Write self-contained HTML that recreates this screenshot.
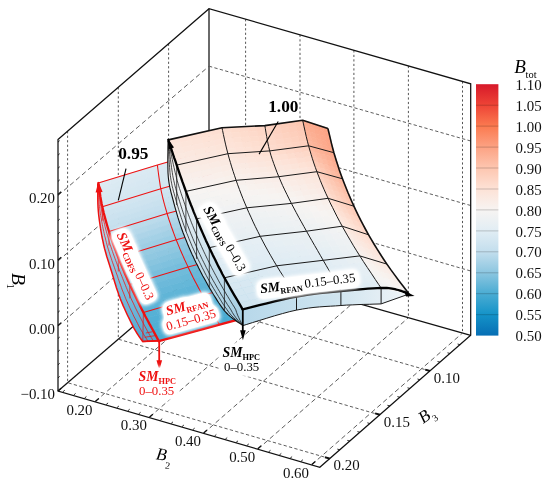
<!DOCTYPE html>
<html lang="en"><head><meta charset="utf-8"><title>B1-B2-B3 iso-surfaces</title>
<style>
html,body{margin:0;padding:0;background:#fff}
svg{display:block;font-family:"Liberation Serif",serif}
.edge{stroke:#111;stroke-width:1.25;stroke-linejoin:miter;fill:none}
.dash{stroke:#555;stroke-width:0.95;stroke-dasharray:3.3 2.3}
.dash3{stroke:#555;stroke-width:0.95;stroke-dasharray:4.8 3.1}
.dot{stroke:#555;stroke-width:1.0;stroke-dasharray:2.2 2.3}
.tkM{stroke:#111;stroke-width:1.3}
.tkB{stroke:#111;stroke-width:2.0}
.tkm{stroke:#111;stroke-width:0.9}
.rmesh{stroke:#ee1111;stroke-width:1.05;stroke-linejoin:round}
.rthin{stroke:#ee1111;stroke-width:0.75}
.rthino{stroke:#ee1111;stroke-width:1.5;stroke-linejoin:round}
.rthick{stroke:#ee1111;stroke-width:2.3;stroke-linejoin:round;stroke-linecap:round}
.rarrow{stroke:#ee1111;stroke-width:1.8}
.bmesh{stroke:#1a1a1a;stroke-width:1.0;stroke-linejoin:round}
.bedge{stroke:#111;stroke-width:1.6;stroke-linejoin:round}
.bthin{stroke:#111;stroke-width:0.75}
.bthino{stroke:#111;stroke-width:1.1;stroke-linejoin:round}
.bthick{stroke:#000;stroke-width:2.3;stroke-linejoin:round;stroke-linecap:round}
.bthick2{stroke:#000;stroke-width:2.0;stroke-linejoin:round;stroke-linecap:round}
.barrow{stroke:#000;stroke-width:1.8}
.glow{fill:#fff;stroke:#fff;stroke-width:6.5;stroke-linejoin:round;filter:url(#blur)}
</style></head><body>
<svg width="550" height="483" viewBox="0 0 550 483">
<defs><filter id="blur" x="-20%" y="-60%" width="140%" height="220%"><feGaussianBlur stdDeviation="2.0"/><feComponentTransfer><feFuncA type="linear" slope="1.8" intercept="0"/></feComponentTransfer></filter></defs>
<rect width="550" height="483" fill="#fff"/>
<g id="box-back">
<line x1="209.0" y1="8.7" x2="209.0" y2="261.2" class="edge"/>
<line x1="58.0" y1="391.0" x2="209.0" y2="261.2" class="edge"/>
<line x1="209.0" y1="261.2" x2="470.7" y2="335.3" class="edge"/>
</g>
<g id="grid">
<line x1="67.6" y1="131.2" x2="67.6" y2="382.7" class="dot"/>
<line x1="118.3" y1="87.3" x2="118.3" y2="339.2" class="dot"/>
<line x1="168.6" y1="43.7" x2="168.6" y2="295.9" class="dot"/>
<line x1="245.6" y1="19.2" x2="245.6" y2="271.6" class="dot"/>
<line x1="300.0" y1="34.8" x2="300.0" y2="287.0" class="dot"/>
<line x1="353.9" y1="50.3" x2="353.9" y2="302.2" class="dot"/>
<line x1="408.4" y1="65.9" x2="408.4" y2="317.7" class="dot"/>
<line x1="462.5" y1="81.4" x2="462.5" y2="333.0" class="dot"/>
<line x1="58.0" y1="195.5" x2="209.0" y2="66.2" class="dash3"/>
<line x1="209.0" y1="66.2" x2="470.7" y2="141.0" class="dash"/>
<line x1="58.0" y1="261.0" x2="209.0" y2="130.7" class="dash3"/>
<line x1="209.0" y1="130.7" x2="470.7" y2="205.5" class="dash"/>
<line x1="58.0" y1="326.0" x2="209.0" y2="195.2" class="dash3"/>
<line x1="209.0" y1="195.2" x2="470.7" y2="271.0" class="dash"/>
<line x1="95.3" y1="401.4" x2="245.6" y2="271.6" class="dash3"/>
<line x1="149.7" y1="416.9" x2="300.0" y2="287.0" class="dash3"/>
<line x1="203.8" y1="433.1" x2="353.9" y2="302.2" class="dash3"/>
<line x1="258.0" y1="449.0" x2="408.4" y2="317.7" class="dash3"/>
<line x1="311.8" y1="464.6" x2="462.5" y2="333.0" class="dash3"/>
<line x1="329.8" y1="458.6" x2="67.6" y2="382.7" class="dash"/>
<line x1="380.0" y1="415.0" x2="118.3" y2="339.2" class="dash"/>
<line x1="430.0" y1="371.0" x2="168.6" y2="295.9" class="dash"/>
</g>
<polygon class="edge" fill="none" points="58.0,139.5 209.0,8.7 470.7,83.8 470.7,335.3 319.8,467.3 58.0,391.0"/>
<g id="ticks">
<line x1="58.0" y1="391.0" x2="61.2" y2="388.3" class="tkM"/>
<line x1="58.0" y1="377.9" x2="59.7" y2="376.4" class="tkm"/>
<line x1="58.0" y1="364.8" x2="59.7" y2="363.3" class="tkm"/>
<line x1="58.0" y1="351.7" x2="59.7" y2="350.2" class="tkm"/>
<line x1="58.0" y1="338.6" x2="59.7" y2="337.1" class="tkm"/>
<line x1="58.0" y1="325.5" x2="61.2" y2="322.8" class="tkM"/>
<line x1="58.0" y1="312.4" x2="59.7" y2="310.9" class="tkm"/>
<line x1="58.0" y1="299.3" x2="59.7" y2="297.8" class="tkm"/>
<line x1="58.0" y1="286.2" x2="59.7" y2="284.7" class="tkm"/>
<line x1="58.0" y1="273.1" x2="59.7" y2="271.6" class="tkm"/>
<line x1="58.0" y1="260.0" x2="61.2" y2="257.3" class="tkM"/>
<line x1="58.0" y1="246.9" x2="59.7" y2="245.4" class="tkm"/>
<line x1="58.0" y1="233.8" x2="59.7" y2="232.3" class="tkm"/>
<line x1="58.0" y1="220.7" x2="59.7" y2="219.2" class="tkm"/>
<line x1="58.0" y1="207.6" x2="59.7" y2="206.1" class="tkm"/>
<line x1="58.0" y1="194.5" x2="61.2" y2="191.8" class="tkM"/>
<line x1="58.0" y1="181.4" x2="59.7" y2="179.9" class="tkm"/>
<line x1="58.0" y1="168.3" x2="59.7" y2="166.8" class="tkm"/>
<line x1="58.0" y1="155.2" x2="59.7" y2="153.7" class="tkm"/>
<line x1="58.0" y1="142.1" x2="59.7" y2="140.6" class="tkm"/>
<line x1="62.8" y1="391.9" x2="64.8" y2="390.2" class="tkm"/>
<line x1="73.7" y1="395.1" x2="75.6" y2="393.4" class="tkm"/>
<line x1="84.5" y1="398.2" x2="86.4" y2="396.5" class="tkm"/>
<line x1="95.3" y1="401.4" x2="98.8" y2="398.4" class="tkM"/>
<line x1="106.1" y1="404.6" x2="108.1" y2="402.9" class="tkm"/>
<line x1="116.9" y1="407.7" x2="118.9" y2="406.0" class="tkm"/>
<line x1="127.8" y1="410.9" x2="129.7" y2="409.2" class="tkm"/>
<line x1="138.6" y1="414.0" x2="140.6" y2="412.3" class="tkm"/>
<line x1="149.4" y1="417.2" x2="152.9" y2="414.2" class="tkM"/>
<line x1="160.2" y1="420.4" x2="162.2" y2="418.7" class="tkm"/>
<line x1="171.1" y1="423.5" x2="173.0" y2="421.8" class="tkm"/>
<line x1="181.9" y1="426.7" x2="183.9" y2="425.0" class="tkm"/>
<line x1="192.7" y1="429.8" x2="194.7" y2="428.1" class="tkm"/>
<line x1="203.6" y1="433.0" x2="207.0" y2="430.0" class="tkM"/>
<line x1="214.4" y1="436.2" x2="216.3" y2="434.5" class="tkm"/>
<line x1="225.2" y1="439.3" x2="227.2" y2="437.6" class="tkm"/>
<line x1="236.0" y1="442.5" x2="238.0" y2="440.8" class="tkm"/>
<line x1="246.8" y1="445.6" x2="248.8" y2="443.9" class="tkm"/>
<line x1="257.7" y1="448.8" x2="261.2" y2="445.8" class="tkM"/>
<line x1="268.5" y1="452.0" x2="270.5" y2="450.3" class="tkm"/>
<line x1="279.3" y1="455.1" x2="281.3" y2="453.4" class="tkm"/>
<line x1="290.1" y1="458.3" x2="292.1" y2="456.6" class="tkm"/>
<line x1="301.0" y1="461.4" x2="302.9" y2="459.7" class="tkm"/>
<line x1="311.8" y1="464.6" x2="315.3" y2="461.6" class="tkM"/>
<line x1="329.8" y1="458.6" x2="325.0" y2="457.2" class="tkB"/>
<line x1="339.8" y1="449.8" x2="337.3" y2="449.1" class="tkm"/>
<line x1="349.8" y1="441.1" x2="347.3" y2="440.4" class="tkm"/>
<line x1="359.9" y1="432.3" x2="357.4" y2="431.6" class="tkm"/>
<line x1="369.9" y1="423.6" x2="367.4" y2="422.8" class="tkm"/>
<line x1="379.9" y1="414.8" x2="375.1" y2="413.4" class="tkB"/>
<line x1="389.9" y1="406.0" x2="387.4" y2="405.3" class="tkm"/>
<line x1="399.9" y1="397.3" x2="397.4" y2="396.6" class="tkm"/>
<line x1="410.0" y1="388.5" x2="407.5" y2="387.8" class="tkm"/>
<line x1="420.0" y1="379.8" x2="417.5" y2="379.0" class="tkm"/>
<line x1="430.0" y1="371.0" x2="425.2" y2="369.6" class="tkB"/>
<line x1="440.0" y1="362.2" x2="437.5" y2="361.5" class="tkm"/>
<line x1="450.0" y1="353.5" x2="447.5" y2="352.8" class="tkm"/>
<line x1="460.1" y1="344.7" x2="457.6" y2="344.0" class="tkm"/>
</g>
<g id="red-body">
<defs><linearGradient id="rbandg" gradientUnits="userSpaceOnUse" x1="0" y1="183" x2="0" y2="342"><stop offset="0" stop-color="#d6e8f2"/><stop offset="0.45" stop-color="#9bcbe3"/><stop offset="1" stop-color="#4ea9d3"/></linearGradient></defs>
<clipPath id="bandclip1"><polygon points="98.3,183.1 98.6,184.9 99.0,187.3 99.4,190.2 99.9,193.3 100.4,196.7 101.0,200.2 101.6,203.5 102.3,206.7 103.0,209.7 103.7,212.8 104.5,215.9 105.3,218.9 106.2,222.1 107.1,225.2 108.0,228.3 109.0,231.5 110.0,234.7 111.1,237.9 112.2,241.1 113.3,244.4 114.5,247.6 115.8,250.9 117.0,254.2 118.3,257.5 119.6,260.8 121.0,264.1 122.4,267.5 123.8,270.8 125.2,274.2 126.7,277.6 128.2,281.0 129.8,284.4 131.4,287.8 133.0,291.3 134.7,294.8 136.4,298.3 138.1,301.8 139.8,305.3 141.6,308.9 143.4,312.4 145.3,316.2 147.5,320.2 149.7,324.4 152.0,328.5 154.1,332.4 156.0,335.9 157.6,338.9 158.8,341.1 159.1,341.0 142.6,341.6 142.0,340.7 141.2,339.5 140.2,338.1 139.1,336.5 138.0,334.8 136.8,333.0 135.7,331.2 134.6,329.3 133.5,327.4 132.5,325.3 131.4,323.2 130.3,321.0 129.2,318.7 128.1,316.5 127.0,314.2 126.0,312.0 125.0,309.8 124.1,307.7 123.1,305.6 122.2,303.4 121.3,301.3 120.4,299.1 119.6,296.8 118.7,294.5 117.9,292.1 117.1,289.8 116.3,287.4 115.6,285.0 114.8,282.5 114.0,279.8 113.2,277.0 112.3,274.0 111.3,270.8 110.2,267.3 109.1,263.7 107.9,260.0 106.7,256.2 105.6,252.3 104.5,248.4 103.6,244.5 102.8,240.6 101.9,236.5 101.2,232.3 100.5,228.2 99.9,224.0 99.3,219.9 98.8,215.9 98.4,212.0 98.1,208.1 97.9,204.0 97.8,199.8 97.8,195.8 97.8,192.1 97.8,188.7 97.8,185.9 97.8,183.7"/></clipPath>
<polygon points="98.3,183.1 98.6,184.9 99.0,187.3 99.4,190.2 99.9,193.3 100.4,196.7 101.0,200.2 101.6,203.5 102.3,206.7 103.0,209.7 103.7,212.8 104.5,215.9 105.3,218.9 106.2,222.1 107.1,225.2 108.0,228.3 109.0,231.5 110.0,234.7 111.1,237.9 112.2,241.1 113.3,244.4 114.5,247.6 115.8,250.9 117.0,254.2 118.3,257.5 119.6,260.8 121.0,264.1 122.4,267.5 123.8,270.8 125.2,274.2 126.7,277.6 128.2,281.0 129.8,284.4 131.4,287.8 133.0,291.3 134.7,294.8 136.4,298.3 138.1,301.8 139.8,305.3 141.6,308.9 143.4,312.4 145.3,316.2 147.5,320.2 149.7,324.4 152.0,328.5 154.1,332.4 156.0,335.9 157.6,338.9 158.8,341.1 159.1,341.0 142.6,341.6 142.0,340.7 141.2,339.5 140.2,338.1 139.1,336.5 138.0,334.8 136.8,333.0 135.7,331.2 134.6,329.3 133.5,327.4 132.5,325.3 131.4,323.2 130.3,321.0 129.2,318.7 128.1,316.5 127.0,314.2 126.0,312.0 125.0,309.8 124.1,307.7 123.1,305.6 122.2,303.4 121.3,301.3 120.4,299.1 119.6,296.8 118.7,294.5 117.9,292.1 117.1,289.8 116.3,287.4 115.6,285.0 114.8,282.5 114.0,279.8 113.2,277.0 112.3,274.0 111.3,270.8 110.2,267.3 109.1,263.7 107.9,260.0 106.7,256.2 105.6,252.3 104.5,248.4 103.6,244.5 102.8,240.6 101.9,236.5 101.2,232.3 100.5,228.2 99.9,224.0 99.3,219.9 98.8,215.9 98.4,212.0 98.1,208.1 97.9,204.0 97.8,199.8 97.8,195.8 97.8,192.1 97.8,188.7 97.8,185.9 97.8,183.7" fill="url(#rbandg)" stroke="none"/>
<g clip-path="url(#bandclip1)">
<polyline points="98.2,184.0 98.5,186.2 98.7,188.5 98.9,190.8 99.2,193.0 99.4,195.2 99.6,197.5 99.9,199.8 100.2,202.0 100.5,204.2 100.9,206.5 101.2,208.8 101.7,211.0 102.1,213.2 102.5,215.5 103.0,217.8 103.5,220.0 104.1,222.2 104.6,224.5 105.1,226.8 105.7,229.0 106.3,231.2 106.9,233.5 107.6,235.8 108.2,238.0 108.9,240.2 109.5,242.5 110.2,244.8 111.0,247.0 111.7,249.2 112.5,251.5 113.3,253.8 114.1,256.0 114.9,258.2 115.7,260.5 116.6,262.8 117.4,265.0 118.3,267.2 119.2,269.5 120.0,271.8 120.9,274.0 121.8,276.2 122.7,278.5 123.6,280.8 124.5,283.0 125.4,285.2 126.3,287.5 127.3,289.8 128.2,292.0 129.2,294.2 130.2,296.5 131.2,298.8 132.2,301.0 133.3,303.2 134.4,305.5 135.4,307.8 136.5,310.0 137.6,312.2 138.8,314.5 139.9,316.8 141.1,319.0 142.2,321.2 143.4,323.5 144.6,325.8 145.8,328.0 147.0,330.2 148.3,332.5 149.6,334.8 150.9,337.0 152.3,339.2 153.4,341.5" class="rthin" fill="none"/>
<polyline points="98.0,184.0 98.1,186.2 98.3,188.5 98.4,190.8 98.5,193.0 98.6,195.2 98.7,197.5 98.9,199.8 99.1,202.0 99.2,204.2 99.5,206.5 99.7,208.8 100.0,211.0 100.3,213.2 100.7,215.5 101.1,217.8 101.5,220.0 101.9,222.2 102.3,224.5 102.7,226.8 103.2,229.0 103.7,231.2 104.2,233.5 104.7,235.8 105.3,238.0 105.8,240.2 106.4,242.5 107.0,244.8 107.6,247.0 108.3,249.2 109.0,251.5 109.7,253.8 110.4,256.0 111.2,258.2 111.9,260.5 112.7,262.8 113.5,265.0 114.3,267.2 115.1,269.5 115.9,271.8 116.7,274.0 117.5,276.2 118.2,278.5 119.0,280.8 119.8,283.0 120.6,285.2 121.4,287.5 122.2,289.8 123.1,292.0 124.0,294.2 124.9,296.5 125.8,298.8 126.8,301.0 127.8,303.2 128.8,305.5 129.8,307.8 130.9,310.0 132.0,312.2 133.0,314.5 134.1,316.8 135.3,319.0 136.4,321.2 137.6,323.5 138.7,325.8 139.9,328.0 141.2,330.2 142.5,332.5 143.9,334.8 145.3,337.0 146.7,339.2 148.1,341.5" class="rthin" fill="none"/>
<polyline points="102.3,206.7 102.3,220.7" class="rthin" fill="none"/>
<polyline points="109.0,231.5 109.0,245.5" class="rthin" fill="none"/>
<polyline points="118.3,257.5 118.3,271.5" class="rthin" fill="none"/>
<polyline points="129.8,284.4 129.8,298.4" class="rthin" fill="none"/>
</g>
<polyline points="97.8,183.7 97.8,185.9 97.8,188.7 97.8,192.1 97.8,195.8 97.8,199.8 97.9,204.0 98.1,208.1 98.4,212.0 98.8,215.9 99.3,219.9 99.9,224.0 100.5,228.2 101.2,232.3 101.9,236.5 102.8,240.6 103.6,244.5 104.5,248.4 105.6,252.3 106.7,256.2 107.9,260.0 109.1,263.7 110.2,267.3 111.3,270.8 112.3,274.0 113.2,277.0 114.0,279.8 114.8,282.5 115.6,285.0 116.3,287.4 117.1,289.8 117.9,292.1 118.7,294.5 119.6,296.8 120.4,299.1 121.3,301.3 122.2,303.4 123.1,305.6 124.1,307.7 125.0,309.8 126.0,312.0 127.0,314.2 128.1,316.5 129.2,318.7 130.3,321.0 131.4,323.2 132.5,325.3 133.5,327.4 134.6,329.3 135.7,331.2 136.8,333.0 138.0,334.8 139.1,336.5 140.2,338.1 141.2,339.5 142.0,340.7 142.6,341.6 159.1,341.0" class="rthino" fill="none"/>
<polyline points="143.4,312.4 142.8,341.2" class="rthin" fill="none"/>
<polyline points="144.6,337.3 155.5,335.6" class="rthin" fill="none"/>
<polyline points="145.8,333.0 152.2,331.8" class="rthin" fill="none"/>
<polyline points="142.6,341.6 159.1,340.6" class="rthino" fill="none"/>
<polygon points="98.3,183.1 110.1,179.5 110.9,184.2 99.1,187.8" fill="#ddebf3" stroke="#ddebf3" stroke-width="0.7"/>
<polygon points="99.1,187.8 110.9,184.2 111.7,188.9 99.9,192.5" fill="#dbeaf3" stroke="#dbeaf3" stroke-width="0.7"/>
<polygon points="99.9,192.5 111.7,188.9 112.4,193.7 100.7,197.3" fill="#d9e9f2" stroke="#d9e9f2" stroke-width="0.7"/>
<polygon points="100.7,197.3 112.4,193.7 113.2,198.4 101.5,202.0" fill="#d7e8f2" stroke="#d7e8f2" stroke-width="0.7"/>
<polygon points="101.5,202.0 113.2,198.4 114.0,203.1 102.3,206.7" fill="#d6e7f1" stroke="#d6e7f1" stroke-width="0.7"/>
<polygon points="110.1,179.5 121.9,175.9 122.7,180.6 110.9,184.2" fill="#dcebf3" stroke="#dcebf3" stroke-width="0.7"/>
<polygon points="110.9,184.2 122.7,180.6 123.4,185.4 111.7,188.9" fill="#daeaf2" stroke="#daeaf2" stroke-width="0.7"/>
<polygon points="111.7,188.9 123.4,185.4 124.2,190.1 112.4,193.7" fill="#d9e9f2" stroke="#d9e9f2" stroke-width="0.7"/>
<polygon points="112.4,193.7 124.2,190.1 124.9,194.8 113.2,198.4" fill="#d7e8f2" stroke="#d7e8f2" stroke-width="0.7"/>
<polygon points="113.2,198.4 124.9,194.8 125.7,199.5 114.0,203.1" fill="#d5e7f1" stroke="#d5e7f1" stroke-width="0.7"/>
<polygon points="121.9,175.9 133.8,172.3 134.5,177.0 122.7,180.6" fill="#dceaf3" stroke="#dceaf3" stroke-width="0.7"/>
<polygon points="122.7,180.6 134.5,177.0 135.2,181.8 123.4,185.4" fill="#dae9f2" stroke="#dae9f2" stroke-width="0.7"/>
<polygon points="123.4,185.4 135.2,181.8 135.9,186.5 124.2,190.1" fill="#d8e8f2" stroke="#d8e8f2" stroke-width="0.7"/>
<polygon points="124.2,190.1 135.9,186.5 136.7,191.2 124.9,194.8" fill="#d6e8f1" stroke="#d6e8f1" stroke-width="0.7"/>
<polygon points="124.9,194.8 136.7,191.2 137.4,196.0 125.7,199.5" fill="#d4e7f1" stroke="#d4e7f1" stroke-width="0.7"/>
<polygon points="133.8,172.3 145.6,168.7 146.3,173.4 134.5,177.0" fill="#dbeaf3" stroke="#dbeaf3" stroke-width="0.7"/>
<polygon points="134.5,177.0 146.3,173.4 147.0,178.2 135.2,181.8" fill="#d9e9f2" stroke="#d9e9f2" stroke-width="0.7"/>
<polygon points="135.2,181.8 147.0,178.2 147.7,182.9 135.9,186.5" fill="#d7e8f2" stroke="#d7e8f2" stroke-width="0.7"/>
<polygon points="135.9,186.5 147.7,182.9 148.4,187.6 136.7,191.2" fill="#d6e7f1" stroke="#d6e7f1" stroke-width="0.7"/>
<polygon points="136.7,191.2 148.4,187.6 149.1,192.4 137.4,196.0" fill="#d4e6f1" stroke="#d4e6f1" stroke-width="0.7"/>
<polygon points="145.6,168.7 157.4,165.1 158.1,169.8 146.3,173.4" fill="#daeaf2" stroke="#daeaf2" stroke-width="0.7"/>
<polygon points="146.3,173.4 158.1,169.8 158.8,174.6 147.0,178.2" fill="#d9e9f2" stroke="#d9e9f2" stroke-width="0.7"/>
<polygon points="147.0,178.2 158.8,174.6 159.4,179.3 147.7,182.9" fill="#d7e8f2" stroke="#d7e8f2" stroke-width="0.7"/>
<polygon points="147.7,182.9 159.4,179.3 160.1,184.1 148.4,187.6" fill="#d5e7f1" stroke="#d5e7f1" stroke-width="0.7"/>
<polygon points="148.4,187.6 160.1,184.1 160.8,188.8 149.1,192.4" fill="#d3e6f1" stroke="#d3e6f1" stroke-width="0.7"/>
<polygon points="157.4,165.1 167.3,162.2 168.0,167.0 158.1,169.8" fill="#dae9f2" stroke="#dae9f2" stroke-width="0.7"/>
<polygon points="158.1,169.8 168.0,167.0 168.8,171.7 158.8,174.6" fill="#d8e8f2" stroke="#d8e8f2" stroke-width="0.7"/>
<polygon points="158.8,174.6 168.8,171.7 169.5,176.5 159.4,179.3" fill="#d6e8f1" stroke="#d6e8f1" stroke-width="0.7"/>
<polygon points="159.4,179.3 169.5,176.5 170.2,181.2 160.1,184.1" fill="#d4e7f1" stroke="#d4e7f1" stroke-width="0.7"/>
<polygon points="160.1,184.1 170.2,181.2 170.9,186.0 160.8,188.8" fill="#d3e6f1" stroke="#d3e6f1" stroke-width="0.7"/>
<polygon points="167.3,162.2 177.2,159.3 178.0,164.1 168.0,167.0" fill="#d9e9f2" stroke="#d9e9f2" stroke-width="0.7"/>
<polygon points="168.0,167.0 178.0,164.1 178.8,168.9 168.8,171.7" fill="#d7e8f2" stroke="#d7e8f2" stroke-width="0.7"/>
<polygon points="168.8,171.7 178.8,168.9 179.5,173.6 169.5,176.5" fill="#d6e7f1" stroke="#d6e7f1" stroke-width="0.7"/>
<polygon points="169.5,176.5 179.5,173.6 180.3,178.4 170.2,181.2" fill="#d4e6f1" stroke="#d4e6f1" stroke-width="0.7"/>
<polygon points="170.2,181.2 180.3,178.4 181.1,183.1 170.9,186.0" fill="#d2e5f0" stroke="#d2e5f0" stroke-width="0.7"/>
<polygon points="177.2,159.3 187.2,156.5 188.0,161.2 178.0,164.1" fill="#d9e9f2" stroke="#d9e9f2" stroke-width="0.7"/>
<polygon points="178.0,164.1 188.0,161.2 188.8,166.0 178.8,168.9" fill="#d7e8f2" stroke="#d7e8f2" stroke-width="0.7"/>
<polygon points="178.8,168.9 188.8,166.0 189.6,170.8 179.5,173.6" fill="#d5e7f1" stroke="#d5e7f1" stroke-width="0.7"/>
<polygon points="179.5,173.6 189.6,170.8 190.4,175.5 180.3,178.4" fill="#d3e6f1" stroke="#d3e6f1" stroke-width="0.7"/>
<polygon points="180.3,178.4 190.4,175.5 191.2,180.3 181.1,183.1" fill="#d1e5f0" stroke="#d1e5f0" stroke-width="0.7"/>
<polygon points="187.2,156.5 197.1,153.6 197.9,158.4 188.0,161.2" fill="#d8e9f2" stroke="#d8e9f2" stroke-width="0.7"/>
<polygon points="188.0,161.2 197.9,158.4 198.8,163.1 188.8,166.0" fill="#d6e8f1" stroke="#d6e8f1" stroke-width="0.7"/>
<polygon points="188.8,166.0 198.8,163.1 199.6,167.9 189.6,170.8" fill="#d4e7f1" stroke="#d4e7f1" stroke-width="0.7"/>
<polygon points="189.6,170.8 199.6,167.9 200.5,172.7 190.4,175.5" fill="#d3e6f1" stroke="#d3e6f1" stroke-width="0.7"/>
<polygon points="190.4,175.5 200.5,172.7 201.4,177.4 191.2,180.3" fill="#d1e5f0" stroke="#d1e5f0" stroke-width="0.7"/>
<polygon points="197.1,153.6 207.0,150.7 207.9,155.5 197.9,158.4" fill="#d7e8f2" stroke="#d7e8f2" stroke-width="0.7"/>
<polygon points="197.9,158.4 207.9,155.5 208.8,160.3 198.8,163.1" fill="#d6e7f1" stroke="#d6e7f1" stroke-width="0.7"/>
<polygon points="198.8,163.1 208.8,160.3 209.7,165.0 199.6,167.9" fill="#d4e6f1" stroke="#d4e6f1" stroke-width="0.7"/>
<polygon points="199.6,167.9 209.7,165.0 210.6,169.8 200.5,172.7" fill="#d2e6f0" stroke="#d2e6f0" stroke-width="0.7"/>
<polygon points="200.5,172.7 210.6,169.8 211.5,174.6 201.4,177.4" fill="#d0e5f0" stroke="#d0e5f0" stroke-width="0.7"/>
<polygon points="102.3,206.7 114.0,203.1 115.3,208.1 103.6,211.7" fill="#d3e6f1" stroke="#d3e6f1" stroke-width="0.7"/>
<polygon points="103.6,211.7 115.3,208.1 116.6,213.0 105.0,216.6" fill="#cfe4f0" stroke="#cfe4f0" stroke-width="0.7"/>
<polygon points="105.0,216.6 116.6,213.0 118.0,218.0 106.3,221.6" fill="#cce2ef" stroke="#cce2ef" stroke-width="0.7"/>
<polygon points="106.3,221.6 118.0,218.0 119.3,223.0 107.7,226.5" fill="#c8e1ee" stroke="#c8e1ee" stroke-width="0.7"/>
<polygon points="107.7,226.5 119.3,223.0 120.6,227.9 109.0,231.5" fill="#c5dfed" stroke="#c5dfed" stroke-width="0.7"/>
<polygon points="114.0,203.1 125.7,199.5 127.0,204.5 115.3,208.1" fill="#d2e6f1" stroke="#d2e6f1" stroke-width="0.7"/>
<polygon points="115.3,208.1 127.0,204.5 128.3,209.5 116.6,213.0" fill="#cfe4f0" stroke="#cfe4f0" stroke-width="0.7"/>
<polygon points="116.6,213.0 128.3,209.5 129.6,214.4 118.0,218.0" fill="#cbe2ef" stroke="#cbe2ef" stroke-width="0.7"/>
<polygon points="118.0,218.0 129.6,214.4 130.9,219.4 119.3,223.0" fill="#c7e0ee" stroke="#c7e0ee" stroke-width="0.7"/>
<polygon points="119.3,223.0 130.9,219.4 132.2,224.3 120.6,227.9" fill="#c4deed" stroke="#c4deed" stroke-width="0.7"/>
<polygon points="125.7,199.5 137.4,196.0 138.7,200.9 127.0,204.5" fill="#d2e5f0" stroke="#d2e5f0" stroke-width="0.7"/>
<polygon points="127.0,204.5 138.7,200.9 140.0,205.9 128.3,209.5" fill="#cee4f0" stroke="#cee4f0" stroke-width="0.7"/>
<polygon points="128.3,209.5 140.0,205.9 141.3,210.8 129.6,214.4" fill="#cbe2ef" stroke="#cbe2ef" stroke-width="0.7"/>
<polygon points="129.6,214.4 141.3,210.8 142.6,215.8 130.9,219.4" fill="#c7e0ee" stroke="#c7e0ee" stroke-width="0.7"/>
<polygon points="130.9,219.4 142.6,215.8 143.9,220.8 132.2,224.3" fill="#c3deed" stroke="#c3deed" stroke-width="0.7"/>
<polygon points="137.4,196.0 149.1,192.4 150.4,197.3 138.7,200.9" fill="#d1e5f0" stroke="#d1e5f0" stroke-width="0.7"/>
<polygon points="138.7,200.9 150.4,197.3 151.7,202.3 140.0,205.9" fill="#cee3ef" stroke="#cee3ef" stroke-width="0.7"/>
<polygon points="140.0,205.9 151.7,202.3 152.9,207.3 141.3,210.8" fill="#cae1ef" stroke="#cae1ef" stroke-width="0.7"/>
<polygon points="141.3,210.8 152.9,207.3 154.2,212.2 142.6,215.8" fill="#c6e0ee" stroke="#c6e0ee" stroke-width="0.7"/>
<polygon points="142.6,215.8 154.2,212.2 155.5,217.2 143.9,220.8" fill="#c2deed" stroke="#c2deed" stroke-width="0.7"/>
<polygon points="149.1,192.4 160.8,188.8 162.1,193.8 150.4,197.3" fill="#d1e5f0" stroke="#d1e5f0" stroke-width="0.7"/>
<polygon points="150.4,197.3 162.1,193.8 163.3,198.7 151.7,202.3" fill="#cde3ef" stroke="#cde3ef" stroke-width="0.7"/>
<polygon points="151.7,202.3 163.3,198.7 164.6,203.7 152.9,207.3" fill="#c9e1ee" stroke="#c9e1ee" stroke-width="0.7"/>
<polygon points="152.9,207.3 164.6,203.7 165.8,208.6 154.2,212.2" fill="#c6dfee" stroke="#c6dfee" stroke-width="0.7"/>
<polygon points="154.2,212.2 165.8,208.6 167.1,213.6 155.5,217.2" fill="#c1dded" stroke="#c1dded" stroke-width="0.7"/>
<polygon points="160.8,188.8 170.9,186.0 172.2,190.9 162.1,193.8" fill="#d0e4f0" stroke="#d0e4f0" stroke-width="0.7"/>
<polygon points="162.1,193.8 172.2,190.9 173.5,195.9 163.3,198.7" fill="#cce3ef" stroke="#cce3ef" stroke-width="0.7"/>
<polygon points="163.3,198.7 173.5,195.9 174.9,200.9 164.6,203.7" fill="#c9e1ee" stroke="#c9e1ee" stroke-width="0.7"/>
<polygon points="164.6,203.7 174.9,200.9 176.2,205.8 165.8,208.6" fill="#c5dfed" stroke="#c5dfed" stroke-width="0.7"/>
<polygon points="165.8,208.6 176.2,205.8 177.5,210.8 167.1,213.6" fill="#c0ddec" stroke="#c0ddec" stroke-width="0.7"/>
<polygon points="170.9,186.0 181.1,183.1 182.4,188.1 172.2,190.9" fill="#cfe4f0" stroke="#cfe4f0" stroke-width="0.7"/>
<polygon points="172.2,190.9 182.4,188.1 183.8,193.1 173.5,195.9" fill="#cce2ef" stroke="#cce2ef" stroke-width="0.7"/>
<polygon points="173.5,195.9 183.8,193.1 185.1,198.1 174.9,200.9" fill="#c8e1ee" stroke="#c8e1ee" stroke-width="0.7"/>
<polygon points="174.9,200.9 185.1,198.1 186.5,203.1 176.2,205.8" fill="#c4dfed" stroke="#c4dfed" stroke-width="0.7"/>
<polygon points="176.2,205.8 186.5,203.1 187.8,208.0 177.5,210.8" fill="#bfdcec" stroke="#bfdcec" stroke-width="0.7"/>
<polygon points="181.1,183.1 191.2,180.3 192.6,185.3 182.4,188.1" fill="#cfe4f0" stroke="#cfe4f0" stroke-width="0.7"/>
<polygon points="182.4,188.1 192.6,185.3 194.0,190.3 183.8,193.1" fill="#cbe2ef" stroke="#cbe2ef" stroke-width="0.7"/>
<polygon points="183.8,193.1 194.0,190.3 195.4,195.3 185.1,198.1" fill="#c7e0ee" stroke="#c7e0ee" stroke-width="0.7"/>
<polygon points="185.1,198.1 195.4,195.3 196.8,200.3 186.5,203.1" fill="#c4deed" stroke="#c4deed" stroke-width="0.7"/>
<polygon points="186.5,203.1 196.8,200.3 198.2,205.3 187.8,208.0" fill="#bedcec" stroke="#bedcec" stroke-width="0.7"/>
<polygon points="191.2,180.3 201.4,177.4 202.8,182.4 192.6,185.3" fill="#cee4f0" stroke="#cee4f0" stroke-width="0.7"/>
<polygon points="192.6,185.3 202.8,182.4 204.2,187.5 194.0,190.3" fill="#cbe2ef" stroke="#cbe2ef" stroke-width="0.7"/>
<polygon points="194.0,190.3 204.2,187.5 205.7,192.5 195.4,195.3" fill="#c7e0ee" stroke="#c7e0ee" stroke-width="0.7"/>
<polygon points="195.4,195.3 205.7,192.5 207.1,197.5 196.8,200.3" fill="#c3deed" stroke="#c3deed" stroke-width="0.7"/>
<polygon points="196.8,200.3 207.1,197.5 208.5,202.5 198.2,205.3" fill="#bddbec" stroke="#bddbec" stroke-width="0.7"/>
<polygon points="201.4,177.4 211.5,174.6 213.0,179.6 202.8,182.4" fill="#cde3ef" stroke="#cde3ef" stroke-width="0.7"/>
<polygon points="202.8,182.4 213.0,179.6 214.5,184.6 204.2,187.5" fill="#cae1ef" stroke="#cae1ef" stroke-width="0.7"/>
<polygon points="204.2,187.5 214.5,184.6 215.9,189.7 205.7,192.5" fill="#c6e0ee" stroke="#c6e0ee" stroke-width="0.7"/>
<polygon points="205.7,192.5 215.9,189.7 217.4,194.7 207.1,197.5" fill="#c2deed" stroke="#c2deed" stroke-width="0.7"/>
<polygon points="207.1,197.5 217.4,194.7 218.9,199.7 208.5,202.5" fill="#bcdbeb" stroke="#bcdbeb" stroke-width="0.7"/>
<polygon points="109.0,231.5 120.6,227.9 122.5,233.1 110.9,236.7" fill="#bfdcec" stroke="#bfdcec" stroke-width="0.7"/>
<polygon points="110.9,236.7 122.5,233.1 124.3,238.3 112.7,241.9" fill="#b7d9ea" stroke="#b7d9ea" stroke-width="0.7"/>
<polygon points="112.7,241.9 124.3,238.3 126.2,243.5 114.6,247.1" fill="#afd5e8" stroke="#afd5e8" stroke-width="0.7"/>
<polygon points="114.6,247.1 126.2,243.5 128.0,248.7 116.4,252.3" fill="#a8d2e6" stroke="#a8d2e6" stroke-width="0.7"/>
<polygon points="116.4,252.3 128.0,248.7 129.9,253.9 118.3,257.5" fill="#a0cfe5" stroke="#a0cfe5" stroke-width="0.7"/>
<polygon points="120.6,227.9 132.2,224.3 134.1,229.5 122.5,233.1" fill="#bedcec" stroke="#bedcec" stroke-width="0.7"/>
<polygon points="122.5,233.1 134.1,229.5 135.9,234.8 124.3,238.3" fill="#b6d8ea" stroke="#b6d8ea" stroke-width="0.7"/>
<polygon points="124.3,238.3 135.9,234.8 137.8,240.0 126.2,243.5" fill="#aed5e8" stroke="#aed5e8" stroke-width="0.7"/>
<polygon points="126.2,243.5 137.8,240.0 139.6,245.2 128.0,248.7" fill="#a6d2e6" stroke="#a6d2e6" stroke-width="0.7"/>
<polygon points="128.0,248.7 139.6,245.2 141.5,250.4 129.9,253.9" fill="#9fcee4" stroke="#9fcee4" stroke-width="0.7"/>
<polygon points="132.2,224.3 143.9,220.8 145.7,226.0 134.1,229.5" fill="#bcdbeb" stroke="#bcdbeb" stroke-width="0.7"/>
<polygon points="134.1,229.5 145.7,226.0 147.5,231.2 135.9,234.8" fill="#b5d8ea" stroke="#b5d8ea" stroke-width="0.7"/>
<polygon points="135.9,234.8 147.5,231.2 149.4,236.4 137.8,240.0" fill="#add4e8" stroke="#add4e8" stroke-width="0.7"/>
<polygon points="137.8,240.0 149.4,236.4 151.2,241.6 139.6,245.2" fill="#a5d1e6" stroke="#a5d1e6" stroke-width="0.7"/>
<polygon points="139.6,245.2 151.2,241.6 153.0,246.8 141.5,250.4" fill="#9ecee4" stroke="#9ecee4" stroke-width="0.7"/>
<polygon points="143.9,220.8 155.5,217.2 157.3,222.4 145.7,226.0" fill="#bbdbeb" stroke="#bbdbeb" stroke-width="0.7"/>
<polygon points="145.7,226.0 157.3,222.4 159.1,227.6 147.5,231.2" fill="#b4d7e9" stroke="#b4d7e9" stroke-width="0.7"/>
<polygon points="147.5,231.2 159.1,227.6 161.0,232.8 149.4,236.4" fill="#acd4e8" stroke="#acd4e8" stroke-width="0.7"/>
<polygon points="149.4,236.4 161.0,232.8 162.8,238.0 151.2,241.6" fill="#a4d1e6" stroke="#a4d1e6" stroke-width="0.7"/>
<polygon points="151.2,241.6 162.8,238.0 164.6,243.3 153.0,246.8" fill="#9dcde4" stroke="#9dcde4" stroke-width="0.7"/>
<polygon points="155.5,217.2 167.1,213.6 168.9,218.8 157.3,222.4" fill="#badaeb" stroke="#badaeb" stroke-width="0.7"/>
<polygon points="157.3,222.4 168.9,218.8 170.7,224.0 159.1,227.6" fill="#b3d7e9" stroke="#b3d7e9" stroke-width="0.7"/>
<polygon points="159.1,227.6 170.7,224.0 172.6,229.3 161.0,232.8" fill="#abd3e7" stroke="#abd3e7" stroke-width="0.7"/>
<polygon points="161.0,232.8 172.6,229.3 174.4,234.5 162.8,238.0" fill="#a3d0e5" stroke="#a3d0e5" stroke-width="0.7"/>
<polygon points="162.8,238.0 174.4,234.5 176.2,239.7 164.6,243.3" fill="#9bcde4" stroke="#9bcde4" stroke-width="0.7"/>
<polygon points="167.1,213.6 177.5,210.8 179.3,216.0 168.9,218.8" fill="#b9daeb" stroke="#b9daeb" stroke-width="0.7"/>
<polygon points="168.9,218.8 179.3,216.0 181.2,221.3 170.7,224.0" fill="#b1d6e9" stroke="#b1d6e9" stroke-width="0.7"/>
<polygon points="170.7,224.0 181.2,221.3 183.1,226.5 172.6,229.3" fill="#aad3e7" stroke="#aad3e7" stroke-width="0.7"/>
<polygon points="172.6,229.3 183.1,226.5 184.9,231.7 174.4,234.5" fill="#a2d0e5" stroke="#a2d0e5" stroke-width="0.7"/>
<polygon points="174.4,234.5 184.9,231.7 186.8,236.9 176.2,239.7" fill="#9acce3" stroke="#9acce3" stroke-width="0.7"/>
<polygon points="177.5,210.8 187.8,208.0 189.7,213.3 179.3,216.0" fill="#b8d9ea" stroke="#b8d9ea" stroke-width="0.7"/>
<polygon points="179.3,216.0 189.7,213.3 191.6,218.5 181.2,221.3" fill="#b0d6e9" stroke="#b0d6e9" stroke-width="0.7"/>
<polygon points="181.2,221.3 191.6,218.5 193.5,223.7 183.1,226.5" fill="#a9d2e7" stroke="#a9d2e7" stroke-width="0.7"/>
<polygon points="183.1,226.5 193.5,223.7 195.5,228.9 184.9,231.7" fill="#a1cfe5" stroke="#a1cfe5" stroke-width="0.7"/>
<polygon points="184.9,231.7 195.5,228.9 197.4,234.1 186.8,236.9" fill="#99cce3" stroke="#99cce3" stroke-width="0.7"/>
<polygon points="187.8,208.0 198.2,205.3 200.1,210.5 189.7,213.3" fill="#b7d9ea" stroke="#b7d9ea" stroke-width="0.7"/>
<polygon points="189.7,213.3 200.1,210.5 202.1,215.7 191.6,218.5" fill="#afd5e8" stroke="#afd5e8" stroke-width="0.7"/>
<polygon points="191.6,218.5 202.1,215.7 204.0,220.9 193.5,223.7" fill="#a7d2e6" stroke="#a7d2e6" stroke-width="0.7"/>
<polygon points="193.5,223.7 204.0,220.9 206.0,226.1 195.5,228.9" fill="#a0cfe5" stroke="#a0cfe5" stroke-width="0.7"/>
<polygon points="195.5,228.9 206.0,226.1 207.9,231.4 197.4,234.1" fill="#98cbe3" stroke="#98cbe3" stroke-width="0.7"/>
<polygon points="198.2,205.3 208.5,202.5 210.5,207.7 200.1,210.5" fill="#b6d8ea" stroke="#b6d8ea" stroke-width="0.7"/>
<polygon points="200.1,210.5 210.5,207.7 212.5,212.9 202.1,215.7" fill="#aed5e8" stroke="#aed5e8" stroke-width="0.7"/>
<polygon points="202.1,215.7 212.5,212.9 214.5,218.1 204.0,220.9" fill="#a6d2e6" stroke="#a6d2e6" stroke-width="0.7"/>
<polygon points="204.0,220.9 214.5,218.1 216.5,223.4 206.0,226.1" fill="#9fcee4" stroke="#9fcee4" stroke-width="0.7"/>
<polygon points="206.0,226.1 216.5,223.4 218.5,228.6 207.9,231.4" fill="#97cbe3" stroke="#97cbe3" stroke-width="0.7"/>
<polygon points="208.5,202.5 218.9,199.7 220.9,204.9 210.5,207.7" fill="#b5d8ea" stroke="#b5d8ea" stroke-width="0.7"/>
<polygon points="210.5,207.7 220.9,204.9 223.0,210.1 212.5,212.9" fill="#add4e8" stroke="#add4e8" stroke-width="0.7"/>
<polygon points="212.5,212.9 223.0,210.1 225.0,215.4 214.5,218.1" fill="#a5d1e6" stroke="#a5d1e6" stroke-width="0.7"/>
<polygon points="214.5,218.1 225.0,215.4 227.1,220.6 216.5,223.4" fill="#9ecee4" stroke="#9ecee4" stroke-width="0.7"/>
<polygon points="216.5,223.4 227.1,220.6 229.1,225.8 218.5,228.6" fill="#96cae2" stroke="#96cae2" stroke-width="0.7"/>
<polygon points="118.3,257.5 129.9,253.9 132.2,259.3 120.6,262.9" fill="#99cce3" stroke="#99cce3" stroke-width="0.7"/>
<polygon points="120.6,262.9 132.2,259.3 134.5,264.7 122.9,268.3" fill="#92c9e1" stroke="#92c9e1" stroke-width="0.7"/>
<polygon points="122.9,268.3 134.5,264.7 136.8,270.1 125.2,273.6" fill="#8bc6e0" stroke="#8bc6e0" stroke-width="0.7"/>
<polygon points="125.2,273.6 136.8,270.1 139.1,275.5 127.5,279.0" fill="#83c3de" stroke="#83c3de" stroke-width="0.7"/>
<polygon points="127.5,279.0 139.1,275.5 141.4,280.9 129.8,284.4" fill="#7cc0dd" stroke="#7cc0dd" stroke-width="0.7"/>
<polygon points="129.9,253.9 141.5,250.4 143.8,255.8 132.2,259.3" fill="#98cbe3" stroke="#98cbe3" stroke-width="0.7"/>
<polygon points="132.2,259.3 143.8,255.8 146.1,261.2 134.5,264.7" fill="#91c8e1" stroke="#91c8e1" stroke-width="0.7"/>
<polygon points="134.5,264.7 146.1,261.2 148.4,266.6 136.8,270.1" fill="#8ac5e0" stroke="#8ac5e0" stroke-width="0.7"/>
<polygon points="136.8,270.1 148.4,266.6 150.8,272.0 139.1,275.5" fill="#82c2de" stroke="#82c2de" stroke-width="0.7"/>
<polygon points="139.1,275.5 150.8,272.0 153.1,277.4 141.4,280.9" fill="#7abfdc" stroke="#7abfdc" stroke-width="0.7"/>
<polygon points="141.5,250.4 153.0,246.8 155.4,252.2 143.8,255.8" fill="#96cbe2" stroke="#96cbe2" stroke-width="0.7"/>
<polygon points="143.8,255.8 155.4,252.2 157.7,257.7 146.1,261.2" fill="#90c8e1" stroke="#90c8e1" stroke-width="0.7"/>
<polygon points="146.1,261.2 157.7,257.7 160.0,263.1 148.4,266.6" fill="#89c5df" stroke="#89c5df" stroke-width="0.7"/>
<polygon points="148.4,266.6 160.0,263.1 162.4,268.5 150.8,272.0" fill="#81c2de" stroke="#81c2de" stroke-width="0.7"/>
<polygon points="150.8,272.0 162.4,268.5 164.7,273.9 153.1,277.4" fill="#79bedc" stroke="#79bedc" stroke-width="0.7"/>
<polygon points="153.0,246.8 164.6,243.3 167.0,248.7 155.4,252.2" fill="#95cae2" stroke="#95cae2" stroke-width="0.7"/>
<polygon points="155.4,252.2 167.0,248.7 169.3,254.1 157.7,257.7" fill="#8fc7e1" stroke="#8fc7e1" stroke-width="0.7"/>
<polygon points="157.7,257.7 169.3,254.1 171.7,259.5 160.0,263.1" fill="#87c4df" stroke="#87c4df" stroke-width="0.7"/>
<polygon points="160.0,263.1 171.7,259.5 174.0,265.0 162.4,268.5" fill="#7fc1de" stroke="#7fc1de" stroke-width="0.7"/>
<polygon points="162.4,268.5 174.0,265.0 176.4,270.4 164.7,273.9" fill="#78bedc" stroke="#78bedc" stroke-width="0.7"/>
<polygon points="164.6,243.3 176.2,239.7 178.6,245.1 167.0,248.7" fill="#94cae2" stroke="#94cae2" stroke-width="0.7"/>
<polygon points="167.0,248.7 178.6,245.1 180.9,250.6 169.3,254.1" fill="#8ec7e0" stroke="#8ec7e0" stroke-width="0.7"/>
<polygon points="169.3,254.1 180.9,250.6 183.3,256.0 171.7,259.5" fill="#86c4df" stroke="#86c4df" stroke-width="0.7"/>
<polygon points="171.7,259.5 183.3,256.0 185.6,261.5 174.0,265.0" fill="#7ec1dd" stroke="#7ec1dd" stroke-width="0.7"/>
<polygon points="174.0,265.0 185.6,261.5 188.0,266.9 176.4,270.4" fill="#76bddc" stroke="#76bddc" stroke-width="0.7"/>
<polygon points="176.2,239.7 186.8,236.9 189.2,242.4 178.6,245.1" fill="#93c9e2" stroke="#93c9e2" stroke-width="0.7"/>
<polygon points="178.6,245.1 189.2,242.4 191.6,247.8 180.9,250.6" fill="#8dc6e0" stroke="#8dc6e0" stroke-width="0.7"/>
<polygon points="180.9,250.6 191.6,247.8 194.0,253.2 183.3,256.0" fill="#85c3df" stroke="#85c3df" stroke-width="0.7"/>
<polygon points="183.3,256.0 194.0,253.2 196.4,258.6 185.6,261.5" fill="#7dc0dd" stroke="#7dc0dd" stroke-width="0.7"/>
<polygon points="185.6,261.5 196.4,258.6 198.8,264.1 188.0,266.9" fill="#75bddb" stroke="#75bddb" stroke-width="0.7"/>
<polygon points="186.8,236.9 197.4,234.1 199.8,239.6 189.2,242.4" fill="#92c9e1" stroke="#92c9e1" stroke-width="0.7"/>
<polygon points="189.2,242.4 199.8,239.6 202.3,245.0 191.6,247.8" fill="#8bc6e0" stroke="#8bc6e0" stroke-width="0.7"/>
<polygon points="191.6,247.8 202.3,245.0 204.7,250.4 194.0,253.2" fill="#83c3de" stroke="#83c3de" stroke-width="0.7"/>
<polygon points="194.0,253.2 204.7,250.4 207.2,255.8 196.4,258.6" fill="#7bbfdd" stroke="#7bbfdd" stroke-width="0.7"/>
<polygon points="196.4,258.6 207.2,255.8 209.6,261.3 198.8,264.1" fill="#74bcdb" stroke="#74bcdb" stroke-width="0.7"/>
<polygon points="197.4,234.1 207.9,231.4 210.4,236.8 199.8,239.6" fill="#91c8e1" stroke="#91c8e1" stroke-width="0.7"/>
<polygon points="199.8,239.6 210.4,236.8 212.9,242.2 202.3,245.0" fill="#8ac5e0" stroke="#8ac5e0" stroke-width="0.7"/>
<polygon points="202.3,245.0 212.9,242.2 215.5,247.6 204.7,250.4" fill="#82c2de" stroke="#82c2de" stroke-width="0.7"/>
<polygon points="204.7,250.4 215.5,247.6 218.0,253.0 207.2,255.8" fill="#7abfdc" stroke="#7abfdc" stroke-width="0.7"/>
<polygon points="207.2,255.8 218.0,253.0 220.5,258.4 209.6,261.3" fill="#72bcdb" stroke="#72bcdb" stroke-width="0.7"/>
<polygon points="207.9,231.4 218.5,228.6 221.1,234.0 210.4,236.8" fill="#90c8e1" stroke="#90c8e1" stroke-width="0.7"/>
<polygon points="210.4,236.8 221.1,234.0 223.6,239.4 212.9,242.2" fill="#89c5df" stroke="#89c5df" stroke-width="0.7"/>
<polygon points="212.9,242.2 223.6,239.4 226.2,244.8 215.5,247.6" fill="#81c2de" stroke="#81c2de" stroke-width="0.7"/>
<polygon points="215.5,247.6 226.2,244.8 228.7,250.2 218.0,253.0" fill="#79bedc" stroke="#79bedc" stroke-width="0.7"/>
<polygon points="218.0,253.0 228.7,250.2 231.3,255.6 220.5,258.4" fill="#71bbdb" stroke="#71bbdb" stroke-width="0.7"/>
<polygon points="218.5,228.6 229.1,225.8 231.7,231.2 221.1,234.0" fill="#8fc7e1" stroke="#8fc7e1" stroke-width="0.7"/>
<polygon points="221.1,234.0 231.7,231.2 234.3,236.6 223.6,239.4" fill="#87c4df" stroke="#87c4df" stroke-width="0.7"/>
<polygon points="223.6,239.4 234.3,236.6 236.9,242.0 226.2,244.8" fill="#7fc1de" stroke="#7fc1de" stroke-width="0.7"/>
<polygon points="226.2,244.8 236.9,242.0 239.5,247.4 228.7,250.2" fill="#78bedc" stroke="#78bedc" stroke-width="0.7"/>
<polygon points="228.7,250.2 239.5,247.4 242.1,252.8 231.3,255.6" fill="#70bbda" stroke="#70bbda" stroke-width="0.7"/>
<polygon points="129.8,284.4 141.4,280.9 144.2,286.5 132.5,290.0" fill="#74bddb" stroke="#74bddb" stroke-width="0.7"/>
<polygon points="132.5,290.0 144.2,286.5 147.0,292.1 135.2,295.6" fill="#6ebada" stroke="#6ebada" stroke-width="0.7"/>
<polygon points="135.2,295.6 147.0,292.1 149.7,297.7 138.0,301.2" fill="#67b8d9" stroke="#67b8d9" stroke-width="0.7"/>
<polygon points="138.0,301.2 149.7,297.7 152.5,303.3 140.7,306.8" fill="#61b5d8" stroke="#61b5d8" stroke-width="0.7"/>
<polygon points="140.7,306.8 152.5,303.3 155.2,309.0 143.4,312.4" fill="#5ab2d6" stroke="#5ab2d6" stroke-width="0.7"/>
<polygon points="141.4,280.9 153.1,277.4 155.9,283.0 144.2,286.5" fill="#73bcdb" stroke="#73bcdb" stroke-width="0.7"/>
<polygon points="144.2,286.5 155.9,283.0 158.7,288.6 147.0,292.1" fill="#6dbada" stroke="#6dbada" stroke-width="0.7"/>
<polygon points="147.0,292.1 158.7,288.6 161.5,294.3 149.7,297.7" fill="#67b7d9" stroke="#67b7d9" stroke-width="0.7"/>
<polygon points="149.7,297.7 161.5,294.3 164.2,299.9 152.5,303.3" fill="#61b5d7" stroke="#61b5d7" stroke-width="0.7"/>
<polygon points="152.5,303.3 164.2,299.9 167.0,305.5 155.2,309.0" fill="#5ab2d6" stroke="#5ab2d6" stroke-width="0.7"/>
<polygon points="153.1,277.4 164.7,273.9 167.5,279.5 155.9,283.0" fill="#72bcdb" stroke="#72bcdb" stroke-width="0.7"/>
<polygon points="155.9,283.0 167.5,279.5 170.4,285.2 158.7,288.6" fill="#6cb9da" stroke="#6cb9da" stroke-width="0.7"/>
<polygon points="158.7,288.6 170.4,285.2 173.2,290.8 161.5,294.3" fill="#66b7d9" stroke="#66b7d9" stroke-width="0.7"/>
<polygon points="161.5,294.3 173.2,290.8 176.0,296.4 164.2,299.9" fill="#60b5d7" stroke="#60b5d7" stroke-width="0.7"/>
<polygon points="164.2,299.9 176.0,296.4 178.9,302.1 167.0,305.5" fill="#5ab2d6" stroke="#5ab2d6" stroke-width="0.7"/>
<polygon points="164.7,273.9 176.4,270.4 179.2,276.0 167.5,279.5" fill="#71bbdb" stroke="#71bbdb" stroke-width="0.7"/>
<polygon points="167.5,279.5 179.2,276.0 182.1,281.7 170.4,285.2" fill="#6bb9da" stroke="#6bb9da" stroke-width="0.7"/>
<polygon points="170.4,285.2 182.1,281.7 185.0,287.3 173.2,290.8" fill="#65b7d8" stroke="#65b7d8" stroke-width="0.7"/>
<polygon points="173.2,290.8 185.0,287.3 187.8,293.0 176.0,296.4" fill="#60b5d7" stroke="#60b5d7" stroke-width="0.7"/>
<polygon points="176.0,296.4 187.8,293.0 190.7,298.6 178.9,302.1" fill="#5ab2d6" stroke="#5ab2d6" stroke-width="0.7"/>
<polygon points="176.4,270.4 188.0,266.9 190.9,272.6 179.2,276.0" fill="#70bbda" stroke="#70bbda" stroke-width="0.7"/>
<polygon points="179.2,276.0 190.9,272.6 193.8,278.2 182.1,281.7" fill="#6ab9d9" stroke="#6ab9d9" stroke-width="0.7"/>
<polygon points="182.1,281.7 193.8,278.2 196.7,283.9 185.0,287.3" fill="#65b7d8" stroke="#65b7d8" stroke-width="0.7"/>
<polygon points="185.0,287.3 196.7,283.9 199.6,289.5 187.8,293.0" fill="#5fb4d7" stroke="#5fb4d7" stroke-width="0.7"/>
<polygon points="187.8,293.0 199.6,289.5 202.5,295.2 190.7,298.6" fill="#5ab2d6" stroke="#5ab2d6" stroke-width="0.7"/>
<polygon points="188.0,266.9 198.8,264.1 201.8,269.7 190.9,272.6" fill="#6ebada" stroke="#6ebada" stroke-width="0.7"/>
<polygon points="190.9,272.6 201.8,269.7 204.7,275.4 193.8,278.2" fill="#69b8d9" stroke="#69b8d9" stroke-width="0.7"/>
<polygon points="193.8,278.2 204.7,275.4 207.7,281.0 196.7,283.9" fill="#63b6d8" stroke="#63b6d8" stroke-width="0.7"/>
<polygon points="196.7,283.9 207.7,281.0 210.6,286.7 199.6,289.5" fill="#5eb4d7" stroke="#5eb4d7" stroke-width="0.7"/>
<polygon points="199.6,289.5 210.6,286.7 213.6,292.3 202.5,295.2" fill="#59b2d6" stroke="#59b2d6" stroke-width="0.7"/>
<polygon points="198.8,264.1 209.6,261.3 212.6,266.9 201.8,269.7" fill="#6dbada" stroke="#6dbada" stroke-width="0.7"/>
<polygon points="201.8,269.7 212.6,266.9 215.6,272.5 204.7,275.4" fill="#67b7d9" stroke="#67b7d9" stroke-width="0.7"/>
<polygon points="204.7,275.4 215.6,272.5 218.6,278.1 207.7,281.0" fill="#61b5d8" stroke="#61b5d8" stroke-width="0.7"/>
<polygon points="207.7,281.0 218.6,278.1 221.6,283.8 210.6,286.7" fill="#5cb3d6" stroke="#5cb3d6" stroke-width="0.7"/>
<polygon points="210.6,286.7 221.6,283.8 224.6,289.4 213.6,292.3" fill="#56b1d5" stroke="#56b1d5" stroke-width="0.7"/>
<polygon points="209.6,261.3 220.5,258.4 223.5,264.1 212.6,266.9" fill="#6bb9da" stroke="#6bb9da" stroke-width="0.7"/>
<polygon points="212.6,266.9 223.5,264.1 226.5,269.7 215.6,272.5" fill="#65b7d8" stroke="#65b7d8" stroke-width="0.7"/>
<polygon points="215.6,272.5 226.5,269.7 229.6,275.3 218.6,278.1" fill="#5fb4d7" stroke="#5fb4d7" stroke-width="0.7"/>
<polygon points="218.6,278.1 229.6,275.3 232.6,280.9 221.6,283.8" fill="#5ab2d6" stroke="#5ab2d6" stroke-width="0.7"/>
<polygon points="221.6,283.8 232.6,280.9 235.7,286.5 224.6,289.4" fill="#54b0d5" stroke="#54b0d5" stroke-width="0.7"/>
<polygon points="220.5,258.4 231.3,255.6 234.4,261.2 223.5,264.1" fill="#6ab9d9" stroke="#6ab9d9" stroke-width="0.7"/>
<polygon points="223.5,264.1 234.4,261.2 237.5,266.8 226.5,269.7" fill="#64b6d8" stroke="#64b6d8" stroke-width="0.7"/>
<polygon points="226.5,269.7 237.5,266.8 240.6,272.4 229.6,275.3" fill="#5db4d7" stroke="#5db4d7" stroke-width="0.7"/>
<polygon points="229.6,275.3 240.6,272.4 243.6,278.0 232.6,280.9" fill="#57b1d6" stroke="#57b1d6" stroke-width="0.7"/>
<polygon points="232.6,280.9 243.6,278.0 246.7,283.6 235.7,286.5" fill="#51afd4" stroke="#51afd4" stroke-width="0.7"/>
<polygon points="231.3,255.6 242.1,252.8 245.2,258.4 234.4,261.2" fill="#68b8d9" stroke="#68b8d9" stroke-width="0.7"/>
<polygon points="234.4,261.2 245.2,258.4 248.4,264.0 237.5,266.8" fill="#62b5d8" stroke="#62b5d8" stroke-width="0.7"/>
<polygon points="237.5,266.8 248.4,264.0 251.5,269.5 240.6,272.4" fill="#5bb3d6" stroke="#5bb3d6" stroke-width="0.7"/>
<polygon points="240.6,272.4 251.5,269.5 254.7,275.1 243.6,278.0" fill="#55b0d5" stroke="#55b0d5" stroke-width="0.7"/>
<polygon points="243.6,278.0 254.7,275.1 257.8,280.7 246.7,283.6" fill="#4faed4" stroke="#4faed4" stroke-width="0.7"/>
<polygon points="143.4,312.4 155.2,309.0 158.4,314.7 146.5,318.1" fill="#56b1d5" stroke="#56b1d5" stroke-width="0.7"/>
<polygon points="146.5,318.1 158.4,314.7 161.5,320.5 149.6,323.9" fill="#53b0d5" stroke="#53b0d5" stroke-width="0.7"/>
<polygon points="149.6,323.9 161.5,320.5 164.7,326.3 152.6,329.6" fill="#51afd4" stroke="#51afd4" stroke-width="0.7"/>
<polygon points="152.6,329.6 164.7,326.3 167.8,332.0 155.7,335.4" fill="#4eaed4" stroke="#4eaed4" stroke-width="0.7"/>
<polygon points="155.7,335.4 167.8,332.0 170.9,337.8 158.8,341.1" fill="#4badd3" stroke="#4badd3" stroke-width="0.7"/>
<polygon points="155.2,309.0 167.0,305.5 170.2,311.3 158.4,314.7" fill="#56b1d5" stroke="#56b1d5" stroke-width="0.7"/>
<polygon points="158.4,314.7 170.2,311.3 173.5,317.1 161.5,320.5" fill="#53b0d5" stroke="#53b0d5" stroke-width="0.7"/>
<polygon points="161.5,320.5 173.5,317.1 176.7,322.9 164.7,326.3" fill="#51afd4" stroke="#51afd4" stroke-width="0.7"/>
<polygon points="164.7,326.3 176.7,322.9 179.9,328.7 167.8,332.0" fill="#4eaed4" stroke="#4eaed4" stroke-width="0.7"/>
<polygon points="167.8,332.0 179.9,328.7 183.1,334.5 170.9,337.8" fill="#4badd3" stroke="#4badd3" stroke-width="0.7"/>
<polygon points="167.0,305.5 178.9,302.1 182.1,307.9 170.2,311.3" fill="#56b1d5" stroke="#56b1d5" stroke-width="0.7"/>
<polygon points="170.2,311.3 182.1,307.9 185.4,313.8 173.5,317.1" fill="#53b0d5" stroke="#53b0d5" stroke-width="0.7"/>
<polygon points="173.5,317.1 185.4,313.8 188.7,319.6 176.7,322.9" fill="#51afd4" stroke="#51afd4" stroke-width="0.7"/>
<polygon points="176.7,322.9 188.7,319.6 191.9,325.4 179.9,328.7" fill="#4eaed4" stroke="#4eaed4" stroke-width="0.7"/>
<polygon points="179.9,328.7 191.9,325.4 195.2,331.3 183.1,334.5" fill="#4badd3" stroke="#4badd3" stroke-width="0.7"/>
<polygon points="178.9,302.1 190.7,298.6 194.0,304.5 182.1,307.9" fill="#56b1d5" stroke="#56b1d5" stroke-width="0.7"/>
<polygon points="182.1,307.9 194.0,304.5 197.4,310.4 185.4,313.8" fill="#53b0d5" stroke="#53b0d5" stroke-width="0.7"/>
<polygon points="185.4,313.8 197.4,310.4 200.7,316.2 188.7,319.6" fill="#51afd4" stroke="#51afd4" stroke-width="0.7"/>
<polygon points="188.7,319.6 200.7,316.2 204.0,322.1 191.9,325.4" fill="#4eaed4" stroke="#4eaed4" stroke-width="0.7"/>
<polygon points="191.9,325.4 204.0,322.1 207.4,328.0 195.2,331.3" fill="#4badd3" stroke="#4badd3" stroke-width="0.7"/>
<polygon points="190.7,298.6 202.5,295.2 205.9,301.1 194.0,304.5" fill="#56b1d5" stroke="#56b1d5" stroke-width="0.7"/>
<polygon points="194.0,304.5 205.9,301.1 209.3,307.0 197.4,310.4" fill="#53b0d5" stroke="#53b0d5" stroke-width="0.7"/>
<polygon points="197.4,310.4 209.3,307.0 212.7,312.9 200.7,316.2" fill="#51afd4" stroke="#51afd4" stroke-width="0.7"/>
<polygon points="200.7,316.2 212.7,312.9 216.1,318.8 204.0,322.1" fill="#4eaed4" stroke="#4eaed4" stroke-width="0.7"/>
<polygon points="204.0,322.1 216.1,318.8 219.5,324.7 207.4,328.0" fill="#4badd3" stroke="#4badd3" stroke-width="0.7"/>
<polygon points="202.5,295.2 213.6,292.3 217.0,298.2 205.9,301.1" fill="#55b0d5" stroke="#55b0d5" stroke-width="0.7"/>
<polygon points="205.9,301.1 217.0,298.2 220.5,304.0 209.3,307.0" fill="#52afd5" stroke="#52afd5" stroke-width="0.7"/>
<polygon points="209.3,307.0 220.5,304.0 223.9,309.9 212.7,312.9" fill="#4faed4" stroke="#4faed4" stroke-width="0.7"/>
<polygon points="212.7,312.9 223.9,309.9 227.4,315.8 216.1,318.8" fill="#4dadd4" stroke="#4dadd4" stroke-width="0.7"/>
<polygon points="216.1,318.8 227.4,315.8 230.8,321.6 219.5,324.7" fill="#4aacd3" stroke="#4aacd3" stroke-width="0.7"/>
<polygon points="213.6,292.3 224.6,289.4 228.1,295.2 217.0,298.2" fill="#52afd5" stroke="#52afd5" stroke-width="0.7"/>
<polygon points="217.0,298.2 228.1,295.2 231.6,301.1 220.5,304.0" fill="#4faed4" stroke="#4faed4" stroke-width="0.7"/>
<polygon points="220.5,304.0 231.6,301.1 235.1,306.9 223.9,309.9" fill="#4dadd4" stroke="#4dadd4" stroke-width="0.7"/>
<polygon points="223.9,309.9 235.1,306.9 238.6,312.7 227.4,315.8" fill="#4aacd3" stroke="#4aacd3" stroke-width="0.7"/>
<polygon points="227.4,315.8 238.6,312.7 242.1,318.5 230.8,321.6" fill="#48abd3" stroke="#48abd3" stroke-width="0.7"/>
<polygon points="224.6,289.4 235.7,286.5 239.2,292.3 228.1,295.2" fill="#4faed4" stroke="#4faed4" stroke-width="0.7"/>
<polygon points="228.1,295.2 239.2,292.3 242.8,298.1 231.6,301.1" fill="#4dadd4" stroke="#4dadd4" stroke-width="0.7"/>
<polygon points="231.6,301.1 242.8,298.1 246.3,303.9 235.1,306.9" fill="#4aacd3" stroke="#4aacd3" stroke-width="0.7"/>
<polygon points="235.1,306.9 246.3,303.9 249.9,309.7 238.6,312.7" fill="#48abd3" stroke="#48abd3" stroke-width="0.7"/>
<polygon points="238.6,312.7 249.9,309.7 253.5,315.5 242.1,318.5" fill="#46aad2" stroke="#46aad2" stroke-width="0.7"/>
<polygon points="235.7,286.5 246.7,283.6 250.3,289.4 239.2,292.3" fill="#4dadd4" stroke="#4dadd4" stroke-width="0.7"/>
<polygon points="239.2,292.3 250.3,289.4 254.0,295.1 242.8,298.1" fill="#4aacd3" stroke="#4aacd3" stroke-width="0.7"/>
<polygon points="242.8,298.1 254.0,295.1 257.6,300.9 246.3,303.9" fill="#48abd3" stroke="#48abd3" stroke-width="0.7"/>
<polygon points="246.3,303.9 257.6,300.9 261.2,306.6 249.9,309.7" fill="#46aad2" stroke="#46aad2" stroke-width="0.7"/>
<polygon points="249.9,309.7 261.2,306.6 264.8,312.4 253.5,315.5" fill="#44a9d2" stroke="#44a9d2" stroke-width="0.7"/>
<polygon points="246.7,283.6 257.8,280.7 261.5,286.4 250.3,289.4" fill="#4aacd3" stroke="#4aacd3" stroke-width="0.7"/>
<polygon points="250.3,289.4 261.5,286.4 265.1,292.1 254.0,295.1" fill="#48abd3" stroke="#48abd3" stroke-width="0.7"/>
<polygon points="254.0,295.1 265.1,292.1 268.8,297.9 257.6,300.9" fill="#46aad2" stroke="#46aad2" stroke-width="0.7"/>
<polygon points="257.6,300.9 268.8,297.9 272.4,303.6 261.2,306.6" fill="#44a9d2" stroke="#44a9d2" stroke-width="0.7"/>
<polygon points="261.2,306.6 272.4,303.6 276.1,309.3 264.8,312.4" fill="#41a8d1" stroke="#41a8d1" stroke-width="0.7"/>
<polyline points="98.3,183.1 157.4,165.1 207.0,150.7" class="rmesh" fill="none"/>
<polyline points="102.3,206.7 160.8,188.8 211.5,174.6" class="rmesh" fill="none"/>
<polyline points="109.0,231.5 167.1,213.6 218.9,199.7" class="rmesh" fill="none"/>
<polyline points="118.3,257.5 176.2,239.7 229.1,225.8" class="rmesh" fill="none"/>
<polyline points="129.8,284.4 188.0,266.9 242.1,252.8" class="rmesh" fill="none"/>
<polyline points="143.4,312.4 202.5,295.2 257.8,280.7" class="rmesh" fill="none"/>
<polyline points="157.4,165.1 157.6,166.9 157.9,169.3 158.3,172.2 158.7,175.4 159.2,178.8 159.7,182.2 160.2,185.6 160.8,188.8 161.4,191.8 162.1,194.9 162.8,198.0 163.6,201.1 164.4,204.2 165.3,207.3 166.2,210.4 167.1,213.6 168.1,216.8 169.1,220.0 170.2,223.2 171.3,226.5 172.5,229.8 173.7,233.1 174.9,236.4 176.2,239.7 177.5,243.0 178.9,246.4 180.3,249.8 181.8,253.2 183.3,256.6 184.8,260.0 186.4,263.4 188.0,266.9 189.7,270.4 191.4,273.9 193.1,277.4 194.9,280.9 196.8,284.5 198.6,288.0 200.5,291.6 202.5,295.2 204.6,299.0 207.0,303.2 209.4,307.5 211.9,311.7 214.3,315.7 216.4,319.4 218.2,322.4 219.5,324.7" class="rmesh" fill="none"/>
<polyline points="98.3,183.1 98.6,184.9 99.0,187.3 99.4,190.2 99.9,193.3 100.4,196.7 101.0,200.2 101.6,203.5 102.3,206.7 103.0,209.7 103.7,212.8 104.5,215.9 105.3,218.9 106.2,222.1 107.1,225.2 108.0,228.3 109.0,231.5 110.0,234.7 111.1,237.9 112.2,241.1 113.3,244.4 114.5,247.6 115.8,250.9 117.0,254.2 118.3,257.5 119.6,260.8 121.0,264.1 122.4,267.5 123.8,270.8 125.2,274.2 126.7,277.6 128.2,281.0 129.8,284.4 131.4,287.8 133.0,291.3 134.7,294.8 136.4,298.3 138.1,301.8 139.8,305.3 141.6,308.9 143.4,312.4 145.3,316.2 147.5,320.2 149.7,324.4 152.0,328.5 154.1,332.4 156.0,335.9 157.6,338.9 158.8,341.1" class="rthick" fill="none"/>
<polyline points="158.8,341.1 219.5,324.7 276.1,309.3" class="rthick" fill="none"/>
<polygon points="98.4,181.6 95.6,192.6 102.6,192.0" fill="#ee1111"/>
<line x1="159.2" y1="341" x2="159.2" y2="362" class="rarrow"/>
<polygon points="159.3,370.6 156.5,360.3 162.1,360.3" fill="#ee1111"/>
</g>
<g id="black-body">
<defs><linearGradient id="bbandg" gradientUnits="userSpaceOnUse" x1="0" y1="140" x2="0" y2="326"><stop offset="0" stop-color="#fbf3ef"/><stop offset="0.3" stop-color="#eef2f5"/><stop offset="0.6" stop-color="#cfe3ee"/><stop offset="1" stop-color="#9fcbe1"/></linearGradient></defs>
<clipPath id="bandclip2"><polygon points="168.3,139.9 168.9,141.8 169.8,144.4 170.8,147.5 171.9,150.9 173.1,154.5 174.3,158.1 175.6,161.7 176.7,165.1 177.8,168.3 178.9,171.6 180.0,174.8 181.2,178.1 182.3,181.4 183.5,184.7 184.7,188.0 185.9,191.4 187.2,194.8 188.4,198.2 189.7,201.6 191.0,205.0 192.4,208.4 193.7,211.9 195.2,215.4 196.6,218.9 198.1,222.4 199.6,226.0 201.1,229.5 202.7,233.1 204.3,236.7 205.9,240.4 207.6,244.0 209.3,247.7 211.1,251.4 212.8,255.1 214.7,258.8 216.5,262.6 218.4,266.4 220.4,270.1 222.3,274.0 224.4,277.8 226.7,281.9 229.2,286.3 231.8,290.9 234.4,295.4 237.0,299.7 239.3,303.6 241.2,306.9 242.6,309.3 242.8,325.6 242.8,325.6 241.5,324.6 239.7,323.4 237.6,322.0 235.3,320.3 232.8,318.5 230.4,316.6 228.1,314.6 226.0,312.5 224.1,310.3 222.3,307.9 220.5,305.4 218.7,302.8 217.0,300.1 215.3,297.4 213.6,294.7 212.0,292.0 210.4,289.4 208.8,286.7 207.3,284.0 205.8,281.3 204.3,278.6 202.8,275.9 201.4,273.2 200.0,270.5 198.6,267.8 197.3,265.1 195.9,262.5 194.6,259.8 193.4,257.1 192.1,254.4 190.9,251.7 189.7,249.0 188.5,246.3 187.4,243.6 186.3,240.8 185.2,238.1 184.1,235.3 183.0,232.5 182.0,229.7 181.0,226.8 180.0,223.8 179.0,220.8 178.0,217.7 177.1,214.6 176.2,211.4 175.3,208.3 174.4,205.1 173.6,202.0 172.8,199.0 172.0,196.0 171.2,193.1 170.5,190.2 169.8,187.2 169.2,184.0 168.7,180.7 168.3,177.0 168.0,172.8 167.9,167.9 167.8,162.7 167.8,157.4 167.9,152.3 167.9,147.7 168.0,143.9 168.0,141.0"/></clipPath>
<polygon points="168.3,139.9 168.9,141.8 169.8,144.4 170.8,147.5 171.9,150.9 173.1,154.5 174.3,158.1 175.6,161.7 176.7,165.1 177.8,168.3 178.9,171.6 180.0,174.8 181.2,178.1 182.3,181.4 183.5,184.7 184.7,188.0 185.9,191.4 187.2,194.8 188.4,198.2 189.7,201.6 191.0,205.0 192.4,208.4 193.7,211.9 195.2,215.4 196.6,218.9 198.1,222.4 199.6,226.0 201.1,229.5 202.7,233.1 204.3,236.7 205.9,240.4 207.6,244.0 209.3,247.7 211.1,251.4 212.8,255.1 214.7,258.8 216.5,262.6 218.4,266.4 220.4,270.1 222.3,274.0 224.4,277.8 226.7,281.9 229.2,286.3 231.8,290.9 234.4,295.4 237.0,299.7 239.3,303.6 241.2,306.9 242.6,309.3 242.8,325.6 242.8,325.6 241.5,324.6 239.7,323.4 237.6,322.0 235.3,320.3 232.8,318.5 230.4,316.6 228.1,314.6 226.0,312.5 224.1,310.3 222.3,307.9 220.5,305.4 218.7,302.8 217.0,300.1 215.3,297.4 213.6,294.7 212.0,292.0 210.4,289.4 208.8,286.7 207.3,284.0 205.8,281.3 204.3,278.6 202.8,275.9 201.4,273.2 200.0,270.5 198.6,267.8 197.3,265.1 195.9,262.5 194.6,259.8 193.4,257.1 192.1,254.4 190.9,251.7 189.7,249.0 188.5,246.3 187.4,243.6 186.3,240.8 185.2,238.1 184.1,235.3 183.0,232.5 182.0,229.7 181.0,226.8 180.0,223.8 179.0,220.8 178.0,217.7 177.1,214.6 176.2,211.4 175.3,208.3 174.4,205.1 173.6,202.0 172.8,199.0 172.0,196.0 171.2,193.1 170.5,190.2 169.8,187.2 169.2,184.0 168.7,180.7 168.3,177.0 168.0,172.8 167.9,167.9 167.8,162.7 167.8,157.4 167.9,152.3 167.9,147.7 168.0,143.9 168.0,141.0" fill="url(#bbandg)" stroke="none"/>
<g clip-path="url(#bandclip2)">
<polyline points="168.4,141.0 169.0,143.6 169.5,146.3 170.1,148.9 170.6,151.5 171.2,154.2 171.7,156.8 172.3,159.5 172.8,162.1 173.4,164.7 174.0,167.4 174.6,170.0 175.2,172.6 175.9,175.3 176.5,177.9 177.2,180.6 178.0,183.2 178.7,185.8 179.5,188.5 180.4,191.1 181.2,193.7 182.1,196.4 183.0,199.0 183.9,201.7 184.8,204.3 185.7,206.9 186.6,209.6 187.6,212.2 188.5,214.8 189.5,217.5 190.5,220.1 191.5,222.8 192.6,225.4 193.6,228.0 194.7,230.7 195.8,233.3 196.9,235.9 198.0,238.6 199.1,241.2 200.3,243.8 201.5,246.5 202.7,249.1 203.9,251.8 205.2,254.4 206.4,257.0 207.7,259.7 209.0,262.3 210.3,264.9 211.6,267.6 213.0,270.2 214.4,272.9 215.8,275.5 217.2,278.1 218.6,280.8 220.1,283.4 221.6,286.0 223.1,288.7 224.7,291.3 226.2,294.0 227.8,296.6 229.4,299.2 231.0,301.9 232.6,304.5 234.3,307.1 235.8,309.8 236.6,312.4 237.6,315.1 238.8,317.7 240.0,320.3 241.4,323.0 242.8,325.6" class="bthin" fill="none"/>
<polyline points="168.3,141.0 168.6,143.6 168.9,146.3 169.2,148.9 169.5,151.5 169.8,154.2 170.1,156.8 170.5,159.5 170.8,162.1 171.2,164.7 171.5,167.4 171.9,170.0 172.3,172.6 172.7,175.3 173.2,177.9 173.8,180.6 174.4,183.2 175.0,185.8 175.7,188.5 176.5,191.1 177.2,193.7 178.1,196.4 178.9,199.0 179.7,201.7 180.5,204.3 181.3,206.9 182.2,209.6 183.0,212.2 183.9,214.8 184.8,217.5 185.8,220.1 186.7,222.8 187.7,225.4 188.7,228.0 189.7,230.7 190.7,233.3 191.8,235.9 192.9,238.6 194.0,241.2 195.1,243.8 196.3,246.5 197.4,249.1 198.6,251.8 199.9,254.4 201.1,257.0 202.4,259.7 203.7,262.3 205.0,264.9 206.3,267.6 207.7,270.2 209.0,272.9 210.4,275.5 211.8,278.1 213.3,280.8 214.8,283.4 216.3,286.0 217.8,288.7 219.4,291.3 220.9,294.0 222.5,296.6 224.1,299.2 225.8,301.9 227.4,304.5 229.2,307.1 230.9,309.8 232.3,312.4 234.0,315.1 235.9,317.7 238.1,320.3 240.5,323.0 242.8,325.6" class="bthin" fill="none"/>
<polyline points="168.1,141.0 168.3,143.6 168.4,146.3 168.5,148.9 168.7,151.5 168.8,154.2 168.9,156.8 169.1,159.5 169.2,162.1 169.4,164.7 169.6,167.4 169.8,170.0 170.0,172.6 170.3,175.3 170.7,177.9 171.1,180.6 171.6,183.2 172.1,185.8 172.8,188.5 173.4,191.1 174.2,193.7 174.9,196.4 175.7,199.0 176.4,201.7 177.2,204.3 177.9,206.9 178.7,209.6 179.5,212.2 180.4,214.8 181.2,217.5 182.1,220.1 183.0,222.8 183.9,225.4 184.9,228.0 185.8,230.7 186.8,233.3 187.9,235.9 188.9,238.6 190.0,241.2 191.1,243.8 192.2,246.5 193.4,249.1 194.6,251.8 195.8,254.4 197.0,257.0 198.3,259.7 199.6,262.3 200.9,264.9 202.2,267.6 203.6,270.2 204.9,272.9 206.3,275.5 207.7,278.1 209.2,280.8 210.6,283.4 212.1,286.0 213.7,288.7 215.3,291.3 216.9,294.0 218.5,296.6 220.1,299.2 221.7,301.9 223.4,304.5 225.2,307.1 227.1,309.8 228.9,312.4 231.1,315.1 233.7,317.7 236.6,320.3 239.7,323.0 242.8,325.6" class="bthin" fill="none"/>
<polyline points="176.7,165.1 176.7,205.1" class="bthin" fill="none"/>
<polyline points="185.9,191.4 185.9,231.4" class="bthin" fill="none"/>
<polyline points="196.6,218.9 196.6,258.9" class="bthin" fill="none"/>
<polyline points="209.3,247.7 209.3,287.7" class="bthin" fill="none"/>
<polyline points="224.4,277.8 224.4,317.8" class="bthin" fill="none"/>
</g>
<polyline points="168.0,141.0 168.0,143.9 167.9,147.7 167.9,152.3 167.8,157.4 167.8,162.7 167.9,167.9 168.0,172.8 168.3,177.0 168.7,180.7 169.2,184.0 169.8,187.2 170.5,190.2 171.2,193.1 172.0,196.0 172.8,199.0 173.6,202.0 174.4,205.1 175.3,208.3 176.2,211.4 177.1,214.6 178.0,217.7 179.0,220.8 180.0,223.8 181.0,226.8 182.0,229.7 183.0,232.5 184.1,235.3 185.2,238.1 186.3,240.8 187.4,243.6 188.5,246.3 189.7,249.0 190.9,251.7 192.1,254.4 193.4,257.1 194.6,259.8 195.9,262.5 197.3,265.1 198.6,267.8 200.0,270.5 201.4,273.2 202.8,275.9 204.3,278.6 205.8,281.3 207.3,284.0 208.8,286.7 210.4,289.4 212.0,292.0 213.6,294.7 215.3,297.4 217.0,300.1 218.7,302.8 220.5,305.4 222.3,307.9 224.1,310.3 226.0,312.5 228.1,314.6 230.4,316.6 232.8,318.5 235.3,320.3 237.6,322.0 239.7,323.4 241.5,324.6 242.8,325.6" class="bthino" fill="none"/>
<defs><linearGradient id="skirtg" gradientUnits="userSpaceOnUse" x1="243" y1="0" x2="410" y2="0"><stop offset="0" stop-color="#b7d8ea"/><stop offset="0.55" stop-color="#cfe4ef"/><stop offset="1" stop-color="#f0f4f7"/></linearGradient></defs>
<polygon points="242.6,309.3 246.8,308.3 252.5,306.9 259.3,305.2 266.8,303.3 274.6,301.4 282.4,299.6 289.8,297.9 296.5,296.6 302.5,295.5 308.4,294.6 314.0,293.9 319.6,293.2 325.0,292.6 330.3,292.1 335.6,291.5 340.9,291.0 346.3,290.5 351.8,290.0 357.4,289.5 362.8,289.1 368.0,288.7 372.9,288.4 377.3,288.1 381.1,288.0 384.2,288.0 386.8,288.0 388.8,288.1 390.5,288.3 392.0,288.6 393.4,288.9 394.9,289.2 396.5,289.6 398.3,290.0 400.1,290.6 402.0,291.2 403.8,291.9 405.4,292.5 406.9,293.1 408.1,293.6 409.1,294.0 406.5,294.9 381.1,303.9 378.0,304.0 374.0,304.1 369.2,304.3 363.8,304.4 358.0,304.6 352.2,304.9 346.4,305.1 340.9,305.5 335.6,305.9 330.3,306.2 325.0,306.5 319.6,306.9 314.0,307.4 308.4,308.1 302.5,309.0 296.5,310.1 289.8,311.6 282.4,313.6 274.6,315.8 266.8,318.2 259.3,320.5 252.5,322.6 246.8,324.4 242.6,325.7" fill="url(#skirtg)" stroke="none"/>
<polygon points="168.3,139.9 179.0,137.5 180.6,142.5 170.0,144.9" fill="#fce4d9" stroke="#fce4d9" stroke-width="0.7"/>
<polygon points="170.0,144.9 180.6,142.5 182.2,147.6 171.7,150.0" fill="#fce6dc" stroke="#fce6dc" stroke-width="0.7"/>
<polygon points="171.7,150.0 182.2,147.6 183.8,152.7 173.3,155.0" fill="#fbe7de" stroke="#fbe7de" stroke-width="0.7"/>
<polygon points="173.3,155.0 183.8,152.7 185.4,157.8 175.0,160.1" fill="#fbe9e0" stroke="#fbe9e0" stroke-width="0.7"/>
<polygon points="175.0,160.1 185.4,157.8 186.9,162.8 176.7,165.1" fill="#faeae3" stroke="#faeae3" stroke-width="0.7"/>
<polygon points="179.0,137.5 189.8,135.1 191.3,140.2 180.6,142.5" fill="#fde3d8" stroke="#fde3d8" stroke-width="0.7"/>
<polygon points="180.6,142.5 191.3,140.2 192.7,145.3 182.2,147.6" fill="#fce5da" stroke="#fce5da" stroke-width="0.7"/>
<polygon points="182.2,147.6 192.7,145.3 194.2,150.3 183.8,152.7" fill="#fce6dc" stroke="#fce6dc" stroke-width="0.7"/>
<polygon points="183.8,152.7 194.2,150.3 195.7,155.4 185.4,157.8" fill="#fbe8df" stroke="#fbe8df" stroke-width="0.7"/>
<polygon points="185.4,157.8 195.7,155.4 197.2,160.5 186.9,162.8" fill="#fbe9e1" stroke="#fbe9e1" stroke-width="0.7"/>
<polygon points="189.8,135.1 200.5,132.6 201.9,137.8 191.3,140.2" fill="#fde2d6" stroke="#fde2d6" stroke-width="0.7"/>
<polygon points="191.3,140.2 201.9,137.8 203.3,142.9 192.7,145.3" fill="#fce4d9" stroke="#fce4d9" stroke-width="0.7"/>
<polygon points="192.7,145.3 203.3,142.9 204.7,148.0 194.2,150.3" fill="#fce5db" stroke="#fce5db" stroke-width="0.7"/>
<polygon points="194.2,150.3 204.7,148.0 206.0,153.1 195.7,155.4" fill="#fbe7dd" stroke="#fbe7dd" stroke-width="0.7"/>
<polygon points="195.7,155.4 206.0,153.1 207.4,158.3 197.2,160.5" fill="#fbe8df" stroke="#fbe8df" stroke-width="0.7"/>
<polygon points="200.5,132.6 211.3,130.2 212.5,135.4 201.9,137.8" fill="#fde1d4" stroke="#fde1d4" stroke-width="0.7"/>
<polygon points="201.9,137.8 212.5,135.4 213.8,140.5 203.3,142.9" fill="#fde3d7" stroke="#fde3d7" stroke-width="0.7"/>
<polygon points="203.3,142.9 213.8,140.5 215.1,145.7 204.7,148.0" fill="#fce4d9" stroke="#fce4d9" stroke-width="0.7"/>
<polygon points="204.7,148.0 215.1,145.7 216.4,150.8 206.0,153.1" fill="#fce6dc" stroke="#fce6dc" stroke-width="0.7"/>
<polygon points="206.0,153.1 216.4,150.8 217.7,156.0 207.4,158.3" fill="#fbe7de" stroke="#fbe7de" stroke-width="0.7"/>
<polygon points="211.3,130.2 222.0,127.8 223.2,133.0 212.5,135.4" fill="#fddfd2" stroke="#fddfd2" stroke-width="0.7"/>
<polygon points="212.5,135.4 223.2,133.0 224.4,138.2 213.8,140.5" fill="#fde2d5" stroke="#fde2d5" stroke-width="0.7"/>
<polygon points="213.8,140.5 224.4,138.2 225.5,143.3 215.1,145.7" fill="#fde3d8" stroke="#fde3d8" stroke-width="0.7"/>
<polygon points="215.1,145.7 225.5,143.3 226.7,148.5 216.4,150.8" fill="#fce5da" stroke="#fce5da" stroke-width="0.7"/>
<polygon points="216.4,150.8 226.7,148.5 227.9,153.7 217.7,156.0" fill="#fce6dc" stroke="#fce6dc" stroke-width="0.7"/>
<polygon points="222.0,127.8 230.6,127.4 231.7,132.5 223.2,133.0" fill="#fdded0" stroke="#fdded0" stroke-width="0.7"/>
<polygon points="223.2,133.0 231.7,132.5 232.8,137.7 224.4,138.2" fill="#fde0d3" stroke="#fde0d3" stroke-width="0.7"/>
<polygon points="224.4,138.2 232.8,137.7 234.0,142.8 225.5,143.3" fill="#fde2d6" stroke="#fde2d6" stroke-width="0.7"/>
<polygon points="225.5,143.3 234.0,142.8 235.1,148.0 226.7,148.5" fill="#fde3d8" stroke="#fde3d8" stroke-width="0.7"/>
<polygon points="226.7,148.5 235.1,148.0 236.3,153.1 227.9,153.7" fill="#fce5da" stroke="#fce5da" stroke-width="0.7"/>
<polygon points="230.6,127.4 239.1,126.9 240.2,132.1 231.7,132.5" fill="#fddccd" stroke="#fddccd" stroke-width="0.7"/>
<polygon points="231.7,132.5 240.2,132.1 241.3,137.2 232.8,137.7" fill="#fdded0" stroke="#fdded0" stroke-width="0.7"/>
<polygon points="232.8,137.7 241.3,137.2 242.4,142.3 234.0,142.8" fill="#fde0d3" stroke="#fde0d3" stroke-width="0.7"/>
<polygon points="234.0,142.8 242.4,142.3 243.5,147.4 235.1,148.0" fill="#fde2d6" stroke="#fde2d6" stroke-width="0.7"/>
<polygon points="235.1,148.0 243.5,147.4 244.6,152.6 236.3,153.1" fill="#fde3d8" stroke="#fde3d8" stroke-width="0.7"/>
<polygon points="239.1,126.9 247.7,126.5 248.7,131.6 240.2,132.1" fill="#fddacb" stroke="#fddacb" stroke-width="0.7"/>
<polygon points="240.2,132.1 248.7,131.6 249.8,136.7 241.3,137.2" fill="#fddccd" stroke="#fddccd" stroke-width="0.7"/>
<polygon points="241.3,137.2 249.8,136.7 250.9,141.8 242.4,142.3" fill="#fdded0" stroke="#fdded0" stroke-width="0.7"/>
<polygon points="242.4,142.3 250.9,141.8 251.9,146.9 243.5,147.4" fill="#fde0d3" stroke="#fde0d3" stroke-width="0.7"/>
<polygon points="243.5,147.4 251.9,146.9 253.0,152.0 244.6,152.6" fill="#fde2d6" stroke="#fde2d6" stroke-width="0.7"/>
<polygon points="247.7,126.5 256.2,126.0 257.3,131.1 248.7,131.6" fill="#fdd8c8" stroke="#fdd8c8" stroke-width="0.7"/>
<polygon points="248.7,131.6 257.3,131.1 258.3,136.2 249.8,136.7" fill="#fddacb" stroke="#fddacb" stroke-width="0.7"/>
<polygon points="249.8,136.7 258.3,136.2 259.3,141.3 250.9,141.8" fill="#fddccd" stroke="#fddccd" stroke-width="0.7"/>
<polygon points="250.9,141.8 259.3,141.3 260.3,146.4 251.9,146.9" fill="#fdded0" stroke="#fdded0" stroke-width="0.7"/>
<polygon points="251.9,146.9 260.3,146.4 261.3,151.5 253.0,152.0" fill="#fde0d3" stroke="#fde0d3" stroke-width="0.7"/>
<polygon points="256.2,126.0 264.8,125.6 265.8,130.7 257.3,131.1" fill="#fdd5c5" stroke="#fdd5c5" stroke-width="0.7"/>
<polygon points="257.3,131.1 265.8,130.7 266.8,135.7 258.3,136.2" fill="#fdd8c8" stroke="#fdd8c8" stroke-width="0.7"/>
<polygon points="258.3,136.2 266.8,135.7 267.7,140.8 259.3,141.3" fill="#fddacb" stroke="#fddacb" stroke-width="0.7"/>
<polygon points="259.3,141.3 267.7,140.8 268.7,145.8 260.3,146.4" fill="#fddccd" stroke="#fddccd" stroke-width="0.7"/>
<polygon points="260.3,146.4 268.7,145.8 269.7,150.9 261.3,151.5" fill="#fdded0" stroke="#fdded0" stroke-width="0.7"/>
<polygon points="264.8,125.6 272.4,124.5 273.4,129.6 265.8,130.7" fill="#fdd3c2" stroke="#fdd3c2" stroke-width="0.7"/>
<polygon points="265.8,130.7 273.4,129.6 274.4,134.7 266.8,135.7" fill="#fdd5c5" stroke="#fdd5c5" stroke-width="0.7"/>
<polygon points="266.8,135.7 274.4,134.7 275.4,139.7 267.7,140.8" fill="#fdd7c7" stroke="#fdd7c7" stroke-width="0.7"/>
<polygon points="267.7,140.8 275.4,139.7 276.5,144.8 268.7,145.8" fill="#fdd9ca" stroke="#fdd9ca" stroke-width="0.7"/>
<polygon points="268.7,145.8 276.5,144.8 277.5,149.9 269.7,150.9" fill="#fddbcd" stroke="#fddbcd" stroke-width="0.7"/>
<polygon points="272.4,124.5 280.0,123.5 281.0,128.6 273.4,129.6" fill="#fdd0be" stroke="#fdd0be" stroke-width="0.7"/>
<polygon points="273.4,129.6 281.0,128.6 282.1,133.6 274.4,134.7" fill="#fdd2c1" stroke="#fdd2c1" stroke-width="0.7"/>
<polygon points="274.4,134.7 282.1,133.6 283.1,138.7 275.4,139.7" fill="#fdd4c4" stroke="#fdd4c4" stroke-width="0.7"/>
<polygon points="275.4,139.7 283.1,138.7 284.2,143.8 276.5,144.8" fill="#fdd6c6" stroke="#fdd6c6" stroke-width="0.7"/>
<polygon points="276.5,144.8 284.2,143.8 285.3,148.9 277.5,149.9" fill="#fdd8c9" stroke="#fdd8c9" stroke-width="0.7"/>
<polygon points="280.0,123.5 287.5,122.4 288.6,127.5 281.0,128.6" fill="#fdceba" stroke="#fdceba" stroke-width="0.7"/>
<polygon points="281.0,128.6 288.6,127.5 289.7,132.6 282.1,133.6" fill="#fdd0bd" stroke="#fdd0bd" stroke-width="0.7"/>
<polygon points="282.1,133.6 289.7,132.6 290.8,137.7 283.1,138.7" fill="#fdd2c0" stroke="#fdd2c0" stroke-width="0.7"/>
<polygon points="283.1,138.7 290.8,137.7 291.9,142.8 284.2,143.8" fill="#fdd4c3" stroke="#fdd4c3" stroke-width="0.7"/>
<polygon points="284.2,143.8 291.9,142.8 293.0,147.8 285.3,148.9" fill="#fdd6c5" stroke="#fdd6c5" stroke-width="0.7"/>
<polygon points="287.5,122.4 295.1,121.4 296.3,126.5 288.6,127.5" fill="#fdcbb7" stroke="#fdcbb7" stroke-width="0.7"/>
<polygon points="288.6,127.5 296.3,126.5 297.4,131.5 289.7,132.6" fill="#fdcdba" stroke="#fdcdba" stroke-width="0.7"/>
<polygon points="289.7,132.6 297.4,131.5 298.5,136.6 290.8,137.7" fill="#fdcfbc" stroke="#fdcfbc" stroke-width="0.7"/>
<polygon points="290.8,137.7 298.5,136.6 299.7,141.7 291.9,142.8" fill="#fdd1bf" stroke="#fdd1bf" stroke-width="0.7"/>
<polygon points="291.9,142.8 299.7,141.7 300.8,146.8 293.0,147.8" fill="#fdd3c2" stroke="#fdd3c2" stroke-width="0.7"/>
<polygon points="295.1,121.4 302.7,120.3 303.9,125.4 296.3,126.5" fill="#fdc8b3" stroke="#fdc8b3" stroke-width="0.7"/>
<polygon points="296.3,126.5 303.9,125.4 305.1,130.5 297.4,131.5" fill="#fdcab6" stroke="#fdcab6" stroke-width="0.7"/>
<polygon points="297.4,131.5 305.1,130.5 306.2,135.6 298.5,136.6" fill="#fdccb9" stroke="#fdccb9" stroke-width="0.7"/>
<polygon points="298.5,136.6 306.2,135.6 307.4,140.7 299.7,141.7" fill="#fdcebb" stroke="#fdcebb" stroke-width="0.7"/>
<polygon points="299.7,141.7 307.4,140.7 308.6,145.8 300.8,146.8" fill="#fdd0be" stroke="#fdd0be" stroke-width="0.7"/>
<polygon points="302.7,120.3 307.7,121.9 308.9,127.0 303.9,125.4" fill="#fcad91" stroke="#fcad91" stroke-width="0.7"/>
<polygon points="303.9,125.4 308.9,127.0 310.1,132.0 305.1,130.5" fill="#fcaf94" stroke="#fcaf94" stroke-width="0.7"/>
<polygon points="305.1,130.5 310.1,132.0 311.3,137.1 306.2,135.6" fill="#fcb297" stroke="#fcb297" stroke-width="0.7"/>
<polygon points="306.2,135.6 311.3,137.1 312.5,142.1 307.4,140.7" fill="#fdb49a" stroke="#fdb49a" stroke-width="0.7"/>
<polygon points="307.4,140.7 312.5,142.1 313.7,147.2 308.6,145.8" fill="#fdb79d" stroke="#fdb79d" stroke-width="0.7"/>
<polygon points="307.7,121.9 312.8,123.5 314.0,128.5 308.9,127.0" fill="#fcab8e" stroke="#fcab8e" stroke-width="0.7"/>
<polygon points="308.9,127.0 314.0,128.5 315.2,133.5 310.1,132.0" fill="#fcad90" stroke="#fcad90" stroke-width="0.7"/>
<polygon points="310.1,132.0 315.2,133.5 316.3,138.6 311.3,137.1" fill="#fcaf93" stroke="#fcaf93" stroke-width="0.7"/>
<polygon points="311.3,137.1 316.3,138.6 317.5,143.6 312.5,142.1" fill="#fcb195" stroke="#fcb195" stroke-width="0.7"/>
<polygon points="312.5,142.1 317.5,143.6 318.7,148.6 313.7,147.2" fill="#fcb398" stroke="#fcb398" stroke-width="0.7"/>
<polygon points="312.8,123.5 317.8,125.2 319.0,130.1 314.0,128.5" fill="#fca88b" stroke="#fca88b" stroke-width="0.7"/>
<polygon points="314.0,128.5 319.0,130.1 320.2,135.1 315.2,133.5" fill="#fcaa8d" stroke="#fcaa8d" stroke-width="0.7"/>
<polygon points="315.2,133.5 320.2,135.1 321.4,140.0 316.3,138.6" fill="#fcac8f" stroke="#fcac8f" stroke-width="0.7"/>
<polygon points="316.3,138.6 321.4,140.0 322.6,145.0 317.5,143.6" fill="#fcad91" stroke="#fcad91" stroke-width="0.7"/>
<polygon points="317.5,143.6 322.6,145.0 323.8,149.9 318.7,148.6" fill="#fcaf93" stroke="#fcaf93" stroke-width="0.7"/>
<polygon points="317.8,125.2 322.9,126.8 324.1,131.7 319.0,130.1" fill="#fca688" stroke="#fca688" stroke-width="0.7"/>
<polygon points="319.0,130.1 324.1,131.7 325.3,136.6 320.2,135.1" fill="#fca789" stroke="#fca789" stroke-width="0.7"/>
<polygon points="320.2,135.1 325.3,136.6 326.4,141.5 321.4,140.0" fill="#fca88b" stroke="#fca88b" stroke-width="0.7"/>
<polygon points="321.4,140.0 326.4,141.5 327.6,146.4 322.6,145.0" fill="#fcaa8d" stroke="#fcaa8d" stroke-width="0.7"/>
<polygon points="322.6,145.0 327.6,146.4 328.8,151.3 323.8,149.9" fill="#fcab8e" stroke="#fcab8e" stroke-width="0.7"/>
<polygon points="322.9,126.8 327.9,128.4 329.1,133.3 324.1,131.7" fill="#fca485" stroke="#fca485" stroke-width="0.7"/>
<polygon points="324.1,131.7 329.1,133.3 330.3,138.1 325.3,136.6" fill="#fca486" stroke="#fca486" stroke-width="0.7"/>
<polygon points="325.3,136.6 330.3,138.1 331.5,143.0 326.4,141.5" fill="#fca587" stroke="#fca587" stroke-width="0.7"/>
<polygon points="326.4,141.5 331.5,143.0 332.7,147.8 327.6,146.4" fill="#fca688" stroke="#fca688" stroke-width="0.7"/>
<polygon points="327.6,146.4 332.7,147.8 333.9,152.7 328.8,151.3" fill="#fca789" stroke="#fca789" stroke-width="0.7"/>
<polygon points="176.7,165.1 186.9,162.8 188.7,168.1 178.5,170.4" fill="#faece5" stroke="#faece5" stroke-width="0.7"/>
<polygon points="178.5,170.4 188.7,168.1 190.5,173.4 180.4,175.6" fill="#f9ede8" stroke="#f9ede8" stroke-width="0.7"/>
<polygon points="180.4,175.6 190.5,173.4 192.3,178.6 182.2,180.9" fill="#f9efeb" stroke="#f9efeb" stroke-width="0.7"/>
<polygon points="182.2,180.9 192.3,178.6 194.1,183.9 184.1,186.1" fill="#f8f1ed" stroke="#f8f1ed" stroke-width="0.7"/>
<polygon points="184.1,186.1 194.1,183.9 195.9,189.2 185.9,191.4" fill="#f7f3f0" stroke="#f7f3f0" stroke-width="0.7"/>
<polygon points="186.9,162.8 197.2,160.5 198.9,165.8 188.7,168.1" fill="#faebe4" stroke="#faebe4" stroke-width="0.7"/>
<polygon points="188.7,168.1 198.9,165.8 200.7,171.1 190.5,173.4" fill="#f9ede6" stroke="#f9ede6" stroke-width="0.7"/>
<polygon points="190.5,173.4 200.7,171.1 202.5,176.4 192.3,178.6" fill="#f9eee9" stroke="#f9eee9" stroke-width="0.7"/>
<polygon points="192.3,178.6 202.5,176.4 204.2,181.7 194.1,183.9" fill="#f8f0ec" stroke="#f8f0ec" stroke-width="0.7"/>
<polygon points="194.1,183.9 204.2,181.7 206.0,187.0 195.9,189.2" fill="#f8f2ef" stroke="#f8f2ef" stroke-width="0.7"/>
<polygon points="197.2,160.5 207.4,158.3 209.1,163.6 198.9,165.8" fill="#faeae2" stroke="#faeae2" stroke-width="0.7"/>
<polygon points="198.9,165.8 209.1,163.6 210.9,168.9 200.7,171.1" fill="#faece5" stroke="#faece5" stroke-width="0.7"/>
<polygon points="200.7,171.1 210.9,168.9 212.6,174.1 202.5,176.4" fill="#f9eee8" stroke="#f9eee8" stroke-width="0.7"/>
<polygon points="202.5,176.4 212.6,174.1 214.3,179.4 204.2,181.7" fill="#f9efeb" stroke="#f9efeb" stroke-width="0.7"/>
<polygon points="204.2,181.7 214.3,179.4 216.0,184.7 206.0,187.0" fill="#f8f1ee" stroke="#f8f1ee" stroke-width="0.7"/>
<polygon points="207.4,158.3 217.7,156.0 219.3,161.3 209.1,163.6" fill="#fbe9e1" stroke="#fbe9e1" stroke-width="0.7"/>
<polygon points="209.1,163.6 219.3,161.3 221.0,166.6 210.9,168.9" fill="#faebe4" stroke="#faebe4" stroke-width="0.7"/>
<polygon points="210.9,168.9 221.0,166.6 222.7,171.9 212.6,174.1" fill="#f9ede7" stroke="#f9ede7" stroke-width="0.7"/>
<polygon points="212.6,174.1 222.7,171.9 224.4,177.2 214.3,179.4" fill="#f9efea" stroke="#f9efea" stroke-width="0.7"/>
<polygon points="214.3,179.4 224.4,177.2 226.1,182.5 216.0,184.7" fill="#f8f1ed" stroke="#f8f1ed" stroke-width="0.7"/>
<polygon points="217.7,156.0 227.9,153.7 229.5,159.0 219.3,161.3" fill="#fbe8df" stroke="#fbe8df" stroke-width="0.7"/>
<polygon points="219.3,161.3 229.5,159.0 231.2,164.3 221.0,166.6" fill="#faeae2" stroke="#faeae2" stroke-width="0.7"/>
<polygon points="221.0,166.6 231.2,164.3 232.8,169.7 222.7,171.9" fill="#faece5" stroke="#faece5" stroke-width="0.7"/>
<polygon points="222.7,171.9 232.8,169.7 234.5,175.0 224.4,177.2" fill="#f9eee8" stroke="#f9eee8" stroke-width="0.7"/>
<polygon points="224.4,177.2 234.5,175.0 236.1,180.3 226.1,182.5" fill="#f8f0eb" stroke="#f8f0eb" stroke-width="0.7"/>
<polygon points="227.9,153.7 236.3,153.1 237.9,158.4 229.5,159.0" fill="#fbe7dd" stroke="#fbe7dd" stroke-width="0.7"/>
<polygon points="229.5,159.0 237.9,158.4 239.6,163.7 231.2,164.3" fill="#fbe9e0" stroke="#fbe9e0" stroke-width="0.7"/>
<polygon points="231.2,164.3 239.6,163.7 241.3,169.0 232.8,169.7" fill="#faebe4" stroke="#faebe4" stroke-width="0.7"/>
<polygon points="232.8,169.7 241.3,169.0 243.0,174.3 234.5,175.0" fill="#f9ede7" stroke="#f9ede7" stroke-width="0.7"/>
<polygon points="234.5,175.0 243.0,174.3 244.6,179.6 236.1,180.3" fill="#f9efea" stroke="#f9efea" stroke-width="0.7"/>
<polygon points="236.3,153.1 244.6,152.6 246.3,157.8 237.9,158.4" fill="#fce5db" stroke="#fce5db" stroke-width="0.7"/>
<polygon points="237.9,158.4 246.3,157.8 248.0,163.1 239.6,163.7" fill="#fbe7de" stroke="#fbe7de" stroke-width="0.7"/>
<polygon points="239.6,163.7 248.0,163.1 249.8,168.3 241.3,169.0" fill="#faeae2" stroke="#faeae2" stroke-width="0.7"/>
<polygon points="241.3,169.0 249.8,168.3 251.5,173.6 243.0,174.3" fill="#faece5" stroke="#faece5" stroke-width="0.7"/>
<polygon points="243.0,174.3 251.5,173.6 253.2,178.9 244.6,179.6" fill="#f9eee9" stroke="#f9eee9" stroke-width="0.7"/>
<polygon points="244.6,152.6 253.0,152.0 254.7,157.2 246.3,157.8" fill="#fce4d9" stroke="#fce4d9" stroke-width="0.7"/>
<polygon points="246.3,157.8 254.7,157.2 256.5,162.5 248.0,163.1" fill="#fce6dc" stroke="#fce6dc" stroke-width="0.7"/>
<polygon points="248.0,163.1 256.5,162.5 258.2,167.7 249.8,168.3" fill="#fbe8e0" stroke="#fbe8e0" stroke-width="0.7"/>
<polygon points="249.8,168.3 258.2,167.7 260.0,172.9 251.5,173.6" fill="#faebe4" stroke="#faebe4" stroke-width="0.7"/>
<polygon points="251.5,173.6 260.0,172.9 261.7,178.1 253.2,178.9" fill="#f9ede7" stroke="#f9ede7" stroke-width="0.7"/>
<polygon points="253.0,152.0 261.3,151.5 263.1,156.7 254.7,157.2" fill="#fde2d7" stroke="#fde2d7" stroke-width="0.7"/>
<polygon points="254.7,157.2 263.1,156.7 264.9,161.8 256.5,162.5" fill="#fce5db" stroke="#fce5db" stroke-width="0.7"/>
<polygon points="256.5,162.5 264.9,161.8 266.7,167.0 258.2,167.7" fill="#fbe7de" stroke="#fbe7de" stroke-width="0.7"/>
<polygon points="258.2,167.7 266.7,167.0 268.5,172.2 260.0,172.9" fill="#faeae2" stroke="#faeae2" stroke-width="0.7"/>
<polygon points="260.0,172.9 268.5,172.2 270.3,177.4 261.7,178.1" fill="#faece6" stroke="#faece6" stroke-width="0.7"/>
<polygon points="261.3,151.5 269.7,150.9 271.5,156.1 263.1,156.7" fill="#fde1d4" stroke="#fde1d4" stroke-width="0.7"/>
<polygon points="263.1,156.7 271.5,156.1 273.3,161.2 264.9,161.8" fill="#fce4d9" stroke="#fce4d9" stroke-width="0.7"/>
<polygon points="264.9,161.8 273.3,161.2 275.2,166.4 266.7,167.0" fill="#fce6dc" stroke="#fce6dc" stroke-width="0.7"/>
<polygon points="266.7,167.0 275.2,166.4 277.0,171.5 268.5,172.2" fill="#fbe9e0" stroke="#fbe9e0" stroke-width="0.7"/>
<polygon points="268.5,172.2 277.0,171.5 278.8,176.7 270.3,177.4" fill="#faebe4" stroke="#faebe4" stroke-width="0.7"/>
<polygon points="269.7,150.9 277.5,149.9 279.3,155.0 271.5,156.1" fill="#fdded1" stroke="#fdded1" stroke-width="0.7"/>
<polygon points="271.5,156.1 279.3,155.0 281.1,160.2 273.3,161.2" fill="#fde2d6" stroke="#fde2d6" stroke-width="0.7"/>
<polygon points="273.3,161.2 281.1,160.2 282.8,165.4 275.2,166.4" fill="#fce5da" stroke="#fce5da" stroke-width="0.7"/>
<polygon points="275.2,166.4 282.8,165.4 284.6,170.5 277.0,171.5" fill="#fbe7de" stroke="#fbe7de" stroke-width="0.7"/>
<polygon points="277.0,171.5 284.6,170.5 286.4,175.7 278.8,176.7" fill="#faeae2" stroke="#faeae2" stroke-width="0.7"/>
<polygon points="277.5,149.9 285.3,148.9 287.0,154.0 279.3,155.0" fill="#fddccd" stroke="#fddccd" stroke-width="0.7"/>
<polygon points="279.3,155.0 287.0,154.0 288.8,159.2 281.1,160.2" fill="#fde0d3" stroke="#fde0d3" stroke-width="0.7"/>
<polygon points="281.1,160.2 288.8,159.2 290.5,164.4 282.8,165.4" fill="#fde3d8" stroke="#fde3d8" stroke-width="0.7"/>
<polygon points="282.8,165.4 290.5,164.4 292.3,169.5 284.6,170.5" fill="#fce6dc" stroke="#fce6dc" stroke-width="0.7"/>
<polygon points="284.6,170.5 292.3,169.5 294.0,174.7 286.4,175.7" fill="#fbe8e0" stroke="#fbe8e0" stroke-width="0.7"/>
<polygon points="285.3,148.9 293.0,147.8 294.8,153.0 287.0,154.0" fill="#fdd9ca" stroke="#fdd9ca" stroke-width="0.7"/>
<polygon points="287.0,154.0 294.8,153.0 296.5,158.2 288.8,159.2" fill="#fdddcf" stroke="#fdddcf" stroke-width="0.7"/>
<polygon points="288.8,159.2 296.5,158.2 298.2,163.4 290.5,164.4" fill="#fde1d5" stroke="#fde1d5" stroke-width="0.7"/>
<polygon points="290.5,164.4 298.2,163.4 299.9,168.5 292.3,169.5" fill="#fce4d9" stroke="#fce4d9" stroke-width="0.7"/>
<polygon points="292.3,169.5 299.9,168.5 301.7,173.7 294.0,174.7" fill="#fbe7dd" stroke="#fbe7dd" stroke-width="0.7"/>
<polygon points="293.0,147.8 300.8,146.8 302.5,152.0 294.8,153.0" fill="#fdd6c6" stroke="#fdd6c6" stroke-width="0.7"/>
<polygon points="294.8,153.0 302.5,152.0 304.2,157.2 296.5,158.2" fill="#fddacc" stroke="#fddacc" stroke-width="0.7"/>
<polygon points="296.5,158.2 304.2,157.2 305.9,162.3 298.2,163.4" fill="#fdded1" stroke="#fdded1" stroke-width="0.7"/>
<polygon points="298.2,163.4 305.9,162.3 307.6,167.5 299.9,168.5" fill="#fde2d6" stroke="#fde2d6" stroke-width="0.7"/>
<polygon points="299.9,168.5 307.6,167.5 309.3,172.7 301.7,173.7" fill="#fce5db" stroke="#fce5db" stroke-width="0.7"/>
<polygon points="300.8,146.8 308.6,145.8 310.3,151.0 302.5,152.0" fill="#fdd3c2" stroke="#fdd3c2" stroke-width="0.7"/>
<polygon points="302.5,152.0 310.3,151.0 311.9,156.2 304.2,157.2" fill="#fdd8c8" stroke="#fdd8c8" stroke-width="0.7"/>
<polygon points="304.2,157.2 311.9,156.2 313.6,161.3 305.9,162.3" fill="#fddcce" stroke="#fddcce" stroke-width="0.7"/>
<polygon points="305.9,162.3 313.6,161.3 315.2,166.5 307.6,167.5" fill="#fde0d3" stroke="#fde0d3" stroke-width="0.7"/>
<polygon points="307.6,167.5 315.2,166.5 316.9,171.7 309.3,172.7" fill="#fde3d8" stroke="#fde3d8" stroke-width="0.7"/>
<polygon points="308.6,145.8 313.7,147.2 315.3,152.4 310.3,151.0" fill="#fdbaa1" stroke="#fdbaa1" stroke-width="0.7"/>
<polygon points="310.3,151.0 315.3,152.4 317.0,157.6 311.9,156.2" fill="#fdbfa8" stroke="#fdbfa8" stroke-width="0.7"/>
<polygon points="311.9,156.2 317.0,157.6 318.7,162.7 313.6,161.3" fill="#fdc4ae" stroke="#fdc4ae" stroke-width="0.7"/>
<polygon points="313.6,161.3 318.7,162.7 320.3,167.9 315.2,166.5" fill="#fdc9b4" stroke="#fdc9b4" stroke-width="0.7"/>
<polygon points="315.2,166.5 320.3,167.9 322.0,173.1 316.9,171.7" fill="#fdcdb9" stroke="#fdcdb9" stroke-width="0.7"/>
<polygon points="313.7,147.2 318.7,148.6 320.4,153.8 315.3,152.4" fill="#fdb69c" stroke="#fdb69c" stroke-width="0.7"/>
<polygon points="315.3,152.4 320.4,153.8 322.1,159.0 317.0,157.6" fill="#fdbba2" stroke="#fdbba2" stroke-width="0.7"/>
<polygon points="317.0,157.6 322.1,159.0 323.8,164.1 318.7,162.7" fill="#fdbfa7" stroke="#fdbfa7" stroke-width="0.7"/>
<polygon points="318.7,162.7 323.8,164.1 325.5,169.3 320.3,167.9" fill="#fdc4ad" stroke="#fdc4ad" stroke-width="0.7"/>
<polygon points="320.3,167.9 325.5,169.3 327.1,174.5 322.0,173.1" fill="#fdc8b3" stroke="#fdc8b3" stroke-width="0.7"/>
<polygon points="318.7,148.6 323.8,149.9 325.5,155.1 320.4,153.8" fill="#fcb297" stroke="#fcb297" stroke-width="0.7"/>
<polygon points="320.4,153.8 325.5,155.1 327.2,160.3 322.1,159.0" fill="#fdb69c" stroke="#fdb69c" stroke-width="0.7"/>
<polygon points="322.1,159.0 327.2,160.3 328.9,165.6 323.8,164.1" fill="#fdbaa1" stroke="#fdbaa1" stroke-width="0.7"/>
<polygon points="323.8,164.1 328.9,165.6 330.6,170.8 325.5,169.3" fill="#fdbea6" stroke="#fdbea6" stroke-width="0.7"/>
<polygon points="325.5,169.3 330.6,170.8 332.3,176.0 327.1,174.5" fill="#fdc2ab" stroke="#fdc2ab" stroke-width="0.7"/>
<polygon points="323.8,149.9 328.8,151.3 330.5,156.5 325.5,155.1" fill="#fcad91" stroke="#fcad91" stroke-width="0.7"/>
<polygon points="325.5,155.1 330.5,156.5 332.3,161.7 327.2,160.3" fill="#fcb196" stroke="#fcb196" stroke-width="0.7"/>
<polygon points="327.2,160.3 332.3,161.7 334.0,167.0 328.9,165.6" fill="#fdb59a" stroke="#fdb59a" stroke-width="0.7"/>
<polygon points="328.9,165.6 334.0,167.0 335.7,172.2 330.6,170.8" fill="#fdb89f" stroke="#fdb89f" stroke-width="0.7"/>
<polygon points="330.6,170.8 335.7,172.2 337.4,177.4 332.3,176.0" fill="#fdbca3" stroke="#fdbca3" stroke-width="0.7"/>
<polygon points="328.8,151.3 333.9,152.7 335.6,157.9 330.5,156.5" fill="#fca98c" stroke="#fca98c" stroke-width="0.7"/>
<polygon points="330.5,156.5 335.6,157.9 337.3,163.1 332.3,161.7" fill="#fcac90" stroke="#fcac90" stroke-width="0.7"/>
<polygon points="332.3,161.7 337.3,163.1 339.1,168.4 334.0,167.0" fill="#fcaf94" stroke="#fcaf94" stroke-width="0.7"/>
<polygon points="334.0,167.0 339.1,168.4 340.8,173.6 335.7,172.2" fill="#fcb398" stroke="#fcb398" stroke-width="0.7"/>
<polygon points="335.7,172.2 340.8,173.6 342.5,178.8 337.4,177.4" fill="#fdb69c" stroke="#fdb69c" stroke-width="0.7"/>
<polygon points="185.9,191.4 195.9,189.2 198.1,194.7 188.0,196.9" fill="#f6f4f2" stroke="#f6f4f2" stroke-width="0.7"/>
<polygon points="188.0,196.9 198.1,194.7 200.2,200.2 190.2,202.4" fill="#f4f3f2" stroke="#f4f3f2" stroke-width="0.7"/>
<polygon points="190.2,202.4 200.2,200.2 202.4,205.7 192.3,207.9" fill="#f2f2f2" stroke="#f2f2f2" stroke-width="0.7"/>
<polygon points="192.3,207.9 202.4,205.7 204.5,211.2 194.5,213.4" fill="#f0f2f3" stroke="#f0f2f3" stroke-width="0.7"/>
<polygon points="194.5,213.4 204.5,211.2 206.6,216.7 196.6,218.9" fill="#eef1f3" stroke="#eef1f3" stroke-width="0.7"/>
<polygon points="195.9,189.2 206.0,187.0 208.1,192.5 198.1,194.7" fill="#f7f4f2" stroke="#f7f4f2" stroke-width="0.7"/>
<polygon points="198.1,194.7 208.1,192.5 210.3,198.0 200.2,200.2" fill="#f5f3f2" stroke="#f5f3f2" stroke-width="0.7"/>
<polygon points="200.2,200.2 210.3,198.0 212.4,203.5 202.4,205.7" fill="#f3f3f2" stroke="#f3f3f2" stroke-width="0.7"/>
<polygon points="202.4,205.7 212.4,203.5 214.5,209.0 204.5,211.2" fill="#f1f2f3" stroke="#f1f2f3" stroke-width="0.7"/>
<polygon points="204.5,211.2 214.5,209.0 216.7,214.5 206.6,216.7" fill="#eff1f3" stroke="#eff1f3" stroke-width="0.7"/>
<polygon points="206.0,187.0 216.0,184.7 218.2,190.2 208.1,192.5" fill="#f7f3f1" stroke="#f7f3f1" stroke-width="0.7"/>
<polygon points="208.1,192.5 218.2,190.2 220.3,195.7 210.3,198.0" fill="#f6f4f2" stroke="#f6f4f2" stroke-width="0.7"/>
<polygon points="210.3,198.0 220.3,195.7 222.4,201.2 212.4,203.5" fill="#f4f3f2" stroke="#f4f3f2" stroke-width="0.7"/>
<polygon points="212.4,203.5 222.4,201.2 224.6,206.7 214.5,209.0" fill="#f2f2f2" stroke="#f2f2f2" stroke-width="0.7"/>
<polygon points="214.5,209.0 224.6,206.7 226.7,212.2 216.7,214.5" fill="#f0f2f3" stroke="#f0f2f3" stroke-width="0.7"/>
<polygon points="216.0,184.7 226.1,182.5 228.2,188.0 218.2,190.2" fill="#f8f2ef" stroke="#f8f2ef" stroke-width="0.7"/>
<polygon points="218.2,190.2 228.2,188.0 230.3,193.5 220.3,195.7" fill="#f7f4f2" stroke="#f7f4f2" stroke-width="0.7"/>
<polygon points="220.3,195.7 230.3,193.5 232.5,199.0 222.4,201.2" fill="#f5f3f2" stroke="#f5f3f2" stroke-width="0.7"/>
<polygon points="222.4,201.2 232.5,199.0 234.6,204.5 224.6,206.7" fill="#f3f3f2" stroke="#f3f3f2" stroke-width="0.7"/>
<polygon points="224.6,206.7 234.6,204.5 236.8,210.0 226.7,212.2" fill="#f1f2f3" stroke="#f1f2f3" stroke-width="0.7"/>
<polygon points="226.1,182.5 236.1,180.3 238.2,185.8 228.2,188.0" fill="#f8f2ee" stroke="#f8f2ee" stroke-width="0.7"/>
<polygon points="228.2,188.0 238.2,185.8 240.4,191.3 230.3,193.5" fill="#f7f3f1" stroke="#f7f3f1" stroke-width="0.7"/>
<polygon points="230.3,193.5 240.4,191.3 242.5,196.8 232.5,199.0" fill="#f6f4f2" stroke="#f6f4f2" stroke-width="0.7"/>
<polygon points="232.5,199.0 242.5,196.8 244.7,202.3 234.6,204.5" fill="#f4f3f2" stroke="#f4f3f2" stroke-width="0.7"/>
<polygon points="234.6,204.5 244.7,202.3 246.8,207.8 236.8,210.0" fill="#f1f2f3" stroke="#f1f2f3" stroke-width="0.7"/>
<polygon points="236.1,180.3 244.6,179.6 246.9,185.0 238.2,185.8" fill="#f8f1ed" stroke="#f8f1ed" stroke-width="0.7"/>
<polygon points="238.2,185.8 246.9,185.0 249.1,190.5 240.4,191.3" fill="#f7f3f0" stroke="#f7f3f0" stroke-width="0.7"/>
<polygon points="240.4,191.3 249.1,190.5 251.3,196.0 242.5,196.8" fill="#f7f4f2" stroke="#f7f4f2" stroke-width="0.7"/>
<polygon points="242.5,196.8 251.3,196.0 253.5,201.5 244.7,202.3" fill="#f5f3f2" stroke="#f5f3f2" stroke-width="0.7"/>
<polygon points="244.7,202.3 253.5,201.5 255.7,206.9 246.8,207.8" fill="#f2f3f2" stroke="#f2f3f2" stroke-width="0.7"/>
<polygon points="244.6,179.6 253.2,178.9 255.5,184.3 246.9,185.0" fill="#f8f0ec" stroke="#f8f0ec" stroke-width="0.7"/>
<polygon points="246.9,185.0 255.5,184.3 257.8,189.7 249.1,190.5" fill="#f8f2ee" stroke="#f8f2ee" stroke-width="0.7"/>
<polygon points="249.1,190.5 257.8,189.7 260.1,195.2 251.3,196.0" fill="#f7f3f1" stroke="#f7f3f1" stroke-width="0.7"/>
<polygon points="251.3,196.0 260.1,195.2 262.3,200.6 253.5,201.5" fill="#f5f4f2" stroke="#f5f4f2" stroke-width="0.7"/>
<polygon points="253.5,201.5 262.3,200.6 264.6,206.0 255.7,206.9" fill="#f3f3f2" stroke="#f3f3f2" stroke-width="0.7"/>
<polygon points="253.2,178.9 261.7,178.1 264.1,183.5 255.5,184.3" fill="#f9efea" stroke="#f9efea" stroke-width="0.7"/>
<polygon points="255.5,184.3 264.1,183.5 266.5,188.9 257.8,189.7" fill="#f8f1ed" stroke="#f8f1ed" stroke-width="0.7"/>
<polygon points="257.8,189.7 266.5,188.9 268.8,194.4 260.1,195.2" fill="#f7f3f0" stroke="#f7f3f0" stroke-width="0.7"/>
<polygon points="260.1,195.2 268.8,194.4 271.2,199.8 262.3,200.6" fill="#f6f4f2" stroke="#f6f4f2" stroke-width="0.7"/>
<polygon points="262.3,200.6 271.2,199.8 273.6,205.2 264.6,206.0" fill="#f4f3f2" stroke="#f4f3f2" stroke-width="0.7"/>
<polygon points="261.7,178.1 270.3,177.4 272.7,182.8 264.1,183.5" fill="#f9eee9" stroke="#f9eee9" stroke-width="0.7"/>
<polygon points="264.1,183.5 272.7,182.8 275.1,188.2 266.5,188.9" fill="#f8f0ec" stroke="#f8f0ec" stroke-width="0.7"/>
<polygon points="266.5,188.9 275.1,188.2 277.6,193.5 268.8,194.4" fill="#f8f2ef" stroke="#f8f2ef" stroke-width="0.7"/>
<polygon points="268.8,194.4 277.6,193.5 280.0,198.9 271.2,199.8" fill="#f7f4f1" stroke="#f7f4f1" stroke-width="0.7"/>
<polygon points="271.2,199.8 280.0,198.9 282.5,204.3 273.6,205.2" fill="#f5f3f2" stroke="#f5f3f2" stroke-width="0.7"/>
<polygon points="270.3,177.4 278.8,176.7 281.3,182.0 272.7,182.8" fill="#f9ede8" stroke="#f9ede8" stroke-width="0.7"/>
<polygon points="272.7,182.8 281.3,182.0 283.8,187.4 275.1,188.2" fill="#f9efeb" stroke="#f9efeb" stroke-width="0.7"/>
<polygon points="275.1,188.2 283.8,187.4 286.4,192.7 277.6,193.5" fill="#f8f1ed" stroke="#f8f1ed" stroke-width="0.7"/>
<polygon points="277.6,193.5 286.4,192.7 288.9,198.1 280.0,198.9" fill="#f7f3f0" stroke="#f7f3f0" stroke-width="0.7"/>
<polygon points="280.0,198.9 288.9,198.1 291.4,203.4 282.5,204.3" fill="#f6f4f2" stroke="#f6f4f2" stroke-width="0.7"/>
<polygon points="278.8,176.7 286.4,175.7 288.9,181.0 281.3,182.0" fill="#faece6" stroke="#faece6" stroke-width="0.7"/>
<polygon points="281.3,182.0 288.9,181.0 291.3,186.4 283.8,187.4" fill="#f9eee9" stroke="#f9eee9" stroke-width="0.7"/>
<polygon points="283.8,187.4 291.3,186.4 293.8,191.7 286.4,192.7" fill="#f8f0eb" stroke="#f8f0eb" stroke-width="0.7"/>
<polygon points="286.4,192.7 293.8,191.7 296.3,197.0 288.9,198.1" fill="#f8f2ee" stroke="#f8f2ee" stroke-width="0.7"/>
<polygon points="288.9,198.1 296.3,197.0 298.7,202.4 291.4,203.4" fill="#f7f3f1" stroke="#f7f3f1" stroke-width="0.7"/>
<polygon points="286.4,175.7 294.0,174.7 296.4,180.0 288.9,181.0" fill="#faebe3" stroke="#faebe3" stroke-width="0.7"/>
<polygon points="288.9,181.0 296.4,180.0 298.9,185.4 291.3,186.4" fill="#faece6" stroke="#faece6" stroke-width="0.7"/>
<polygon points="291.3,186.4 298.9,185.4 301.3,190.7 293.8,191.7" fill="#f9eee9" stroke="#f9eee9" stroke-width="0.7"/>
<polygon points="293.8,191.7 301.3,190.7 303.7,196.0 296.3,197.0" fill="#f8f0ec" stroke="#f8f0ec" stroke-width="0.7"/>
<polygon points="296.3,197.0 303.7,196.0 306.1,201.4 298.7,202.4" fill="#f8f2ef" stroke="#f8f2ef" stroke-width="0.7"/>
<polygon points="294.0,174.7 301.7,173.7 304.0,179.0 296.4,180.0" fill="#fbe9e1" stroke="#fbe9e1" stroke-width="0.7"/>
<polygon points="296.4,180.0 304.0,179.0 306.4,184.4 298.9,185.4" fill="#faebe4" stroke="#faebe4" stroke-width="0.7"/>
<polygon points="298.9,185.4 306.4,184.4 308.7,189.7 301.3,190.7" fill="#f9ede7" stroke="#f9ede7" stroke-width="0.7"/>
<polygon points="301.3,190.7 308.7,189.7 311.1,195.0 303.7,196.0" fill="#f9eee9" stroke="#f9eee9" stroke-width="0.7"/>
<polygon points="303.7,196.0 311.1,195.0 313.4,200.3 306.1,201.4" fill="#f8f0ec" stroke="#f8f0ec" stroke-width="0.7"/>
<polygon points="301.7,173.7 309.3,172.7 311.6,178.0 304.0,179.0" fill="#fbe7de" stroke="#fbe7de" stroke-width="0.7"/>
<polygon points="304.0,179.0 311.6,178.0 313.9,183.3 306.4,184.4" fill="#fbe9e1" stroke="#fbe9e1" stroke-width="0.7"/>
<polygon points="306.4,184.4 313.9,183.3 316.2,188.7 308.7,189.7" fill="#faebe4" stroke="#faebe4" stroke-width="0.7"/>
<polygon points="308.7,189.7 316.2,188.7 318.5,194.0 311.1,195.0" fill="#f9ede7" stroke="#f9ede7" stroke-width="0.7"/>
<polygon points="311.1,195.0 318.5,194.0 320.8,199.3 313.4,200.3" fill="#f9efea" stroke="#f9efea" stroke-width="0.7"/>
<polygon points="309.3,172.7 316.9,171.7 319.1,177.0 311.6,178.0" fill="#fce6dc" stroke="#fce6dc" stroke-width="0.7"/>
<polygon points="311.6,178.0 319.1,177.0 321.4,182.3 313.9,183.3" fill="#fbe8df" stroke="#fbe8df" stroke-width="0.7"/>
<polygon points="313.9,183.3 321.4,182.3 323.6,187.7 316.2,188.7" fill="#fbe9e2" stroke="#fbe9e2" stroke-width="0.7"/>
<polygon points="316.2,188.7 323.6,187.7 325.9,193.0 318.5,194.0" fill="#faebe5" stroke="#faebe5" stroke-width="0.7"/>
<polygon points="318.5,194.0 325.9,193.0 328.1,198.3 320.8,199.3" fill="#f9ede8" stroke="#f9ede8" stroke-width="0.7"/>
<polygon points="316.9,171.7 322.0,173.1 324.3,178.5 319.1,177.0" fill="#fdd0be" stroke="#fdd0be" stroke-width="0.7"/>
<polygon points="319.1,177.0 324.3,178.5 326.5,183.8 321.4,182.3" fill="#fdd3c2" stroke="#fdd3c2" stroke-width="0.7"/>
<polygon points="321.4,182.3 326.5,183.8 328.8,189.2 323.6,187.7" fill="#fdd6c6" stroke="#fdd6c6" stroke-width="0.7"/>
<polygon points="323.6,187.7 328.8,189.2 331.0,194.5 325.9,193.0" fill="#fdd9ca" stroke="#fdd9ca" stroke-width="0.7"/>
<polygon points="325.9,193.0 331.0,194.5 333.3,199.9 328.1,198.3" fill="#fddcce" stroke="#fddcce" stroke-width="0.7"/>
<polygon points="322.0,173.1 327.1,174.5 329.4,179.9 324.3,178.5" fill="#fdcbb7" stroke="#fdcbb7" stroke-width="0.7"/>
<polygon points="324.3,178.5 329.4,179.9 331.7,185.3 326.5,183.8" fill="#fdcebb" stroke="#fdcebb" stroke-width="0.7"/>
<polygon points="326.5,183.8 331.7,185.3 333.9,190.7 328.8,189.2" fill="#fdd1bf" stroke="#fdd1bf" stroke-width="0.7"/>
<polygon points="328.8,189.2 333.9,190.7 336.2,196.1 331.0,194.5" fill="#fdd4c3" stroke="#fdd4c3" stroke-width="0.7"/>
<polygon points="331.0,194.5 336.2,196.1 338.4,201.5 333.3,199.9" fill="#fdd7c7" stroke="#fdd7c7" stroke-width="0.7"/>
<polygon points="327.1,174.5 332.3,176.0 334.5,181.4 329.4,179.9" fill="#fdc6b0" stroke="#fdc6b0" stroke-width="0.7"/>
<polygon points="329.4,179.9 334.5,181.4 336.8,186.8 331.7,185.3" fill="#fdc9b4" stroke="#fdc9b4" stroke-width="0.7"/>
<polygon points="331.7,185.3 336.8,186.8 339.1,192.2 333.9,190.7" fill="#fdccb8" stroke="#fdccb8" stroke-width="0.7"/>
<polygon points="333.9,190.7 339.1,192.2 341.3,197.6 336.2,196.1" fill="#fdcfbc" stroke="#fdcfbc" stroke-width="0.7"/>
<polygon points="336.2,196.1 341.3,197.6 343.6,203.0 338.4,201.5" fill="#fdd2c0" stroke="#fdd2c0" stroke-width="0.7"/>
<polygon points="332.3,176.0 337.4,177.4 339.7,182.8 334.5,181.4" fill="#fdc0a8" stroke="#fdc0a8" stroke-width="0.7"/>
<polygon points="334.5,181.4 339.7,182.8 341.9,188.3 336.8,186.8" fill="#fdc3ad" stroke="#fdc3ad" stroke-width="0.7"/>
<polygon points="336.8,186.8 341.9,188.3 344.2,193.7 339.1,192.2" fill="#fdc7b1" stroke="#fdc7b1" stroke-width="0.7"/>
<polygon points="339.1,192.2 344.2,193.7 346.5,199.2 341.3,197.6" fill="#fdcab5" stroke="#fdcab5" stroke-width="0.7"/>
<polygon points="341.3,197.6 346.5,199.2 348.7,204.6 343.6,203.0" fill="#fdccb9" stroke="#fdccb9" stroke-width="0.7"/>
<polygon points="337.4,177.4 342.5,178.8 344.8,184.3 339.7,182.8" fill="#fdb9a0" stroke="#fdb9a0" stroke-width="0.7"/>
<polygon points="339.7,182.8 344.8,184.3 347.1,189.8 341.9,188.3" fill="#fdbda4" stroke="#fdbda4" stroke-width="0.7"/>
<polygon points="341.9,188.3 347.1,189.8 349.3,195.2 344.2,193.7" fill="#fdc0a9" stroke="#fdc0a9" stroke-width="0.7"/>
<polygon points="344.2,193.7 349.3,195.2 351.6,200.7 346.5,199.2" fill="#fdc4ad" stroke="#fdc4ad" stroke-width="0.7"/>
<polygon points="346.5,199.2 351.6,200.7 353.9,206.2 348.7,204.6" fill="#fdc7b2" stroke="#fdc7b2" stroke-width="0.7"/>
<polygon points="196.6,218.9 206.6,216.7 209.2,222.4 199.1,224.7" fill="#ecf0f3" stroke="#ecf0f3" stroke-width="0.7"/>
<polygon points="199.1,224.7 209.2,222.4 211.8,228.2 201.7,230.4" fill="#eaf0f3" stroke="#eaf0f3" stroke-width="0.7"/>
<polygon points="201.7,230.4 211.8,228.2 214.3,233.9 204.2,236.2" fill="#e8eff3" stroke="#e8eff3" stroke-width="0.7"/>
<polygon points="204.2,236.2 214.3,233.9 216.9,239.7 206.8,241.9" fill="#e6eff4" stroke="#e6eff4" stroke-width="0.7"/>
<polygon points="206.8,241.9 216.9,239.7 219.5,245.4 209.3,247.7" fill="#e5eef4" stroke="#e5eef4" stroke-width="0.7"/>
<polygon points="206.6,216.7 216.7,214.5 219.3,220.2 209.2,222.4" fill="#edf1f3" stroke="#edf1f3" stroke-width="0.7"/>
<polygon points="209.2,222.4 219.3,220.2 221.9,225.9 211.8,228.2" fill="#ebf0f3" stroke="#ebf0f3" stroke-width="0.7"/>
<polygon points="211.8,228.2 221.9,225.9 224.5,231.7 214.3,233.9" fill="#e9f0f3" stroke="#e9f0f3" stroke-width="0.7"/>
<polygon points="214.3,233.9 224.5,231.7 227.1,237.4 216.9,239.7" fill="#e7eff3" stroke="#e7eff3" stroke-width="0.7"/>
<polygon points="216.9,239.7 227.1,237.4 229.7,243.1 219.5,245.4" fill="#e5eef4" stroke="#e5eef4" stroke-width="0.7"/>
<polygon points="216.7,214.5 226.7,212.2 229.3,218.0 219.3,220.2" fill="#eef1f3" stroke="#eef1f3" stroke-width="0.7"/>
<polygon points="219.3,220.2 229.3,218.0 232.0,223.7 221.9,225.9" fill="#ecf0f3" stroke="#ecf0f3" stroke-width="0.7"/>
<polygon points="221.9,225.9 232.0,223.7 234.6,229.4 224.5,231.7" fill="#eaf0f3" stroke="#eaf0f3" stroke-width="0.7"/>
<polygon points="224.5,231.7 234.6,229.4 237.2,235.1 227.1,237.4" fill="#e8eff3" stroke="#e8eff3" stroke-width="0.7"/>
<polygon points="227.1,237.4 237.2,235.1 239.8,240.9 229.7,243.1" fill="#e6eff4" stroke="#e6eff4" stroke-width="0.7"/>
<polygon points="226.7,212.2 236.8,210.0 239.4,215.7 229.3,218.0" fill="#eff1f3" stroke="#eff1f3" stroke-width="0.7"/>
<polygon points="229.3,218.0 239.4,215.7 242.1,221.4 232.0,223.7" fill="#edf1f3" stroke="#edf1f3" stroke-width="0.7"/>
<polygon points="232.0,223.7 242.1,221.4 244.7,227.2 234.6,229.4" fill="#ebf0f3" stroke="#ebf0f3" stroke-width="0.7"/>
<polygon points="234.6,229.4 244.7,227.2 247.4,232.9 237.2,235.1" fill="#e9eff3" stroke="#e9eff3" stroke-width="0.7"/>
<polygon points="237.2,235.1 247.4,232.9 250.0,238.6 239.8,240.9" fill="#e7eff3" stroke="#e7eff3" stroke-width="0.7"/>
<polygon points="236.8,210.0 246.8,207.8 249.5,213.5 239.4,215.7" fill="#eff2f3" stroke="#eff2f3" stroke-width="0.7"/>
<polygon points="239.4,215.7 249.5,213.5 252.2,219.2 242.1,221.4" fill="#eef1f3" stroke="#eef1f3" stroke-width="0.7"/>
<polygon points="242.1,221.4 252.2,219.2 254.8,224.9 244.7,227.2" fill="#ecf0f3" stroke="#ecf0f3" stroke-width="0.7"/>
<polygon points="244.7,227.2 254.8,224.9 257.5,230.6 247.4,232.9" fill="#eaf0f3" stroke="#eaf0f3" stroke-width="0.7"/>
<polygon points="247.4,232.9 257.5,230.6 260.2,236.3 250.0,238.6" fill="#e8eff3" stroke="#e8eff3" stroke-width="0.7"/>
<polygon points="246.8,207.8 255.7,206.9 258.5,212.6 249.5,213.5" fill="#f0f2f3" stroke="#f0f2f3" stroke-width="0.7"/>
<polygon points="249.5,213.5 258.5,212.6 261.2,218.3 252.2,219.2" fill="#eef1f3" stroke="#eef1f3" stroke-width="0.7"/>
<polygon points="252.2,219.2 261.2,218.3 264.0,223.9 254.8,224.9" fill="#ecf1f3" stroke="#ecf1f3" stroke-width="0.7"/>
<polygon points="254.8,224.9 264.0,223.9 266.7,229.6 257.5,230.6" fill="#ebf0f3" stroke="#ebf0f3" stroke-width="0.7"/>
<polygon points="257.5,230.6 266.7,229.6 269.5,235.3 260.2,236.3" fill="#e9eff3" stroke="#e9eff3" stroke-width="0.7"/>
<polygon points="255.7,206.9 264.6,206.0 267.5,211.7 258.5,212.6" fill="#f1f2f3" stroke="#f1f2f3" stroke-width="0.7"/>
<polygon points="258.5,212.6 267.5,211.7 270.3,217.3 261.2,218.3" fill="#eff2f3" stroke="#eff2f3" stroke-width="0.7"/>
<polygon points="261.2,218.3 270.3,217.3 273.1,223.0 264.0,223.9" fill="#edf1f3" stroke="#edf1f3" stroke-width="0.7"/>
<polygon points="264.0,223.9 273.1,223.0 275.9,228.6 266.7,229.6" fill="#ebf0f3" stroke="#ebf0f3" stroke-width="0.7"/>
<polygon points="266.7,229.6 275.9,228.6 278.7,234.3 269.5,235.3" fill="#e9f0f3" stroke="#e9f0f3" stroke-width="0.7"/>
<polygon points="264.6,206.0 273.6,205.2 276.4,210.8 267.5,211.7" fill="#f2f2f2" stroke="#f2f2f2" stroke-width="0.7"/>
<polygon points="267.5,211.7 276.4,210.8 279.3,216.4 270.3,217.3" fill="#f0f2f3" stroke="#f0f2f3" stroke-width="0.7"/>
<polygon points="270.3,217.3 279.3,216.4 282.2,222.0 273.1,223.0" fill="#eef1f3" stroke="#eef1f3" stroke-width="0.7"/>
<polygon points="273.1,223.0 282.2,222.0 285.1,227.6 275.9,228.6" fill="#ecf1f3" stroke="#ecf1f3" stroke-width="0.7"/>
<polygon points="275.9,228.6 285.1,227.6 288.0,233.2 278.7,234.3" fill="#eaf0f3" stroke="#eaf0f3" stroke-width="0.7"/>
<polygon points="273.6,205.2 282.5,204.3 285.4,209.9 276.4,210.8" fill="#f3f3f2" stroke="#f3f3f2" stroke-width="0.7"/>
<polygon points="276.4,210.8 285.4,209.9 288.4,215.5 279.3,216.4" fill="#f1f2f3" stroke="#f1f2f3" stroke-width="0.7"/>
<polygon points="279.3,216.4 288.4,215.5 291.3,221.0 282.2,222.0" fill="#eff2f3" stroke="#eff2f3" stroke-width="0.7"/>
<polygon points="282.2,222.0 291.3,221.0 294.3,226.6 285.1,227.6" fill="#edf1f3" stroke="#edf1f3" stroke-width="0.7"/>
<polygon points="285.1,227.6 294.3,226.6 297.2,232.2 288.0,233.2" fill="#ebf0f3" stroke="#ebf0f3" stroke-width="0.7"/>
<polygon points="282.5,204.3 291.4,203.4 294.4,209.0 285.4,209.9" fill="#f4f3f2" stroke="#f4f3f2" stroke-width="0.7"/>
<polygon points="285.4,209.9 294.4,209.0 297.4,214.5 288.4,215.5" fill="#f2f2f2" stroke="#f2f2f2" stroke-width="0.7"/>
<polygon points="288.4,215.5 297.4,214.5 300.5,220.1 291.3,221.0" fill="#f0f2f3" stroke="#f0f2f3" stroke-width="0.7"/>
<polygon points="291.3,221.0 300.5,220.1 303.5,225.6 294.3,226.6" fill="#eef1f3" stroke="#eef1f3" stroke-width="0.7"/>
<polygon points="294.3,226.6 303.5,225.6 306.5,231.2 297.2,232.2" fill="#ecf1f3" stroke="#ecf1f3" stroke-width="0.7"/>
<polygon points="291.4,203.4 298.7,202.4 301.7,207.9 294.4,209.0" fill="#f6f4f2" stroke="#f6f4f2" stroke-width="0.7"/>
<polygon points="294.4,209.0 301.7,207.9 304.7,213.5 297.4,214.5" fill="#f4f3f2" stroke="#f4f3f2" stroke-width="0.7"/>
<polygon points="297.4,214.5 304.7,213.5 307.7,219.1 300.5,220.1" fill="#f2f2f2" stroke="#f2f2f2" stroke-width="0.7"/>
<polygon points="300.5,220.1 307.7,219.1 310.7,224.6 303.5,225.6" fill="#eff2f3" stroke="#eff2f3" stroke-width="0.7"/>
<polygon points="303.5,225.6 310.7,224.6 313.6,230.2 306.5,231.2" fill="#edf1f3" stroke="#edf1f3" stroke-width="0.7"/>
<polygon points="298.7,202.4 306.1,201.4 309.0,206.9 301.7,207.9" fill="#f7f4f1" stroke="#f7f4f1" stroke-width="0.7"/>
<polygon points="301.7,207.9 309.0,206.9 312.0,212.5 304.7,213.5" fill="#f5f3f2" stroke="#f5f3f2" stroke-width="0.7"/>
<polygon points="304.7,213.5 312.0,212.5 314.9,218.1 307.7,219.1" fill="#f3f3f2" stroke="#f3f3f2" stroke-width="0.7"/>
<polygon points="307.7,219.1 314.9,218.1 317.8,223.6 310.7,224.6" fill="#f1f2f3" stroke="#f1f2f3" stroke-width="0.7"/>
<polygon points="310.7,224.6 317.8,223.6 320.8,229.2 313.6,230.2" fill="#eff2f3" stroke="#eff2f3" stroke-width="0.7"/>
<polygon points="306.1,201.4 313.4,200.3 316.3,205.9 309.0,206.9" fill="#f8f2ef" stroke="#f8f2ef" stroke-width="0.7"/>
<polygon points="309.0,206.9 316.3,205.9 319.2,211.5 312.0,212.5" fill="#f7f4f2" stroke="#f7f4f2" stroke-width="0.7"/>
<polygon points="312.0,212.5 319.2,211.5 322.1,217.1 314.9,218.1" fill="#f5f3f2" stroke="#f5f3f2" stroke-width="0.7"/>
<polygon points="314.9,218.1 322.1,217.1 325.0,222.6 317.8,223.6" fill="#f3f3f2" stroke="#f3f3f2" stroke-width="0.7"/>
<polygon points="317.8,223.6 325.0,222.6 327.9,228.2 320.8,229.2" fill="#f1f2f3" stroke="#f1f2f3" stroke-width="0.7"/>
<polygon points="313.4,200.3 320.8,199.3 323.6,204.9 316.3,205.9" fill="#f8f1ed" stroke="#f8f1ed" stroke-width="0.7"/>
<polygon points="316.3,205.9 323.6,204.9 326.5,210.5 319.2,211.5" fill="#f8f2ef" stroke="#f8f2ef" stroke-width="0.7"/>
<polygon points="319.2,211.5 326.5,210.5 329.3,216.0 322.1,217.1" fill="#f7f4f2" stroke="#f7f4f2" stroke-width="0.7"/>
<polygon points="322.1,217.1 329.3,216.0 332.2,221.6 325.0,222.6" fill="#f5f3f2" stroke="#f5f3f2" stroke-width="0.7"/>
<polygon points="325.0,222.6 332.2,221.6 335.1,227.2 327.9,228.2" fill="#f3f3f2" stroke="#f3f3f2" stroke-width="0.7"/>
<polygon points="320.8,199.3 328.1,198.3 330.9,203.9 323.6,204.9" fill="#f9efea" stroke="#f9efea" stroke-width="0.7"/>
<polygon points="323.6,204.9 330.9,203.9 333.7,209.5 326.5,210.5" fill="#f8f1ed" stroke="#f8f1ed" stroke-width="0.7"/>
<polygon points="326.5,210.5 333.7,209.5 336.6,215.0 329.3,216.0" fill="#f7f3f0" stroke="#f7f3f0" stroke-width="0.7"/>
<polygon points="329.3,216.0 336.6,215.0 339.4,220.6 332.2,221.6" fill="#f7f4f2" stroke="#f7f4f2" stroke-width="0.7"/>
<polygon points="332.2,221.6 339.4,220.6 342.2,226.2 335.1,227.2" fill="#f5f3f2" stroke="#f5f3f2" stroke-width="0.7"/>
<polygon points="328.1,198.3 333.3,199.9 336.1,205.5 330.9,203.9" fill="#fddfd2" stroke="#fddfd2" stroke-width="0.7"/>
<polygon points="330.9,203.9 336.1,205.5 338.9,211.1 333.7,209.5" fill="#fde2d6" stroke="#fde2d6" stroke-width="0.7"/>
<polygon points="333.7,209.5 338.9,211.1 341.8,216.7 336.6,215.0" fill="#fce4d9" stroke="#fce4d9" stroke-width="0.7"/>
<polygon points="336.6,215.0 341.8,216.7 344.6,222.3 339.4,220.6" fill="#fce6db" stroke="#fce6db" stroke-width="0.7"/>
<polygon points="339.4,220.6 344.6,222.3 347.5,227.9 342.2,226.2" fill="#fbe7de" stroke="#fbe7de" stroke-width="0.7"/>
<polygon points="333.3,199.9 338.4,201.5 341.3,207.1 336.1,205.5" fill="#fddacb" stroke="#fddacb" stroke-width="0.7"/>
<polygon points="336.1,205.5 341.3,207.1 344.2,212.7 338.9,211.1" fill="#fdddcf" stroke="#fdddcf" stroke-width="0.7"/>
<polygon points="338.9,211.1 344.2,212.7 347.0,218.4 341.8,216.7" fill="#fde0d3" stroke="#fde0d3" stroke-width="0.7"/>
<polygon points="341.8,216.7 347.0,218.4 349.9,224.0 344.6,222.3" fill="#fde3d7" stroke="#fde3d7" stroke-width="0.7"/>
<polygon points="344.6,222.3 349.9,224.0 352.8,229.6 347.5,227.9" fill="#fce5da" stroke="#fce5da" stroke-width="0.7"/>
<polygon points="338.4,201.5 343.6,203.0 346.5,208.7 341.3,207.1" fill="#fdd5c4" stroke="#fdd5c4" stroke-width="0.7"/>
<polygon points="341.3,207.1 346.5,208.7 349.4,214.4 344.2,212.7" fill="#fdd8c8" stroke="#fdd8c8" stroke-width="0.7"/>
<polygon points="344.2,212.7 349.4,214.4 352.3,220.0 347.0,218.4" fill="#fddbcd" stroke="#fddbcd" stroke-width="0.7"/>
<polygon points="347.0,218.4 352.3,220.0 355.1,225.7 349.9,224.0" fill="#fddfd1" stroke="#fddfd1" stroke-width="0.7"/>
<polygon points="349.9,224.0 355.1,225.7 358.0,231.4 352.8,229.6" fill="#fde2d6" stroke="#fde2d6" stroke-width="0.7"/>
<polygon points="343.6,203.0 348.7,204.6 351.7,210.3 346.5,208.7" fill="#fdd0bd" stroke="#fdd0bd" stroke-width="0.7"/>
<polygon points="346.5,208.7 351.7,210.3 354.6,216.0 349.4,214.4" fill="#fdd3c2" stroke="#fdd3c2" stroke-width="0.7"/>
<polygon points="349.4,214.4 354.6,216.0 357.5,221.7 352.3,220.0" fill="#fdd7c6" stroke="#fdd7c6" stroke-width="0.7"/>
<polygon points="352.3,220.0 357.5,221.7 360.4,227.4 355.1,225.7" fill="#fddacb" stroke="#fddacb" stroke-width="0.7"/>
<polygon points="355.1,225.7 360.4,227.4 363.3,233.1 358.0,231.4" fill="#fdded0" stroke="#fdded0" stroke-width="0.7"/>
<polygon points="348.7,204.6 353.9,206.2 356.8,211.9 351.7,210.3" fill="#fdcab6" stroke="#fdcab6" stroke-width="0.7"/>
<polygon points="351.7,210.3 356.8,211.9 359.8,217.6 354.6,216.0" fill="#fdcebb" stroke="#fdcebb" stroke-width="0.7"/>
<polygon points="354.6,216.0 359.8,217.6 362.7,223.4 357.5,221.7" fill="#fdd2c0" stroke="#fdd2c0" stroke-width="0.7"/>
<polygon points="357.5,221.7 362.7,223.4 365.7,229.1 360.4,227.4" fill="#fdd6c5" stroke="#fdd6c5" stroke-width="0.7"/>
<polygon points="360.4,227.4 365.7,229.1 368.6,234.8 363.3,233.1" fill="#fdd9ca" stroke="#fdd9ca" stroke-width="0.7"/>
<polygon points="209.3,247.7 219.5,245.4 222.6,251.4 212.3,253.7" fill="#e3eef4" stroke="#e3eef4" stroke-width="0.7"/>
<polygon points="212.3,253.7 222.6,251.4 225.6,257.4 215.3,259.7" fill="#e1edf4" stroke="#e1edf4" stroke-width="0.7"/>
<polygon points="215.3,259.7 225.6,257.4 228.7,263.4 218.4,265.8" fill="#dfecf4" stroke="#dfecf4" stroke-width="0.7"/>
<polygon points="218.4,265.8 228.7,263.4 231.8,269.4 221.4,271.8" fill="#ddebf3" stroke="#ddebf3" stroke-width="0.7"/>
<polygon points="221.4,271.8 231.8,269.4 234.9,275.4 224.4,277.8" fill="#dbeaf3" stroke="#dbeaf3" stroke-width="0.7"/>
<polygon points="219.5,245.4 229.7,243.1 232.8,249.1 222.6,251.4" fill="#e4eef4" stroke="#e4eef4" stroke-width="0.7"/>
<polygon points="222.6,251.4 232.8,249.1 235.9,255.1 225.6,257.4" fill="#e2edf4" stroke="#e2edf4" stroke-width="0.7"/>
<polygon points="225.6,257.4 235.9,255.1 239.1,261.1 228.7,263.4" fill="#e0edf4" stroke="#e0edf4" stroke-width="0.7"/>
<polygon points="228.7,263.4 239.1,261.1 242.2,267.0 231.8,269.4" fill="#deebf3" stroke="#deebf3" stroke-width="0.7"/>
<polygon points="231.8,269.4 242.2,267.0 245.3,273.0 234.9,275.4" fill="#dceaf3" stroke="#dceaf3" stroke-width="0.7"/>
<polygon points="229.7,243.1 239.8,240.9 243.0,246.8 232.8,249.1" fill="#e4eef4" stroke="#e4eef4" stroke-width="0.7"/>
<polygon points="232.8,249.1 243.0,246.8 246.2,252.8 235.9,255.1" fill="#e3eef4" stroke="#e3eef4" stroke-width="0.7"/>
<polygon points="235.9,255.1 246.2,252.8 249.4,258.7 239.1,261.1" fill="#e1edf4" stroke="#e1edf4" stroke-width="0.7"/>
<polygon points="239.1,261.1 249.4,258.7 252.6,264.7 242.2,267.0" fill="#dfecf3" stroke="#dfecf3" stroke-width="0.7"/>
<polygon points="242.2,267.0 252.6,264.7 255.8,270.6 245.3,273.0" fill="#dcebf3" stroke="#dcebf3" stroke-width="0.7"/>
<polygon points="239.8,240.9 250.0,238.6 253.3,244.5 243.0,246.8" fill="#e5eef4" stroke="#e5eef4" stroke-width="0.7"/>
<polygon points="243.0,246.8 253.3,244.5 256.5,250.4 246.2,252.8" fill="#e3eef4" stroke="#e3eef4" stroke-width="0.7"/>
<polygon points="246.2,252.8 256.5,250.4 259.8,256.4 249.4,258.7" fill="#e2edf4" stroke="#e2edf4" stroke-width="0.7"/>
<polygon points="249.4,258.7 259.8,256.4 263.0,262.3 252.6,264.7" fill="#e0ecf4" stroke="#e0ecf4" stroke-width="0.7"/>
<polygon points="252.6,264.7 263.0,262.3 266.2,268.2 255.8,270.6" fill="#ddebf3" stroke="#ddebf3" stroke-width="0.7"/>
<polygon points="250.0,238.6 260.2,236.3 263.5,242.2 253.3,244.5" fill="#e6eff4" stroke="#e6eff4" stroke-width="0.7"/>
<polygon points="253.3,244.5 263.5,242.2 266.8,248.1 256.5,250.4" fill="#e4eef4" stroke="#e4eef4" stroke-width="0.7"/>
<polygon points="256.5,250.4 266.8,248.1 270.1,254.0 259.8,256.4" fill="#e2edf4" stroke="#e2edf4" stroke-width="0.7"/>
<polygon points="259.8,256.4 270.1,254.0 273.4,259.9 263.0,262.3" fill="#e1edf4" stroke="#e1edf4" stroke-width="0.7"/>
<polygon points="263.0,262.3 273.4,259.9 276.7,265.8 266.2,268.2" fill="#deecf3" stroke="#deecf3" stroke-width="0.7"/>
<polygon points="260.2,236.3 269.5,235.3 272.8,241.2 263.5,242.2" fill="#e7eff3" stroke="#e7eff3" stroke-width="0.7"/>
<polygon points="263.5,242.2 272.8,241.2 276.1,247.0 266.8,248.1" fill="#e5eef4" stroke="#e5eef4" stroke-width="0.7"/>
<polygon points="266.8,248.1 276.1,247.0 279.4,252.9 270.1,254.0" fill="#e3eef4" stroke="#e3eef4" stroke-width="0.7"/>
<polygon points="270.1,254.0 279.4,252.9 282.7,258.8 273.4,259.9" fill="#e1edf4" stroke="#e1edf4" stroke-width="0.7"/>
<polygon points="273.4,259.9 282.7,258.8 286.0,264.7 276.7,265.8" fill="#dfecf4" stroke="#dfecf4" stroke-width="0.7"/>
<polygon points="269.5,235.3 278.7,234.3 282.0,240.1 272.8,241.2" fill="#e8eff3" stroke="#e8eff3" stroke-width="0.7"/>
<polygon points="272.8,241.2 282.0,240.1 285.4,246.0 276.1,247.0" fill="#e6eff4" stroke="#e6eff4" stroke-width="0.7"/>
<polygon points="276.1,247.0 285.4,246.0 288.7,251.9 279.4,252.9" fill="#e4eef4" stroke="#e4eef4" stroke-width="0.7"/>
<polygon points="279.4,252.9 288.7,251.9 292.0,257.7 282.7,258.8" fill="#e2edf4" stroke="#e2edf4" stroke-width="0.7"/>
<polygon points="282.7,258.8 292.0,257.7 295.3,263.6 286.0,264.7" fill="#e0edf4" stroke="#e0edf4" stroke-width="0.7"/>
<polygon points="278.7,234.3 288.0,233.2 291.3,239.1 282.0,240.1" fill="#e8eff3" stroke="#e8eff3" stroke-width="0.7"/>
<polygon points="282.0,240.1 291.3,239.1 294.6,244.9 285.4,246.0" fill="#e7eff3" stroke="#e7eff3" stroke-width="0.7"/>
<polygon points="285.4,246.0 294.6,244.9 298.0,250.8 288.7,251.9" fill="#e5eef4" stroke="#e5eef4" stroke-width="0.7"/>
<polygon points="288.7,251.9 298.0,250.8 301.3,256.6 292.0,257.7" fill="#e3eef4" stroke="#e3eef4" stroke-width="0.7"/>
<polygon points="292.0,257.7 301.3,256.6 304.6,262.5 295.3,263.6" fill="#e1edf4" stroke="#e1edf4" stroke-width="0.7"/>
<polygon points="288.0,233.2 297.2,232.2 300.6,238.1 291.3,239.1" fill="#e9f0f3" stroke="#e9f0f3" stroke-width="0.7"/>
<polygon points="291.3,239.1 300.6,238.1 303.9,243.9 294.6,244.9" fill="#e8eff3" stroke="#e8eff3" stroke-width="0.7"/>
<polygon points="294.6,244.9 303.9,243.9 307.2,249.7 298.0,250.8" fill="#e6eef4" stroke="#e6eef4" stroke-width="0.7"/>
<polygon points="298.0,250.8 307.2,249.7 310.6,255.6 301.3,256.6" fill="#e4eef4" stroke="#e4eef4" stroke-width="0.7"/>
<polygon points="301.3,256.6 310.6,255.6 313.9,261.4 304.6,262.5" fill="#e2edf4" stroke="#e2edf4" stroke-width="0.7"/>
<polygon points="297.2,232.2 306.5,231.2 309.8,237.0 300.6,238.1" fill="#eaf0f3" stroke="#eaf0f3" stroke-width="0.7"/>
<polygon points="300.6,238.1 309.8,237.0 313.2,242.8 303.9,243.9" fill="#e8eff3" stroke="#e8eff3" stroke-width="0.7"/>
<polygon points="303.9,243.9 313.2,242.8 316.5,248.7 307.2,249.7" fill="#e7eff3" stroke="#e7eff3" stroke-width="0.7"/>
<polygon points="307.2,249.7 316.5,248.7 319.9,254.5 310.6,255.6" fill="#e5eef4" stroke="#e5eef4" stroke-width="0.7"/>
<polygon points="310.6,255.6 319.9,254.5 323.2,260.3 313.9,261.4" fill="#e3eef4" stroke="#e3eef4" stroke-width="0.7"/>
<polygon points="306.5,231.2 313.6,230.2 317.0,236.0 309.8,237.0" fill="#ecf0f3" stroke="#ecf0f3" stroke-width="0.7"/>
<polygon points="309.8,237.0 317.0,236.0 320.4,241.9 313.2,242.8" fill="#eaf0f3" stroke="#eaf0f3" stroke-width="0.7"/>
<polygon points="313.2,242.8 320.4,241.9 323.8,247.7 316.5,248.7" fill="#e8eff3" stroke="#e8eff3" stroke-width="0.7"/>
<polygon points="316.5,248.7 323.8,247.7 327.1,253.6 319.9,254.5" fill="#e6eff4" stroke="#e6eff4" stroke-width="0.7"/>
<polygon points="319.9,254.5 327.1,253.6 330.5,259.4 323.2,260.3" fill="#e4eef4" stroke="#e4eef4" stroke-width="0.7"/>
<polygon points="313.6,230.2 320.8,229.2 324.2,235.1 317.0,236.0" fill="#edf1f3" stroke="#edf1f3" stroke-width="0.7"/>
<polygon points="317.0,236.0 324.2,235.1 327.6,240.9 320.4,241.9" fill="#ebf0f3" stroke="#ebf0f3" stroke-width="0.7"/>
<polygon points="320.4,241.9 327.6,240.9 331.0,246.8 323.8,247.7" fill="#e9f0f3" stroke="#e9f0f3" stroke-width="0.7"/>
<polygon points="323.8,247.7 331.0,246.8 334.4,252.7 327.1,253.6" fill="#e7eff3" stroke="#e7eff3" stroke-width="0.7"/>
<polygon points="327.1,253.6 334.4,252.7 337.8,258.5 330.5,259.4" fill="#e6eef4" stroke="#e6eef4" stroke-width="0.7"/>
<polygon points="320.8,229.2 327.9,228.2 331.4,234.1 324.2,235.1" fill="#eff1f3" stroke="#eff1f3" stroke-width="0.7"/>
<polygon points="324.2,235.1 331.4,234.1 334.8,240.0 327.6,240.9" fill="#edf1f3" stroke="#edf1f3" stroke-width="0.7"/>
<polygon points="327.6,240.9 334.8,240.0 338.3,245.9 331.0,246.8" fill="#ebf0f3" stroke="#ebf0f3" stroke-width="0.7"/>
<polygon points="331.0,246.8 338.3,245.9 341.7,251.8 334.4,252.7" fill="#e9f0f3" stroke="#e9f0f3" stroke-width="0.7"/>
<polygon points="334.4,252.7 341.7,251.8 345.2,257.7 337.8,258.5" fill="#e7eff3" stroke="#e7eff3" stroke-width="0.7"/>
<polygon points="327.9,228.2 335.1,227.2 338.5,233.1 331.4,234.1" fill="#f1f2f3" stroke="#f1f2f3" stroke-width="0.7"/>
<polygon points="331.4,234.1 338.5,233.1 342.0,239.0 334.8,240.0" fill="#eff1f3" stroke="#eff1f3" stroke-width="0.7"/>
<polygon points="334.8,240.0 342.0,239.0 345.5,244.9 338.3,245.9" fill="#edf1f3" stroke="#edf1f3" stroke-width="0.7"/>
<polygon points="338.3,245.9 345.5,244.9 349.0,250.9 341.7,251.8" fill="#ebf0f3" stroke="#ebf0f3" stroke-width="0.7"/>
<polygon points="341.7,251.8 349.0,250.9 352.5,256.8 345.2,257.7" fill="#e9eff3" stroke="#e9eff3" stroke-width="0.7"/>
<polygon points="335.1,227.2 342.2,226.2 345.7,232.1 338.5,233.1" fill="#f2f3f2" stroke="#f2f3f2" stroke-width="0.7"/>
<polygon points="338.5,233.1 345.7,232.1 349.2,238.1 342.0,239.0" fill="#f0f2f3" stroke="#f0f2f3" stroke-width="0.7"/>
<polygon points="342.0,239.0 349.2,238.1 352.8,244.0 345.5,244.9" fill="#eef1f3" stroke="#eef1f3" stroke-width="0.7"/>
<polygon points="345.5,244.9 352.8,244.0 356.3,250.0 349.0,250.9" fill="#ecf1f3" stroke="#ecf1f3" stroke-width="0.7"/>
<polygon points="349.0,250.9 356.3,250.0 359.8,255.9 352.5,256.8" fill="#eaf0f3" stroke="#eaf0f3" stroke-width="0.7"/>
<polygon points="342.2,226.2 347.5,227.9 351.0,233.8 345.7,232.1" fill="#fbe9e1" stroke="#fbe9e1" stroke-width="0.7"/>
<polygon points="345.7,232.1 351.0,233.8 354.6,239.8 349.2,238.1" fill="#faebe4" stroke="#faebe4" stroke-width="0.7"/>
<polygon points="349.2,238.1 354.6,239.8 358.1,245.7 352.8,244.0" fill="#f9ede7" stroke="#f9ede7" stroke-width="0.7"/>
<polygon points="352.8,244.0 358.1,245.7 361.7,251.6 356.3,250.0" fill="#f9eee9" stroke="#f9eee9" stroke-width="0.7"/>
<polygon points="356.3,250.0 361.7,251.6 365.2,257.5 359.8,255.9" fill="#f8f0ec" stroke="#f8f0ec" stroke-width="0.7"/>
<polygon points="347.5,227.9 352.8,229.6 356.3,235.5 351.0,233.8" fill="#fbe7dd" stroke="#fbe7dd" stroke-width="0.7"/>
<polygon points="351.0,233.8 356.3,235.5 359.9,241.5 354.6,239.8" fill="#fbe8e0" stroke="#fbe8e0" stroke-width="0.7"/>
<polygon points="354.6,239.8 359.9,241.5 363.5,247.4 358.1,245.7" fill="#faeae3" stroke="#faeae3" stroke-width="0.7"/>
<polygon points="358.1,245.7 363.5,247.4 367.1,253.3 361.7,251.6" fill="#faece6" stroke="#faece6" stroke-width="0.7"/>
<polygon points="361.7,251.6 367.1,253.3 370.6,259.2 365.2,257.5" fill="#f9eee9" stroke="#f9eee9" stroke-width="0.7"/>
<polygon points="352.8,229.6 358.0,231.4 361.6,237.3 356.3,235.5" fill="#fce4d9" stroke="#fce4d9" stroke-width="0.7"/>
<polygon points="356.3,235.5 361.6,237.3 365.2,243.1 359.9,241.5" fill="#fce6dc" stroke="#fce6dc" stroke-width="0.7"/>
<polygon points="359.9,241.5 365.2,243.1 368.9,249.0 363.5,247.4" fill="#fbe8df" stroke="#fbe8df" stroke-width="0.7"/>
<polygon points="363.5,247.4 368.9,249.0 372.5,254.9 367.1,253.3" fill="#faeae2" stroke="#faeae2" stroke-width="0.7"/>
<polygon points="367.1,253.3 372.5,254.9 376.1,260.8 370.6,259.2" fill="#faece5" stroke="#faece5" stroke-width="0.7"/>
<polygon points="358.0,231.4 363.3,233.1 367.0,239.0 361.6,237.3" fill="#fde1d4" stroke="#fde1d4" stroke-width="0.7"/>
<polygon points="361.6,237.3 367.0,239.0 370.6,244.8 365.2,243.1" fill="#fde3d8" stroke="#fde3d8" stroke-width="0.7"/>
<polygon points="365.2,243.1 370.6,244.8 374.2,250.7 368.9,249.0" fill="#fce5db" stroke="#fce5db" stroke-width="0.7"/>
<polygon points="368.9,249.0 374.2,250.7 377.8,256.6 372.5,254.9" fill="#fbe8df" stroke="#fbe8df" stroke-width="0.7"/>
<polygon points="372.5,254.9 377.8,256.6 381.5,262.5 376.1,260.8" fill="#faeae2" stroke="#faeae2" stroke-width="0.7"/>
<polygon points="363.3,233.1 368.6,234.8 372.3,240.7 367.0,239.0" fill="#fdddcf" stroke="#fdddcf" stroke-width="0.7"/>
<polygon points="367.0,239.0 372.3,240.7 375.9,246.5 370.6,244.8" fill="#fde0d4" stroke="#fde0d4" stroke-width="0.7"/>
<polygon points="370.6,244.8 375.9,246.5 379.6,252.4 374.2,250.7" fill="#fde3d8" stroke="#fde3d8" stroke-width="0.7"/>
<polygon points="374.2,250.7 379.6,252.4 383.2,258.2 377.8,256.6" fill="#fce5db" stroke="#fce5db" stroke-width="0.7"/>
<polygon points="377.8,256.6 383.2,258.2 386.9,264.1 381.5,262.5" fill="#fbe7de" stroke="#fbe7de" stroke-width="0.7"/>
<polygon points="224.4,277.8 234.9,275.4 238.6,281.7 228.0,284.1" fill="#d9e9f2" stroke="#d9e9f2" stroke-width="0.7"/>
<polygon points="228.0,284.1 238.6,281.7 242.3,287.9 231.7,290.4" fill="#d7e8f2" stroke="#d7e8f2" stroke-width="0.7"/>
<polygon points="231.7,290.4 242.3,287.9 246.0,294.2 235.3,296.7" fill="#d5e7f1" stroke="#d5e7f1" stroke-width="0.7"/>
<polygon points="235.3,296.7 246.0,294.2 249.7,300.5 239.0,303.0" fill="#d3e6f1" stroke="#d3e6f1" stroke-width="0.7"/>
<polygon points="239.0,303.0 249.7,300.5 253.4,306.8 242.6,309.3" fill="#d1e5f0" stroke="#d1e5f0" stroke-width="0.7"/>
<polygon points="234.9,275.4 245.3,273.0 249.1,279.2 238.6,281.7" fill="#d9e9f2" stroke="#d9e9f2" stroke-width="0.7"/>
<polygon points="238.6,281.7 249.1,279.2 252.9,285.5 242.3,287.9" fill="#d8e8f2" stroke="#d8e8f2" stroke-width="0.7"/>
<polygon points="242.3,287.9 252.9,285.5 256.6,291.7 246.0,294.2" fill="#d6e7f1" stroke="#d6e7f1" stroke-width="0.7"/>
<polygon points="246.0,294.2 256.6,291.7 260.4,298.0 249.7,300.5" fill="#d4e6f1" stroke="#d4e6f1" stroke-width="0.7"/>
<polygon points="249.7,300.5 260.4,298.0 264.2,304.2 253.4,306.8" fill="#d2e5f0" stroke="#d2e5f0" stroke-width="0.7"/>
<polygon points="245.3,273.0 255.8,270.6 259.6,276.8 249.1,279.2" fill="#daeaf2" stroke="#daeaf2" stroke-width="0.7"/>
<polygon points="249.1,279.2 259.6,276.8 263.4,283.0 252.9,285.5" fill="#d8e9f2" stroke="#d8e9f2" stroke-width="0.7"/>
<polygon points="252.9,285.5 263.4,283.0 267.3,289.2 256.6,291.7" fill="#d6e8f2" stroke="#d6e8f2" stroke-width="0.7"/>
<polygon points="256.6,291.7 267.3,289.2 271.1,295.5 260.4,298.0" fill="#d4e7f1" stroke="#d4e7f1" stroke-width="0.7"/>
<polygon points="260.4,298.0 271.1,295.5 274.9,301.7 264.2,304.2" fill="#d2e6f1" stroke="#d2e6f1" stroke-width="0.7"/>
<polygon points="255.8,270.6 266.2,268.2 270.1,274.4 259.6,276.8" fill="#dbeaf3" stroke="#dbeaf3" stroke-width="0.7"/>
<polygon points="259.6,276.8 270.1,274.4 274.0,280.6 263.4,283.0" fill="#d9e9f2" stroke="#d9e9f2" stroke-width="0.7"/>
<polygon points="263.4,283.0 274.0,280.6 277.9,286.8 267.3,289.2" fill="#d7e8f2" stroke="#d7e8f2" stroke-width="0.7"/>
<polygon points="267.3,289.2 277.9,286.8 281.8,293.0 271.1,295.5" fill="#d5e7f1" stroke="#d5e7f1" stroke-width="0.7"/>
<polygon points="271.1,295.5 281.8,293.0 285.7,299.1 274.9,301.7" fill="#d3e6f1" stroke="#d3e6f1" stroke-width="0.7"/>
<polygon points="266.2,268.2 276.7,265.8 280.7,272.0 270.1,274.4" fill="#dceaf3" stroke="#dceaf3" stroke-width="0.7"/>
<polygon points="270.1,274.4 280.7,272.0 284.6,278.1 274.0,280.6" fill="#dae9f2" stroke="#dae9f2" stroke-width="0.7"/>
<polygon points="274.0,280.6 284.6,278.1 288.6,284.3 277.9,286.8" fill="#d8e8f2" stroke="#d8e8f2" stroke-width="0.7"/>
<polygon points="277.9,286.8 288.6,284.3 292.5,290.4 281.8,293.0" fill="#d6e7f1" stroke="#d6e7f1" stroke-width="0.7"/>
<polygon points="281.8,293.0 292.5,290.4 296.5,296.6 285.7,299.1" fill="#d4e6f1" stroke="#d4e6f1" stroke-width="0.7"/>
<polygon points="276.7,265.8 286.0,264.7 289.9,270.9 280.7,272.0" fill="#ddebf3" stroke="#ddebf3" stroke-width="0.7"/>
<polygon points="280.7,272.0 289.9,270.9 293.8,277.0 284.6,278.1" fill="#dbeaf3" stroke="#dbeaf3" stroke-width="0.7"/>
<polygon points="284.6,278.1 293.8,277.0 297.6,283.2 288.6,284.3" fill="#d9e9f2" stroke="#d9e9f2" stroke-width="0.7"/>
<polygon points="288.6,284.3 297.6,283.2 301.5,289.3 292.5,290.4" fill="#d7e8f2" stroke="#d7e8f2" stroke-width="0.7"/>
<polygon points="292.5,290.4 301.5,289.3 305.4,295.5 296.5,296.6" fill="#d5e7f1" stroke="#d5e7f1" stroke-width="0.7"/>
<polygon points="286.0,264.7 295.3,263.6 299.1,269.8 289.9,270.9" fill="#deebf3" stroke="#deebf3" stroke-width="0.7"/>
<polygon points="289.9,270.9 299.1,269.8 302.9,275.9 293.8,277.0" fill="#dceaf3" stroke="#dceaf3" stroke-width="0.7"/>
<polygon points="293.8,277.0 302.9,275.9 306.7,282.1 297.6,283.2" fill="#dae9f2" stroke="#dae9f2" stroke-width="0.7"/>
<polygon points="297.6,283.2 306.7,282.1 310.5,288.2 301.5,289.3" fill="#d8e8f2" stroke="#d8e8f2" stroke-width="0.7"/>
<polygon points="301.5,289.3 310.5,288.2 314.3,294.4 305.4,295.5" fill="#d6e7f1" stroke="#d6e7f1" stroke-width="0.7"/>
<polygon points="295.3,263.6 304.6,262.5 308.3,268.6 299.1,269.8" fill="#dfecf4" stroke="#dfecf4" stroke-width="0.7"/>
<polygon points="299.1,269.8 308.3,268.6 312.0,274.8 302.9,275.9" fill="#ddebf3" stroke="#ddebf3" stroke-width="0.7"/>
<polygon points="302.9,275.9 312.0,274.8 315.7,280.9 306.7,282.1" fill="#dbeaf3" stroke="#dbeaf3" stroke-width="0.7"/>
<polygon points="306.7,282.1 315.7,280.9 319.4,287.1 310.5,288.2" fill="#d9e9f2" stroke="#d9e9f2" stroke-width="0.7"/>
<polygon points="310.5,288.2 319.4,287.1 323.1,293.2 314.3,294.4" fill="#d7e8f2" stroke="#d7e8f2" stroke-width="0.7"/>
<polygon points="304.6,262.5 313.9,261.4 317.5,267.5 308.3,268.6" fill="#e0edf4" stroke="#e0edf4" stroke-width="0.7"/>
<polygon points="308.3,268.6 317.5,267.5 321.1,273.7 312.0,274.8" fill="#deebf3" stroke="#deebf3" stroke-width="0.7"/>
<polygon points="312.0,274.8 321.1,273.7 324.8,279.8 315.7,280.9" fill="#dceaf3" stroke="#dceaf3" stroke-width="0.7"/>
<polygon points="315.7,280.9 324.8,279.8 328.4,286.0 319.4,287.1" fill="#dae9f2" stroke="#dae9f2" stroke-width="0.7"/>
<polygon points="319.4,287.1 328.4,286.0 332.0,292.1 323.1,293.2" fill="#d8e8f2" stroke="#d8e8f2" stroke-width="0.7"/>
<polygon points="313.9,261.4 323.2,260.3 326.7,266.4 317.5,267.5" fill="#e1edf4" stroke="#e1edf4" stroke-width="0.7"/>
<polygon points="317.5,267.5 326.7,266.4 330.3,272.6 321.1,273.7" fill="#dfecf4" stroke="#dfecf4" stroke-width="0.7"/>
<polygon points="321.1,273.7 330.3,272.6 333.8,278.7 324.8,279.8" fill="#ddebf3" stroke="#ddebf3" stroke-width="0.7"/>
<polygon points="324.8,279.8 333.8,278.7 337.4,284.9 328.4,286.0" fill="#dbeaf3" stroke="#dbeaf3" stroke-width="0.7"/>
<polygon points="328.4,286.0 337.4,284.9 340.9,291.0 332.0,292.1" fill="#d9e9f2" stroke="#d9e9f2" stroke-width="0.7"/>
<polygon points="323.2,260.3 330.5,259.4 334.2,265.6 326.7,266.4" fill="#e2edf4" stroke="#e2edf4" stroke-width="0.7"/>
<polygon points="326.7,266.4 334.2,265.6 337.9,271.8 330.3,272.6" fill="#e1edf4" stroke="#e1edf4" stroke-width="0.7"/>
<polygon points="330.3,272.6 337.9,271.8 341.6,278.0 333.8,278.7" fill="#deecf3" stroke="#deecf3" stroke-width="0.7"/>
<polygon points="333.8,278.7 341.6,278.0 345.3,284.2 337.4,284.9" fill="#dcebf3" stroke="#dcebf3" stroke-width="0.7"/>
<polygon points="337.4,284.9 345.3,284.2 348.9,290.4 340.9,291.0" fill="#dae9f2" stroke="#dae9f2" stroke-width="0.7"/>
<polygon points="330.5,259.4 337.8,258.5 341.7,264.8 334.2,265.6" fill="#e4eef4" stroke="#e4eef4" stroke-width="0.7"/>
<polygon points="334.2,265.6 341.7,264.8 345.5,271.0 337.9,271.8" fill="#e2edf4" stroke="#e2edf4" stroke-width="0.7"/>
<polygon points="337.9,271.8 345.5,271.0 349.3,277.3 341.6,278.0" fill="#e0edf4" stroke="#e0edf4" stroke-width="0.7"/>
<polygon points="341.6,278.0 349.3,277.3 353.2,283.5 345.3,284.2" fill="#deecf3" stroke="#deecf3" stroke-width="0.7"/>
<polygon points="345.3,284.2 353.2,283.5 357.0,289.8 348.9,290.4" fill="#dceaf3" stroke="#dceaf3" stroke-width="0.7"/>
<polygon points="337.8,258.5 345.2,257.7 349.1,264.0 341.7,264.8" fill="#e5eef4" stroke="#e5eef4" stroke-width="0.7"/>
<polygon points="341.7,264.8 349.1,264.0 353.1,270.3 345.5,271.0" fill="#e4eef4" stroke="#e4eef4" stroke-width="0.7"/>
<polygon points="345.5,271.0 353.1,270.3 357.1,276.6 349.3,277.3" fill="#e2edf4" stroke="#e2edf4" stroke-width="0.7"/>
<polygon points="349.3,277.3 357.1,276.6 361.0,282.9 353.2,283.5" fill="#e0ecf4" stroke="#e0ecf4" stroke-width="0.7"/>
<polygon points="353.2,283.5 361.0,282.9 365.0,289.2 357.0,289.8" fill="#deebf3" stroke="#deebf3" stroke-width="0.7"/>
<polygon points="345.2,257.7 352.5,256.8 356.6,263.1 349.1,264.0" fill="#e7eff3" stroke="#e7eff3" stroke-width="0.7"/>
<polygon points="349.1,264.0 356.6,263.1 360.7,269.5 353.1,270.3" fill="#e5eef4" stroke="#e5eef4" stroke-width="0.7"/>
<polygon points="353.1,270.3 360.7,269.5 364.8,275.9 357.1,276.6" fill="#e3eef4" stroke="#e3eef4" stroke-width="0.7"/>
<polygon points="357.1,276.6 364.8,275.9 368.9,282.2 361.0,282.9" fill="#e2edf4" stroke="#e2edf4" stroke-width="0.7"/>
<polygon points="361.0,282.9 368.9,282.2 373.1,288.6 365.0,289.2" fill="#dfecf4" stroke="#dfecf4" stroke-width="0.7"/>
<polygon points="352.5,256.8 359.8,255.9 364.1,262.3 356.6,263.1" fill="#e8eff3" stroke="#e8eff3" stroke-width="0.7"/>
<polygon points="356.6,263.1 364.1,262.3 368.3,268.7 360.7,269.5" fill="#e6eff4" stroke="#e6eff4" stroke-width="0.7"/>
<polygon points="360.7,269.5 368.3,268.7 372.6,275.2 364.8,275.9" fill="#e5eef4" stroke="#e5eef4" stroke-width="0.7"/>
<polygon points="364.8,275.9 372.6,275.2 376.8,281.6 368.9,282.2" fill="#e3eef4" stroke="#e3eef4" stroke-width="0.7"/>
<polygon points="368.9,282.2 376.8,281.6 381.1,288.0 373.1,288.6" fill="#e1edf4" stroke="#e1edf4" stroke-width="0.7"/>
<polygon points="359.8,255.9 365.2,257.5 369.5,263.9 364.1,262.3" fill="#f8f2ef" stroke="#f8f2ef" stroke-width="0.7"/>
<polygon points="364.1,262.3 369.5,263.9 373.8,270.2 368.3,268.7" fill="#f7f3f1" stroke="#f7f3f1" stroke-width="0.7"/>
<polygon points="368.3,268.7 373.8,270.2 378.1,276.5 372.6,275.2" fill="#f6f4f2" stroke="#f6f4f2" stroke-width="0.7"/>
<polygon points="372.6,275.2 378.1,276.5 382.4,282.9 376.8,281.6" fill="#f4f3f2" stroke="#f4f3f2" stroke-width="0.7"/>
<polygon points="376.8,281.6 382.4,282.9 386.7,289.2 381.1,288.0" fill="#f2f2f2" stroke="#f2f2f2" stroke-width="0.7"/>
<polygon points="365.2,257.5 370.6,259.2 375.0,265.4 369.5,263.9" fill="#f8f0ec" stroke="#f8f0ec" stroke-width="0.7"/>
<polygon points="369.5,263.9 375.0,265.4 379.3,271.7 373.8,270.2" fill="#f8f2ee" stroke="#f8f2ee" stroke-width="0.7"/>
<polygon points="373.8,270.2 379.3,271.7 383.6,277.9 378.1,276.5" fill="#f7f3f1" stroke="#f7f3f1" stroke-width="0.7"/>
<polygon points="378.1,276.5 383.6,277.9 388.0,284.2 382.4,282.9" fill="#f6f4f2" stroke="#f6f4f2" stroke-width="0.7"/>
<polygon points="382.4,282.9 388.0,284.2 392.3,290.4 386.7,289.2" fill="#f3f3f2" stroke="#f3f3f2" stroke-width="0.7"/>
<polygon points="370.6,259.2 376.1,260.8 380.4,267.0 375.0,265.4" fill="#f9eee8" stroke="#f9eee8" stroke-width="0.7"/>
<polygon points="375.0,265.4 380.4,267.0 384.8,273.1 379.3,271.7" fill="#f8f0eb" stroke="#f8f0eb" stroke-width="0.7"/>
<polygon points="379.3,271.7 384.8,273.1 389.2,279.3 383.6,277.9" fill="#f8f2ee" stroke="#f8f2ee" stroke-width="0.7"/>
<polygon points="383.6,277.9 389.2,279.3 393.5,285.4 388.0,284.2" fill="#f7f4f2" stroke="#f7f4f2" stroke-width="0.7"/>
<polygon points="388.0,284.2 393.5,285.4 397.9,291.6 392.3,290.4" fill="#f5f3f2" stroke="#f5f3f2" stroke-width="0.7"/>
<polygon points="376.1,260.8 381.5,262.5 385.9,268.5 380.4,267.0" fill="#faece5" stroke="#faece5" stroke-width="0.7"/>
<polygon points="380.4,267.0 385.9,268.5 390.3,274.6 384.8,273.1" fill="#f9eee9" stroke="#f9eee9" stroke-width="0.7"/>
<polygon points="384.8,273.1 390.3,274.6 394.7,280.7 389.2,279.3" fill="#f8f0ec" stroke="#f8f0ec" stroke-width="0.7"/>
<polygon points="389.2,279.3 394.7,280.7 399.1,286.7 393.5,285.4" fill="#f8f2ef" stroke="#f8f2ef" stroke-width="0.7"/>
<polygon points="393.5,285.4 399.1,286.7 403.5,292.8 397.9,291.6" fill="#f6f4f2" stroke="#f6f4f2" stroke-width="0.7"/>
<polygon points="381.5,262.5 386.9,264.1 391.3,270.1 385.9,268.5" fill="#faeae2" stroke="#faeae2" stroke-width="0.7"/>
<polygon points="385.9,268.5 391.3,270.1 395.8,276.1 390.3,274.6" fill="#faece6" stroke="#faece6" stroke-width="0.7"/>
<polygon points="390.3,274.6 395.8,276.1 400.2,282.0 394.7,280.7" fill="#f9efe9" stroke="#f9efe9" stroke-width="0.7"/>
<polygon points="394.7,280.7 400.2,282.0 404.7,288.0 399.1,286.7" fill="#f8f1ed" stroke="#f8f1ed" stroke-width="0.7"/>
<polygon points="399.1,286.7 404.7,288.0 409.1,294.0 403.5,292.8" fill="#f7f3f1" stroke="#f7f3f1" stroke-width="0.7"/>
<polyline points="242.6,325.7 246.8,324.4 252.5,322.6 259.3,320.5 266.8,318.2 274.6,315.8 282.4,313.6 289.8,311.6 296.5,310.1 302.5,309.0 308.4,308.1 314.0,307.4 319.6,306.9 325.0,306.5 330.3,306.2 335.6,305.9 340.9,305.5 346.4,305.1 352.2,304.9 358.0,304.6 363.8,304.4 369.2,304.3 374.0,304.1 378.0,304.0 381.1,303.9 406.5,294.9" class="bmesh" fill="none"/>
<polyline points="296.5,296.6 296.5,310.1" class="bmesh" fill="none"/>
<polyline points="340.9,291.0 340.9,305.5" class="bmesh" fill="none"/>
<polyline points="381.1,288.0 381.1,303.9" class="bmesh" fill="none"/>
<polyline points="176.7,165.1 227.9,153.7 269.7,150.9 308.6,145.8 333.9,152.7" class="bmesh" fill="none"/>
<polyline points="185.9,191.4 236.1,180.3 278.8,176.7 316.9,171.7 342.5,178.8" class="bmesh" fill="none"/>
<polyline points="196.6,218.9 246.8,207.8 291.4,203.4 328.1,198.3 353.9,206.2" class="bmesh" fill="none"/>
<polyline points="209.3,247.7 260.2,236.3 306.5,231.2 342.2,226.2 368.6,234.8" class="bmesh" fill="none"/>
<polyline points="224.4,277.8 276.7,265.8 323.2,260.3 359.8,255.9 386.9,264.1" class="bmesh" fill="none"/>
<polyline points="222.0,127.8 222.6,130.6 223.4,134.5 224.4,139.1 225.5,144.1 226.7,149.0 227.9,153.7 229.1,158.1 230.4,162.5 231.7,166.9 233.1,171.3 234.6,175.8 236.1,180.3 237.7,184.8 239.4,189.4 241.1,193.9 242.9,198.5 244.8,203.1 246.8,207.8 248.8,212.5 251.0,217.2 253.1,221.9 255.4,226.7 257.8,231.5 260.2,236.3 262.7,241.1 265.3,246.0 268.0,250.9 270.8,255.8 273.7,260.8 276.7,265.8 280.0,271.2 283.8,277.1 287.6,283.0 291.2,288.6 294.3,293.2 296.5,296.6" class="bmesh" fill="none"/>
<polyline points="264.8,125.6 265.3,128.3 265.9,132.1 266.7,136.6 267.6,141.5 268.6,146.4 269.7,150.9 270.9,155.2 272.3,159.4 273.8,163.7 275.4,168.0 277.0,172.3 278.8,176.7 280.7,181.1 282.6,185.5 284.7,189.9 286.9,194.4 289.1,198.9 291.4,203.4 293.8,208.0 296.2,212.5 298.7,217.2 301.3,221.8 303.9,226.5 306.5,231.2 309.2,236.0 311.9,240.7 314.7,245.6 317.5,250.4 320.3,255.3 323.2,260.3 326.3,265.7 329.7,271.6 333.1,277.5 336.3,283.0 339.0,287.6 340.9,291.0" class="bmesh" fill="none"/>
<polyline points="302.7,120.3 303.3,123.1 304.1,126.9 305.1,131.4 306.2,136.3 307.4,141.2 308.6,145.8 309.8,150.1 311.1,154.4 312.4,158.7 313.8,163.0 315.3,167.3 316.9,171.7 318.6,176.1 320.3,180.5 322.1,184.9 324.0,189.3 326.0,193.8 328.1,198.3 330.2,202.9 332.5,207.4 334.8,212.1 337.1,216.7 339.6,221.4 342.2,226.2 344.9,231.0 347.7,235.9 350.6,240.8 353.5,245.8 356.6,250.8 359.8,255.9 363.4,261.5 367.4,267.6 371.6,273.8 375.4,279.6 378.7,284.5 381.1,288.0" class="bmesh" fill="none"/>
<polyline points="168.3,139.9 222.0,127.8 264.8,125.6 302.7,120.3 327.9,128.4" class="bedge" fill="none"/>
<polyline points="327.9,128.4 328.5,131.0 329.4,134.6 330.4,138.9 331.5,143.6 332.7,148.3 333.9,152.7 335.2,156.9 336.5,161.2 337.9,165.6 339.3,169.9 340.9,174.4 342.5,178.8 344.2,183.3 346.0,187.8 347.8,192.3 349.8,196.9 351.8,201.5 353.9,206.2 356.1,210.9 358.4,215.6 360.8,220.4 363.3,225.2 365.9,230.0 368.6,234.8 371.4,239.6 374.3,244.5 377.3,249.4 380.4,254.3 383.6,259.2 386.9,264.1 390.6,269.4 394.8,275.1 399.1,280.9 403.2,286.2 406.6,290.7 409.1,294.0" class="bedge" fill="none"/>
<polyline points="168.3,139.9 168.9,141.8 169.8,144.4 170.8,147.5 171.9,150.9 173.1,154.5 174.3,158.1 175.6,161.7 176.7,165.1 177.8,168.3 178.9,171.6 180.0,174.8 181.2,178.1 182.3,181.4 183.5,184.7 184.7,188.0 185.9,191.4 187.2,194.8 188.4,198.2 189.7,201.6 191.0,205.0 192.4,208.4 193.7,211.9 195.2,215.4 196.6,218.9 198.1,222.4 199.6,226.0 201.1,229.5 202.7,233.1 204.3,236.7 205.9,240.4 207.6,244.0 209.3,247.7 211.1,251.4 212.8,255.1 214.7,258.8 216.5,262.6 218.4,266.4 220.4,270.1 222.3,274.0 224.4,277.8 226.7,281.9 229.2,286.3 231.8,290.9 234.4,295.4 237.0,299.7 239.3,303.6 241.2,306.9 242.6,309.3" class="bthick" fill="none"/>
<polyline points="242.6,309.3 246.8,308.3 252.5,306.9 259.3,305.2 266.8,303.3 274.6,301.4 282.4,299.6 289.8,297.9 296.5,296.6 302.5,295.5 308.4,294.6 314.0,293.9 319.6,293.2 325.0,292.6 330.3,292.1 335.6,291.5 340.9,291.0 346.3,290.5 351.8,290.0 357.4,289.5 362.8,289.1 368.0,288.7 372.9,288.4 377.3,288.1 381.1,288.0 384.2,288.0 386.8,288.0 388.8,288.1 390.5,288.3 392.0,288.6 393.4,288.9 394.9,289.2 396.5,289.6 398.3,290.0 400.1,290.6 402.0,291.2 403.8,291.9 405.4,292.5 406.9,293.1" class="bthick" fill="none"/>
<polygon points="168.3,139.0 168.6,149.3 174.0,147.6" fill="#000"/>
<polygon points="414.6,295.9 404.0,290.4 406.0,296.6" fill="#000"/>
<line x1="242.8" y1="309" x2="242.8" y2="332" class="barrow"/>
<polygon points="242.9,340.3 240.1,330.2 245.7,330.2" fill="#000"/>
</g>
<line x1="278.2" y1="121.5" x2="259.1" y2="154.1" stroke="#000" stroke-width="1.1"/>
<line x1="126.0" y1="168.6" x2="118.3" y2="200.4" stroke="#000" stroke-width="1.1"/>
<text x="268.2" y="111.5" font-size="17.3" font-weight="bold">1.00</text>
<text x="118.2" y="159.0" font-size="17.3" font-weight="bold">0.95</text>
<g transform="translate(116.5,234.7) rotate(65.5)" font-size="12.8">
<g class="glow"><rect x="0" y="-9.0" width="72.6" height="11.5" rx="2"/><text x="0" y="0"><tspan font-weight="bold" font-style="italic" font-size="13.8">SM</tspan><tspan font-weight="bold" font-size="8.3" dy="3.0">CDFS</tspan><tspan dy="-3.0" dx="2.2">0–0.3</tspan></text>
</g>
<text x="0" y="0" fill="#ee1111"><tspan font-weight="bold" font-style="italic" font-size="13.8">SM</tspan><tspan font-weight="bold" font-size="8.3" dy="3.0">CDFS</tspan><tspan dy="-3.0" dx="2.2">0–0.3</tspan></text>
</g>
<g transform="translate(167.3,315.5) rotate(-15.5)" font-size="12.8">
<g class="glow"><rect x="0" y="-9.0" width="43.1" height="11.5" rx="2"/><text x="0" y="0"><tspan font-weight="bold" font-style="italic" font-size="13.8">SM</tspan><tspan font-weight="bold" font-size="8.3" dy="3.0">RFAN</tspan></text>
<rect x="-4.0" y="5.8" width="51.0" height="10" rx="2"/>
<text x="-4.0" y="14.8">0.15–0.35</text>
</g>
<text x="0" y="0" fill="#ee1111"><tspan font-weight="bold" font-style="italic" font-size="13.8">SM</tspan><tspan font-weight="bold" font-size="8.3" dy="3.0">RFAN</tspan></text>
<text x="-4.0" y="14.8" fill="#ee1111">0.15–0.35</text>
</g>
<g transform="translate(203.0,209.3) rotate(60.0)" font-size="12.8">
<g class="glow"><rect x="0" y="-9.0" width="72.6" height="11.5" rx="2"/><text x="0" y="0"><tspan font-weight="bold" font-style="italic" font-size="13.8">SM</tspan><tspan font-weight="bold" font-size="8.3" dy="3.0">CDFS</tspan><tspan dy="-3.0" dx="2.2">0–0.3</tspan></text>
</g>
<text x="0" y="0" fill="#000"><tspan font-weight="bold" font-style="italic" font-size="13.8">SM</tspan><tspan font-weight="bold" font-size="8.3" dy="3.0">CDFS</tspan><tspan dy="-3.0" dx="2.2">0–0.3</tspan></text>
</g>
<g transform="translate(260.7,293.3) rotate(-7.0)" font-size="12.8">
<g class="glow"><rect x="0" y="-9.0" width="96.3" height="11.5" rx="2"/><text x="0" y="0"><tspan font-weight="bold" font-style="italic" font-size="13.8">SM</tspan><tspan font-weight="bold" font-size="8.3" dy="3.0">RFAN</tspan><tspan dy="-3.0" dx="2.2">0.15–0.35</tspan></text>
</g>
<text x="0" y="0" fill="#000"><tspan font-weight="bold" font-style="italic" font-size="13.8">SM</tspan><tspan font-weight="bold" font-size="8.3" dy="3.0">RFAN</tspan><tspan dy="-3.0" dx="2.2">0.15–0.35</tspan></text>
</g>
<g transform="translate(138.5,381.0) rotate(0.0)" font-size="12.8">
<g class="glow"><rect x="0" y="-9.0" width="37.6" height="11.5" rx="2"/><text x="0" y="0"><tspan font-weight="bold" font-style="italic" font-size="13.8">SM</tspan><tspan font-weight="bold" font-size="8.3" dy="3.0">HPC</tspan></text>
<rect x="0.5" y="4.5" width="35.1" height="10" rx="2"/>
<text x="0.5" y="13.5">0–0.35</text>
</g>
<text x="0" y="0" fill="#ee1111"><tspan font-weight="bold" font-style="italic" font-size="13.8">SM</tspan><tspan font-weight="bold" font-size="8.3" dy="3.0">HPC</tspan></text>
<text x="0.5" y="13.5" fill="#ee1111">0–0.35</text>
</g>
<g transform="translate(222.5,357.0) rotate(0.0)" font-size="12.8">
<g class="glow"><rect x="0" y="-9.0" width="37.6" height="11.5" rx="2"/><text x="0" y="0"><tspan font-weight="bold" font-style="italic" font-size="13.8">SM</tspan><tspan font-weight="bold" font-size="8.3" dy="3.0">HPC</tspan></text>
<rect x="1.5" y="5.0" width="35.1" height="10" rx="2"/>
<text x="1.5" y="14.0">0–0.35</text>
</g>
<text x="0" y="0" fill="#000"><tspan font-weight="bold" font-style="italic" font-size="13.8">SM</tspan><tspan font-weight="bold" font-size="8.3" dy="3.0">HPC</tspan></text>
<text x="1.5" y="14.0" fill="#000">0–0.35</text>
</g>
<g font-size="14.9" fill="#111">
<text x="55.0" y="203.1" text-anchor="end">0.20</text>
<text x="55.0" y="268.6" text-anchor="end">0.10</text>
<text x="55.0" y="333.6" text-anchor="end">0.00</text>
<text x="55.0" y="398.6" text-anchor="end">−0.10</text>
<text x="92.5" y="414.6" text-anchor="end">0.20</text>
<text x="146.9" y="430.1" text-anchor="end">0.30</text>
<text x="201.0" y="446.3" text-anchor="end">0.40</text>
<text x="255.2" y="462.2" text-anchor="end">0.50</text>
<text x="309.0" y="477.8" text-anchor="end">0.60</text>
<text x="333.6" y="470.4">0.20</text>
<text x="383.8" y="426.8">0.15</text>
<text x="433.8" y="382.8">0.10</text>
</g>
<text transform="translate(155.6,459.2) rotate(8.0)" font-size="17.4" font-style="italic">B</text>
<text transform="translate(164.8,468.5) rotate(8.0)" font-size="9.8">2</text>
<text transform="translate(423.2,424.0) rotate(-36.0)" font-size="17.2" font-style="italic">B</text>
<text transform="translate(435.0,421.9) rotate(-36.0)" font-size="9.8">3</text>
<text transform="translate(11.8,272.9) rotate(90.0)" font-size="19.5" font-style="italic">B</text>
<text transform="translate(7.3,283.6) rotate(90.0)" font-size="10.7">1</text>
<defs><linearGradient id="cb" x1="0" y1="0" x2="0" y2="1">
<stop offset="0.0000" stop-color="#d7192a"/>
<stop offset="0.0833" stop-color="#ee4436"/>
<stop offset="0.1667" stop-color="#fb7a50"/>
<stop offset="0.2500" stop-color="#fca283"/>
<stop offset="0.3333" stop-color="#fdc6b0"/>
<stop offset="0.4167" stop-color="#fde2d6"/>
<stop offset="0.5000" stop-color="#f7f4f2"/>
<stop offset="0.5833" stop-color="#e1edf4"/>
<stop offset="0.6667" stop-color="#c3deed"/>
<stop offset="0.7500" stop-color="#8cc6e0"/>
<stop offset="0.8333" stop-color="#4aacd3"/>
<stop offset="0.9167" stop-color="#1493c8"/>
<stop offset="1.0000" stop-color="#066eb4"/>
</linearGradient></defs>
<rect x="476.0" y="84.2" width="22.4" height="251.4" fill="url(#cb)"/>
<g font-size="14.9" fill="#111">
<text x="515.6" y="89.8">1.10</text>
<line x1="476.0" y1="105.2" x2="498.4" y2="105.2" stroke="#000" stroke-opacity="0.25" stroke-width="0.8"/>
<text x="515.6" y="110.8">1.05</text>
<line x1="476.0" y1="126.1" x2="498.4" y2="126.1" stroke="#000" stroke-opacity="0.25" stroke-width="0.8"/>
<text x="515.6" y="131.7">1.00</text>
<line x1="476.0" y1="147.1" x2="498.4" y2="147.1" stroke="#000" stroke-opacity="0.25" stroke-width="0.8"/>
<text x="515.6" y="152.7">0.95</text>
<line x1="476.0" y1="168.0" x2="498.4" y2="168.0" stroke="#000" stroke-opacity="0.25" stroke-width="0.8"/>
<text x="515.6" y="173.6">0.90</text>
<line x1="476.0" y1="189.0" x2="498.4" y2="189.0" stroke="#000" stroke-opacity="0.25" stroke-width="0.8"/>
<text x="515.6" y="194.6">0.85</text>
<line x1="476.0" y1="209.9" x2="498.4" y2="209.9" stroke="#000" stroke-opacity="0.25" stroke-width="0.8"/>
<text x="515.6" y="215.5">0.80</text>
<line x1="476.0" y1="230.9" x2="498.4" y2="230.9" stroke="#000" stroke-opacity="0.25" stroke-width="0.8"/>
<text x="515.6" y="236.5">0.75</text>
<line x1="476.0" y1="251.8" x2="498.4" y2="251.8" stroke="#000" stroke-opacity="0.25" stroke-width="0.8"/>
<text x="515.6" y="257.4">0.70</text>
<line x1="476.0" y1="272.8" x2="498.4" y2="272.8" stroke="#000" stroke-opacity="0.25" stroke-width="0.8"/>
<text x="515.6" y="278.4">0.65</text>
<line x1="476.0" y1="293.7" x2="498.4" y2="293.7" stroke="#000" stroke-opacity="0.25" stroke-width="0.8"/>
<text x="515.6" y="299.3">0.60</text>
<line x1="476.0" y1="314.7" x2="498.4" y2="314.7" stroke="#000" stroke-opacity="0.25" stroke-width="0.8"/>
<text x="515.6" y="320.3">0.55</text>
<text x="515.6" y="341.2">0.50</text>
</g>
<text x="514.2" y="73.2" font-size="19" font-style="italic">B</text><text x="525.6" y="78.4" font-size="10.5">tot</text>
</svg>
</body></html>
